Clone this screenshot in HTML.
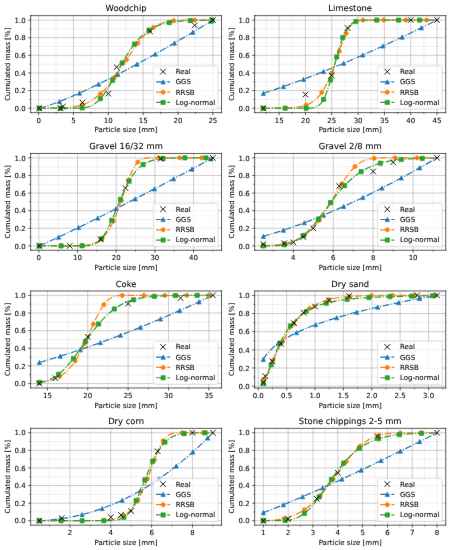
<!DOCTYPE html>
<html><head><meta charset="utf-8"><title>Particle size distributions</title>
<style>html,body{margin:0;padding:0;background:#fff;}body{width:453px;height:550px;overflow:hidden;}svg{display:block;text-rendering:geometricPrecision;}svg text{stroke:#000;stroke-width:0.1px;stroke-linejoin:round;}</style>
</head><body>
<svg width="453" height="550" viewBox="0 0 647.14 785.71">
<defs><filter id="soft" x="0" y="0" width="1" height="1" color-interpolation-filters="sRGB"><feConvolveMatrix order="3" kernelMatrix="0 0.04 0 0.04 0.84 0.04 0 0.04 0" edgeMode="duplicate" preserveAlpha="true"/></filter>
<style type="text/css">*{stroke-linejoin: round; stroke-linecap: butt}</style>
</defs>
<g filter="url(#soft)"><g id="figure_1" transform="translate(0.36 0.36)">
<g id="patch_1">
<path d="M 0 785.71 
L 647.14 785.71 
L 647.14 0 
L 0 0 
z
" style="fill: #ffffff"/>
</g>
<g id="axes_1">
<g id="patch_2">
<path d="M 43.43 160.57 
L 316.14 160.57 
L 316.14 22 
L 43.43 22 
z
" style="fill: #ffffff"/>
</g>
<g id="matplotlib.axis_1">
<g id="xtick_1">
<g id="line2d_1">
<path d="M 54.83 160.57 
L 54.83 22 
" clip-path="url(#pbe98b4c675)" style="fill: none; stroke: #b0b0b0; stroke-width: 0.92; stroke-linecap: square"/>
</g>
<g id="line2d_2">
<g>
<path d="M 0 0 
L 0 3.5 
" transform="translate(54.83 160.57)" style="stroke: #000000; stroke-width: 0.92"/>
</g>
</g>
<g id="text_1">
<text style="font-size: 10px; font-family: 'DejaVu Sans', 'Liberation Sans', sans-serif; text-anchor: middle" x="54.83" y="175.17">0</text>
</g>
</g>
<g id="xtick_2">
<g id="line2d_3">
<path d="M 104.61 160.57 
L 104.61 22 
" clip-path="url(#pbe98b4c675)" style="fill: none; stroke: #b0b0b0; stroke-width: 0.92; stroke-linecap: square"/>
</g>
<g id="line2d_4">
<g>
<path d="M 0 0 
L 0 3.5 
" transform="translate(104.61 160.57)" style="stroke: #000000; stroke-width: 0.92"/>
</g>
</g>
<g id="text_2">
<text style="font-size: 10px; font-family: 'DejaVu Sans', 'Liberation Sans', sans-serif; text-anchor: middle" x="104.61" y="175.17">5</text>
</g>
</g>
<g id="xtick_3">
<g id="line2d_5">
<path d="M 154.4 160.57 
L 154.4 22 
" clip-path="url(#pbe98b4c675)" style="fill: none; stroke: #b0b0b0; stroke-width: 0.92; stroke-linecap: square"/>
</g>
<g id="line2d_6">
<g>
<path d="M 0 0 
L 0 3.5 
" transform="translate(154.4 160.57)" style="stroke: #000000; stroke-width: 0.92"/>
</g>
</g>
<g id="text_3">
<text style="font-size: 10px; font-family: 'DejaVu Sans', 'Liberation Sans', sans-serif; text-anchor: middle" x="154.4" y="175.17">10</text>
</g>
</g>
<g id="xtick_4">
<g id="line2d_7">
<path d="M 204.18 160.57 
L 204.18 22 
" clip-path="url(#pbe98b4c675)" style="fill: none; stroke: #b0b0b0; stroke-width: 0.92; stroke-linecap: square"/>
</g>
<g id="line2d_8">
<g>
<path d="M 0 0 
L 0 3.5 
" transform="translate(204.18 160.57)" style="stroke: #000000; stroke-width: 0.92"/>
</g>
</g>
<g id="text_4">
<text style="font-size: 10px; font-family: 'DejaVu Sans', 'Liberation Sans', sans-serif; text-anchor: middle" x="204.18" y="175.17">15</text>
</g>
</g>
<g id="xtick_5">
<g id="line2d_9">
<path d="M 253.96 160.57 
L 253.96 22 
" clip-path="url(#pbe98b4c675)" style="fill: none; stroke: #b0b0b0; stroke-width: 0.92; stroke-linecap: square"/>
</g>
<g id="line2d_10">
<g>
<path d="M 0 0 
L 0 3.5 
" transform="translate(253.96 160.57)" style="stroke: #000000; stroke-width: 0.92"/>
</g>
</g>
<g id="text_5">
<text style="font-size: 10px; font-family: 'DejaVu Sans', 'Liberation Sans', sans-serif; text-anchor: middle" x="253.96" y="175.17">20</text>
</g>
</g>
<g id="xtick_6">
<g id="line2d_11">
<path d="M 303.75 160.57 
L 303.75 22 
" clip-path="url(#pbe98b4c675)" style="fill: none; stroke: #b0b0b0; stroke-width: 0.92; stroke-linecap: square"/>
</g>
<g id="line2d_12">
<g>
<path d="M 0 0 
L 0 3.5 
" transform="translate(303.75 160.57)" style="stroke: #000000; stroke-width: 0.92"/>
</g>
</g>
<g id="text_6">
<text style="font-size: 10px; font-family: 'DejaVu Sans', 'Liberation Sans', sans-serif; text-anchor: middle" x="303.75" y="175.17">25</text>
</g>
</g>
<g id="xtick_7">
<g id="line2d_13">
<path d="M 79.72 160.57 
L 79.72 22 
" clip-path="url(#pbe98b4c675)" style="fill: none; stroke: #b0b0b0; stroke-opacity: 0.3; stroke-width: 0.92; stroke-linecap: square"/>
</g>
<g id="line2d_14">
<g>
<path d="M 0 0 
L 0 2 
" transform="translate(79.72 160.57)" style="stroke: #000000; stroke-width: 0.69"/>
</g>
</g>
</g>
<g id="xtick_8">
<g id="line2d_15">
<path d="M 129.5 160.57 
L 129.5 22 
" clip-path="url(#pbe98b4c675)" style="fill: none; stroke: #b0b0b0; stroke-opacity: 0.3; stroke-width: 0.92; stroke-linecap: square"/>
</g>
<g id="line2d_16">
<g>
<path d="M 0 0 
L 0 2 
" transform="translate(129.5 160.57)" style="stroke: #000000; stroke-width: 0.69"/>
</g>
</g>
</g>
<g id="xtick_9">
<g id="line2d_17">
<path d="M 179.29 160.57 
L 179.29 22 
" clip-path="url(#pbe98b4c675)" style="fill: none; stroke: #b0b0b0; stroke-opacity: 0.3; stroke-width: 0.92; stroke-linecap: square"/>
</g>
<g id="line2d_18">
<g>
<path d="M 0 0 
L 0 2 
" transform="translate(179.29 160.57)" style="stroke: #000000; stroke-width: 0.69"/>
</g>
</g>
</g>
<g id="xtick_10">
<g id="line2d_19">
<path d="M 229.07 160.57 
L 229.07 22 
" clip-path="url(#pbe98b4c675)" style="fill: none; stroke: #b0b0b0; stroke-opacity: 0.3; stroke-width: 0.92; stroke-linecap: square"/>
</g>
<g id="line2d_20">
<g>
<path d="M 0 0 
L 0 2 
" transform="translate(229.07 160.57)" style="stroke: #000000; stroke-width: 0.69"/>
</g>
</g>
</g>
<g id="xtick_11">
<g id="line2d_21">
<path d="M 278.85 160.57 
L 278.85 22 
" clip-path="url(#pbe98b4c675)" style="fill: none; stroke: #b0b0b0; stroke-opacity: 0.3; stroke-width: 0.92; stroke-linecap: square"/>
</g>
<g id="line2d_22">
<g>
<path d="M 0 0 
L 0 2 
" transform="translate(278.85 160.57)" style="stroke: #000000; stroke-width: 0.69"/>
</g>
</g>
</g>
<g id="text_7">
<text style="font-size: 10px; font-family: 'DejaVu Sans', 'Liberation Sans', sans-serif; text-anchor: middle" x="179.79" y="188.85">Particle size [mm]</text>
</g>
</g>
<g id="matplotlib.axis_2">
<g id="ytick_1">
<g id="line2d_23">
<path d="M 43.43 154.27 
L 316.14 154.27 
" clip-path="url(#pbe98b4c675)" style="fill: none; stroke: #b0b0b0; stroke-width: 0.92; stroke-linecap: square"/>
</g>
<g id="line2d_24">
<g>
<path d="M 0 0 
L -3.5 0 
" transform="translate(43.43 154.27)" style="stroke: #000000; stroke-width: 0.92"/>
</g>
</g>
<g id="text_8">
<text style="font-size: 10px; font-family: 'DejaVu Sans', 'Liberation Sans', sans-serif; text-anchor: end" x="36.43" y="158.07">0.0</text>
</g>
</g>
<g id="ytick_2">
<g id="line2d_25">
<path d="M 43.43 129.08 
L 316.14 129.08 
" clip-path="url(#pbe98b4c675)" style="fill: none; stroke: #b0b0b0; stroke-width: 0.92; stroke-linecap: square"/>
</g>
<g id="line2d_26">
<g>
<path d="M 0 0 
L -3.5 0 
" transform="translate(43.43 129.08)" style="stroke: #000000; stroke-width: 0.92"/>
</g>
</g>
<g id="text_9">
<text style="font-size: 10px; font-family: 'DejaVu Sans', 'Liberation Sans', sans-serif; text-anchor: end" x="36.43" y="132.88">0.2</text>
</g>
</g>
<g id="ytick_3">
<g id="line2d_27">
<path d="M 43.43 103.88 
L 316.14 103.88 
" clip-path="url(#pbe98b4c675)" style="fill: none; stroke: #b0b0b0; stroke-width: 0.92; stroke-linecap: square"/>
</g>
<g id="line2d_28">
<g>
<path d="M 0 0 
L -3.5 0 
" transform="translate(43.43 103.88)" style="stroke: #000000; stroke-width: 0.92"/>
</g>
</g>
<g id="text_10">
<text style="font-size: 10px; font-family: 'DejaVu Sans', 'Liberation Sans', sans-serif; text-anchor: end" x="36.43" y="107.68">0.4</text>
</g>
</g>
<g id="ytick_4">
<g id="line2d_29">
<path d="M 43.43 78.69 
L 316.14 78.69 
" clip-path="url(#pbe98b4c675)" style="fill: none; stroke: #b0b0b0; stroke-width: 0.92; stroke-linecap: square"/>
</g>
<g id="line2d_30">
<g>
<path d="M 0 0 
L -3.5 0 
" transform="translate(43.43 78.69)" style="stroke: #000000; stroke-width: 0.92"/>
</g>
</g>
<g id="text_11">
<text style="font-size: 10px; font-family: 'DejaVu Sans', 'Liberation Sans', sans-serif; text-anchor: end" x="36.43" y="82.49">0.6</text>
</g>
</g>
<g id="ytick_5">
<g id="line2d_31">
<path d="M 43.43 53.49 
L 316.14 53.49 
" clip-path="url(#pbe98b4c675)" style="fill: none; stroke: #b0b0b0; stroke-width: 0.92; stroke-linecap: square"/>
</g>
<g id="line2d_32">
<g>
<path d="M 0 0 
L -3.5 0 
" transform="translate(43.43 53.49)" style="stroke: #000000; stroke-width: 0.92"/>
</g>
</g>
<g id="text_12">
<text style="font-size: 10px; font-family: 'DejaVu Sans', 'Liberation Sans', sans-serif; text-anchor: end" x="36.43" y="57.29">0.8</text>
</g>
</g>
<g id="ytick_6">
<g id="line2d_33">
<path d="M 43.43 28.3 
L 316.14 28.3 
" clip-path="url(#pbe98b4c675)" style="fill: none; stroke: #b0b0b0; stroke-width: 0.92; stroke-linecap: square"/>
</g>
<g id="line2d_34">
<g>
<path d="M 0 0 
L -3.5 0 
" transform="translate(43.43 28.3)" style="stroke: #000000; stroke-width: 0.92"/>
</g>
</g>
<g id="text_13">
<text style="font-size: 10px; font-family: 'DejaVu Sans', 'Liberation Sans', sans-serif; text-anchor: end" x="36.43" y="32.1">1.0</text>
</g>
</g>
<g id="ytick_7">
<g id="line2d_35">
<path d="M 43.43 141.68 
L 316.14 141.68 
" clip-path="url(#pbe98b4c675)" style="fill: none; stroke: #b0b0b0; stroke-opacity: 0.3; stroke-width: 0.92; stroke-linecap: square"/>
</g>
<g id="line2d_36">
<g>
<path d="M 0 0 
L -2 0 
" transform="translate(43.43 141.68)" style="stroke: #000000; stroke-width: 0.69"/>
</g>
</g>
</g>
<g id="ytick_8">
<g id="line2d_37">
<path d="M 43.43 116.48 
L 316.14 116.48 
" clip-path="url(#pbe98b4c675)" style="fill: none; stroke: #b0b0b0; stroke-opacity: 0.3; stroke-width: 0.92; stroke-linecap: square"/>
</g>
<g id="line2d_38">
<g>
<path d="M 0 0 
L -2 0 
" transform="translate(43.43 116.48)" style="stroke: #000000; stroke-width: 0.69"/>
</g>
</g>
</g>
<g id="ytick_9">
<g id="line2d_39">
<path d="M 43.43 91.29 
L 316.14 91.29 
" clip-path="url(#pbe98b4c675)" style="fill: none; stroke: #b0b0b0; stroke-opacity: 0.3; stroke-width: 0.92; stroke-linecap: square"/>
</g>
<g id="line2d_40">
<g>
<path d="M 0 0 
L -2 0 
" transform="translate(43.43 91.29)" style="stroke: #000000; stroke-width: 0.69"/>
</g>
</g>
</g>
<g id="ytick_10">
<g id="line2d_41">
<path d="M 43.43 66.09 
L 316.14 66.09 
" clip-path="url(#pbe98b4c675)" style="fill: none; stroke: #b0b0b0; stroke-opacity: 0.3; stroke-width: 0.92; stroke-linecap: square"/>
</g>
<g id="line2d_42">
<g>
<path d="M 0 0 
L -2 0 
" transform="translate(43.43 66.09)" style="stroke: #000000; stroke-width: 0.69"/>
</g>
</g>
</g>
<g id="ytick_11">
<g id="line2d_43">
<path d="M 43.43 40.9 
L 316.14 40.9 
" clip-path="url(#pbe98b4c675)" style="fill: none; stroke: #b0b0b0; stroke-opacity: 0.3; stroke-width: 0.92; stroke-linecap: square"/>
</g>
<g id="line2d_44">
<g>
<path d="M 0 0 
L -2 0 
" transform="translate(43.43 40.9)" style="stroke: #000000; stroke-width: 0.69"/>
</g>
</g>
</g>
<g id="text_14">
<text style="font-size: 10px; font-family: 'DejaVu Sans', 'Liberation Sans', sans-serif; text-anchor: middle" x="14.45" y="91.29" transform="rotate(-90 14.45 91.29)">Cumulated mass [%]</text>
</g>
</g>
<g id="line2d_45">
<path d="M 55.82 154.12 
L 59.56 153.24 
L 64.55 151.81 
L 70.77 149.78 
L 78.25 147.11 
L 86.97 143.76 
L 96.94 139.68 
L 108.15 134.84 
L 120.61 129.21 
L 134.31 122.74 
L 148.02 116.02 
L 162.97 108.46 
L 179.16 100 
L 196.6 90.64 
L 214.05 81.02 
L 232.73 70.46 
L 252.67 58.93 
L 272.6 47.16 
L 293.78 34.39 
L 303.75 28.3 
L 303.75 28.3 
" clip-path="url(#pbe98b4c675)" style="fill: none; stroke-dasharray: 9.6,2.4,1.5,2.4; stroke-dashoffset: 0; stroke: #1f77b4; stroke-width: 1.73"/>
<g clip-path="url(#pbe98b4c675)">
<path d="M 0 -3 
L -3 3 
L 3 3 
z
" transform="translate(55.82 154.12)" style="fill: #1f77b4; stroke: #1f77b4; stroke-linejoin: miter"/>
<path d="M 0 -3 
L -3 3 
L 3 3 
z
" transform="translate(84.48 144.74)" style="fill: #1f77b4; stroke: #1f77b4; stroke-linejoin: miter"/>
<path d="M 0 -3 
L -3 3 
L 3 3 
z
" transform="translate(113.13 132.62)" style="fill: #1f77b4; stroke: #1f77b4; stroke-linejoin: miter"/>
<path d="M 0 -3 
L -3 3 
L 3 3 
z
" transform="translate(140.54 119.71)" style="fill: #1f77b4; stroke: #1f77b4; stroke-linejoin: miter"/>
<path d="M 0 -3 
L -3 3 
L 3 3 
z
" transform="translate(167.95 105.88)" style="fill: #1f77b4; stroke: #1f77b4; stroke-linejoin: miter"/>
<path d="M 0 -3 
L -3 3 
L 3 3 
z
" transform="translate(195.36 91.31)" style="fill: #1f77b4; stroke: #1f77b4; stroke-linejoin: miter"/>
<path d="M 0 -3 
L -3 3 
L 3 3 
z
" transform="translate(221.52 76.82)" style="fill: #1f77b4; stroke: #1f77b4; stroke-linejoin: miter"/>
<path d="M 0 -3 
L -3 3 
L 3 3 
z
" transform="translate(248.93 61.11)" style="fill: #1f77b4; stroke: #1f77b4; stroke-linejoin: miter"/>
<path d="M 0 -3 
L -3 3 
L 3 3 
z
" transform="translate(275.09 45.67)" style="fill: #1f77b4; stroke: #1f77b4; stroke-linejoin: miter"/>
<path d="M 0 -3 
L -3 3 
L 3 3 
z
" transform="translate(301.26 29.83)" style="fill: #1f77b4; stroke: #1f77b4; stroke-linejoin: miter"/>
</g>
</g>
<g id="line2d_46">
<path d="M 55.82 154.27 
L 79.5 154.17 
L 88.22 153.91 
L 94.45 153.52 
L 99.43 153.03 
L 104.41 152.33 
L 109.4 151.37 
L 113.13 150.45 
L 116.87 149.31 
L 120.61 147.95 
L 124.35 146.33 
L 128.08 144.43 
L 131.82 142.23 
L 135.56 139.71 
L 139.3 136.84 
L 143.03 133.63 
L 146.77 130.06 
L 150.51 126.13 
L 154.25 121.85 
L 157.98 117.25 
L 161.72 112.33 
L 166.7 105.38 
L 172.93 96.17 
L 191.62 68.03 
L 196.6 61.17 
L 200.34 56.4 
L 204.08 51.99 
L 207.82 47.99 
L 211.55 44.41 
L 215.29 41.27 
L 217.78 39.43 
L 220.28 37.77 
L 222.77 36.29 
L 226.5 34.4 
L 230.24 32.86 
L 233.98 31.64 
L 237.72 30.7 
L 241.45 29.98 
L 246.44 29.31 
L 251.42 28.88 
L 257.65 28.57 
L 266.37 28.38 
L 282.57 28.3 
L 303.75 28.3 
L 303.75 28.3 
" clip-path="url(#pbe98b4c675)" style="fill: none; stroke-dasharray: 9.6,2.4,1.5,2.4; stroke-dashoffset: 0; stroke: #ff7f0e; stroke-width: 1.73"/>
<g clip-path="url(#pbe98b4c675)">
<path d="M 0 3 
C 0.8 3 1.56 2.68 2.12 2.12 
C 2.68 1.56 3 0.8 3 0 
C 3 -0.8 2.68 -1.56 2.12 -2.12 
C 1.56 -2.68 0.8 -3 0 -3 
C -0.8 -3 -1.56 -2.68 -2.12 -2.12 
C -2.68 -1.56 -3 -0.8 -3 0 
C -3 0.8 -2.68 1.56 -2.12 2.12 
C -1.56 2.68 -0.8 3 0 3 
z
" transform="translate(55.82 154.27)" style="fill: #ff7f0e; stroke: #ff7f0e"/>
<path d="M 0 3 
C 0.8 3 1.56 2.68 2.12 2.12 
C 2.68 1.56 3 0.8 3 0 
C 3 -0.8 2.68 -1.56 2.12 -2.12 
C 1.56 -2.68 0.8 -3 0 -3 
C -0.8 -3 -1.56 -2.68 -2.12 -2.12 
C -2.68 -1.56 -3 -0.8 -3 0 
C -3 0.8 -2.68 1.56 -2.12 2.12 
C -1.56 2.68 -0.8 3 0 3 
z
" transform="translate(86.97 153.96)" style="fill: #ff7f0e; stroke: #ff7f0e"/>
<path d="M 0 3 
C 0.8 3 1.56 2.68 2.12 2.12 
C 2.68 1.56 3 0.8 3 0 
C 3 -0.8 2.68 -1.56 2.12 -2.12 
C 1.56 -2.68 0.8 -3 0 -3 
C -0.8 -3 -1.56 -2.68 -2.12 -2.12 
C -2.68 -1.56 -3 -0.8 -3 0 
C -3 0.8 -2.68 1.56 -2.12 2.12 
C -1.56 2.68 -0.8 3 0 3 
z
" transform="translate(116.87 149.31)" style="fill: #ff7f0e; stroke: #ff7f0e"/>
<path d="M 0 3 
C 0.8 3 1.56 2.68 2.12 2.12 
C 2.68 1.56 3 0.8 3 0 
C 3 -0.8 2.68 -1.56 2.12 -2.12 
C 1.56 -2.68 0.8 -3 0 -3 
C -0.8 -3 -1.56 -2.68 -2.12 -2.12 
C -2.68 -1.56 -3 -0.8 -3 0 
C -3 0.8 -2.68 1.56 -2.12 2.12 
C -1.56 2.68 -0.8 3 0 3 
z
" transform="translate(143.03 133.63)" style="fill: #ff7f0e; stroke: #ff7f0e"/>
<path d="M 0 3 
C 0.8 3 1.56 2.68 2.12 2.12 
C 2.68 1.56 3 0.8 3 0 
C 3 -0.8 2.68 -1.56 2.12 -2.12 
C 1.56 -2.68 0.8 -3 0 -3 
C -0.8 -3 -1.56 -2.68 -2.12 -2.12 
C -2.68 -1.56 -3 -0.8 -3 0 
C -3 0.8 -2.68 1.56 -2.12 2.12 
C -1.56 2.68 -0.8 3 0 3 
z
" transform="translate(162.97 110.64)" style="fill: #ff7f0e; stroke: #ff7f0e"/>
<path d="M 0 3 
C 0.8 3 1.56 2.68 2.12 2.12 
C 2.68 1.56 3 0.8 3 0 
C 3 -0.8 2.68 -1.56 2.12 -2.12 
C 1.56 -2.68 0.8 -3 0 -3 
C -0.8 -3 -1.56 -2.68 -2.12 -2.12 
C -2.68 -1.56 -3 -0.8 -3 0 
C -3 0.8 -2.68 1.56 -2.12 2.12 
C -1.56 2.68 -0.8 3 0 3 
z
" transform="translate(180.41 84.76)" style="fill: #ff7f0e; stroke: #ff7f0e"/>
<path d="M 0 3 
C 0.8 3 1.56 2.68 2.12 2.12 
C 2.68 1.56 3 0.8 3 0 
C 3 -0.8 2.68 -1.56 2.12 -2.12 
C 1.56 -2.68 0.8 -3 0 -3 
C -0.8 -3 -1.56 -2.68 -2.12 -2.12 
C -2.68 -1.56 -3 -0.8 -3 0 
C -3 0.8 -2.68 1.56 -2.12 2.12 
C -1.56 2.68 -0.8 3 0 3 
z
" transform="translate(196.6 61.17)" style="fill: #ff7f0e; stroke: #ff7f0e"/>
<path d="M 0 3 
C 0.8 3 1.56 2.68 2.12 2.12 
C 2.68 1.56 3 0.8 3 0 
C 3 -0.8 2.68 -1.56 2.12 -2.12 
C 1.56 -2.68 0.8 -3 0 -3 
C -0.8 -3 -1.56 -2.68 -2.12 -2.12 
C -2.68 -1.56 -3 -0.8 -3 0 
C -3 0.8 -2.68 1.56 -2.12 2.12 
C -1.56 2.68 -0.8 3 0 3 
z
" transform="translate(219.03 38.57)" style="fill: #ff7f0e; stroke: #ff7f0e"/>
<path d="M 0 3 
C 0.8 3 1.56 2.68 2.12 2.12 
C 2.68 1.56 3 0.8 3 0 
C 3 -0.8 2.68 -1.56 2.12 -2.12 
C 1.56 -2.68 0.8 -3 0 -3 
C -0.8 -3 -1.56 -2.68 -2.12 -2.12 
C -2.68 -1.56 -3 -0.8 -3 0 
C -3 0.8 -2.68 1.56 -2.12 2.12 
C -1.56 2.68 -0.8 3 0 3 
z
" transform="translate(247.68 29.18)" style="fill: #ff7f0e; stroke: #ff7f0e"/>
<path d="M 0 3 
C 0.8 3 1.56 2.68 2.12 2.12 
C 2.68 1.56 3 0.8 3 0 
C 3 -0.8 2.68 -1.56 2.12 -2.12 
C 1.56 -2.68 0.8 -3 0 -3 
C -0.8 -3 -1.56 -2.68 -2.12 -2.12 
C -2.68 -1.56 -3 -0.8 -3 0 
C -3 0.8 -2.68 1.56 -2.12 2.12 
C -1.56 2.68 -0.8 3 0 3 
z
" transform="translate(277.58 28.31)" style="fill: #ff7f0e; stroke: #ff7f0e"/>
</g>
</g>
<g id="line2d_47">
<path d="M 55.82 154.27 
L 110.64 154.17 
L 115.62 153.94 
L 119.36 153.58 
L 123.1 152.94 
L 125.59 152.31 
L 128.08 151.47 
L 130.58 150.4 
L 133.07 149.05 
L 135.56 147.41 
L 138.05 145.45 
L 140.54 143.17 
L 143.03 140.55 
L 145.53 137.61 
L 148.02 134.36 
L 150.51 130.81 
L 154.25 125.01 
L 157.98 118.75 
L 162.97 109.91 
L 175.43 87.42 
L 180.41 79.02 
L 184.15 73.14 
L 187.88 67.67 
L 191.62 62.66 
L 195.36 58.1 
L 199.1 54 
L 202.83 50.35 
L 206.57 47.13 
L 210.31 44.3 
L 214.05 41.84 
L 217.78 39.71 
L 221.52 37.88 
L 225.26 36.32 
L 229 34.98 
L 232.73 33.86 
L 237.72 32.63 
L 242.7 31.65 
L 247.68 30.89 
L 253.91 30.16 
L 261.39 29.55 
L 270.11 29.07 
L 281.32 28.72 
L 296.27 28.48 
L 303.75 28.42 
L 303.75 28.42 
" clip-path="url(#pbe98b4c675)" style="fill: none; stroke-dasharray: 9.6,2.4,1.5,2.4; stroke-dashoffset: 0; stroke: #2ca02c; stroke-width: 1.73"/>
<g clip-path="url(#pbe98b4c675)">
<path d="M -3 3 
L 3 3 
L 3 -3 
L -3 -3 
z
" transform="translate(55.82 154.27)" style="fill: #2ca02c; stroke: #2ca02c; stroke-linejoin: miter"/>
<path d="M -3 3 
L 3 3 
L 3 -3 
L -3 -3 
z
" transform="translate(85.72 154.27)" style="fill: #2ca02c; stroke: #2ca02c; stroke-linejoin: miter"/>
<path d="M -3 3 
L 3 3 
L 3 -3 
L -3 -3 
z
" transform="translate(116.87 153.84)" style="fill: #2ca02c; stroke: #2ca02c; stroke-linejoin: miter"/>
<path d="M -3 3 
L 3 3 
L 3 -3 
L -3 -3 
z
" transform="translate(143.03 140.55)" style="fill: #2ca02c; stroke: #2ca02c; stroke-linejoin: miter"/>
<path d="M -3 3 
L 3 3 
L 3 -3 
L -3 -3 
z
" transform="translate(160.48 114.38)" style="fill: #2ca02c; stroke: #2ca02c; stroke-linejoin: miter"/>
<path d="M -3 3 
L 3 3 
L 3 -3 
L -3 -3 
z
" transform="translate(174.18 89.6)" style="fill: #2ca02c; stroke: #2ca02c; stroke-linejoin: miter"/>
<path d="M -3 3 
L 3 3 
L 3 -3 
L -3 -3 
z
" transform="translate(191.62 62.66)" style="fill: #2ca02c; stroke: #2ca02c; stroke-linejoin: miter"/>
<path d="M -3 3 
L 3 3 
L 3 -3 
L -3 -3 
z
" transform="translate(212.8 42.62)" style="fill: #2ca02c; stroke: #2ca02c; stroke-linejoin: miter"/>
<path d="M -3 3 
L 3 3 
L 3 -3 
L -3 -3 
z
" transform="translate(241.45 31.88)" style="fill: #2ca02c; stroke: #2ca02c; stroke-linejoin: miter"/>
<path d="M -3 3 
L 3 3 
L 3 -3 
L -3 -3 
z
" transform="translate(271.35 29.02)" style="fill: #2ca02c; stroke: #2ca02c; stroke-linejoin: miter"/>
<path d="M -3 3 
L 3 3 
L 3 -3 
L -3 -3 
z
" transform="translate(302.5 28.42)" style="fill: #2ca02c; stroke: #2ca02c; stroke-linejoin: miter"/>
</g>
</g>
<g id="patch_3">
<path d="M 43.43 160.57 
L 43.43 22 
" style="fill: none; stroke: #000000; stroke-width: 0.92; stroke-linejoin: miter; stroke-linecap: square"/>
</g>
<g id="patch_4">
<path d="M 316.14 160.57 
L 316.14 22 
" style="fill: none; stroke: #000000; stroke-width: 0.92; stroke-linejoin: miter; stroke-linecap: square"/>
</g>
<g id="patch_5">
<path d="M 43.43 160.57 
L 316.14 160.57 
" style="fill: none; stroke: #000000; stroke-width: 0.92; stroke-linejoin: miter; stroke-linecap: square"/>
</g>
<g id="patch_6">
<path d="M 43.43 22 
L 316.14 22 
" style="fill: none; stroke: #000000; stroke-width: 0.92; stroke-linejoin: miter; stroke-linecap: square"/>
</g>
<g id="line2d_48">
<g clip-path="url(#pbe98b4c675)">
<path d="M -4 4 
L 4 -4 
M -4 -4 
L 4 4 
" transform="translate(55.82 154.27)" style="stroke: #000000; stroke-width: 1.26"/>
<path d="M -4 4 
L 4 -4 
M -4 -4 
L 4 4 
" transform="translate(86.19 154.27)" style="stroke: #000000; stroke-width: 1.26"/>
<path d="M -4 4 
L 4 -4 
M -4 -4 
L 4 4 
" transform="translate(89.68 151.75)" style="stroke: #000000; stroke-width: 1.26"/>
<path d="M -4 4 
L 4 -4 
M -4 -4 
L 4 4 
" transform="translate(117.56 146.21)" style="stroke: #000000; stroke-width: 1.26"/>
<path d="M -4 4 
L 4 -4 
M -4 -4 
L 4 4 
" transform="translate(154.4 133.36)" style="stroke: #000000; stroke-width: 1.26"/>
<path d="M -4 4 
L 4 -4 
M -4 -4 
L 4 4 
" transform="translate(166.34 95.57)" style="stroke: #000000; stroke-width: 1.26"/>
<path d="M -4 4 
L 4 -4 
M -4 -4 
L 4 4 
" transform="translate(214.14 44.68)" style="stroke: #000000; stroke-width: 1.26"/>
<path d="M -4 4 
L 4 -4 
M -4 -4 
L 4 4 
" transform="translate(277.86 35.86)" style="stroke: #000000; stroke-width: 1.26"/>
<path d="M -4 4 
L 4 -4 
M -4 -4 
L 4 4 
" transform="translate(303.75 28.3)" style="stroke: #000000; stroke-width: 1.26"/>
</g>
</g>
<g id="text_15">
<text style="font-size: 12px; font-family: 'DejaVu Sans', 'Liberation Sans', sans-serif; text-anchor: middle" x="179.79" y="16">Woodchip</text>
</g>
<g id="legend_1">
<g id="patch_7">
<path d="M 220.63 155.57 
L 309.14 155.57 
Q 311.14 155.57 311.14 153.57 
L 311.14 95.86 
Q 311.14 93.86 309.14 93.86 
L 220.63 93.86 
Q 218.63 93.86 218.63 95.86 
L 218.63 153.57 
Q 218.63 155.57 220.63 155.57 
z
" style="fill: #ffffff; opacity: 0.8; stroke: #cccccc; stroke-linejoin: miter"/>
</g>
<g id="line2d_49">
<g>
<path d="M -4 4 
L 4 -4 
M -4 -4 
L 4 4 
" transform="translate(232.63 101.96)" style="stroke: #000000; stroke-width: 1.26"/>
</g>
</g>
<g id="text_16">
<text style="font-size: 10px; font-family: 'DejaVu Sans', 'Liberation Sans', sans-serif; text-anchor: start" x="250.63" y="105.46">Real</text>
</g>
<g id="line2d_50">
<path d="M 222.63 116.64 
L 232.63 116.64 
L 242.63 116.64 
" style="fill: none; stroke-dasharray: 9.6,2.4,1.5,2.4; stroke-dashoffset: 0; stroke: #1f77b4; stroke-width: 1.73"/>
<g>
<path d="M 0 -3 
L -3 3 
L 3 3 
z
" transform="translate(232.63 116.64)" style="fill: #1f77b4; stroke: #1f77b4; stroke-linejoin: miter"/>
</g>
</g>
<g id="text_17">
<text style="font-size: 10px; font-family: 'DejaVu Sans', 'Liberation Sans', sans-serif; text-anchor: start" x="250.63" y="120.14">GGS</text>
</g>
<g id="line2d_51">
<path d="M 222.63 131.31 
L 232.63 131.31 
L 242.63 131.31 
" style="fill: none; stroke-dasharray: 9.6,2.4,1.5,2.4; stroke-dashoffset: 0; stroke: #ff7f0e; stroke-width: 1.73"/>
<g>
<path d="M 0 3 
C 0.8 3 1.56 2.68 2.12 2.12 
C 2.68 1.56 3 0.8 3 0 
C 3 -0.8 2.68 -1.56 2.12 -2.12 
C 1.56 -2.68 0.8 -3 0 -3 
C -0.8 -3 -1.56 -2.68 -2.12 -2.12 
C -2.68 -1.56 -3 -0.8 -3 0 
C -3 0.8 -2.68 1.56 -2.12 2.12 
C -1.56 2.68 -0.8 3 0 3 
z
" transform="translate(232.63 131.31)" style="fill: #ff7f0e; stroke: #ff7f0e"/>
</g>
</g>
<g id="text_18">
<text style="font-size: 10px; font-family: 'DejaVu Sans', 'Liberation Sans', sans-serif; text-anchor: start" x="250.63" y="134.81">RRSB</text>
</g>
<g id="line2d_52">
<path d="M 222.63 145.99 
L 232.63 145.99 
L 242.63 145.99 
" style="fill: none; stroke-dasharray: 9.6,2.4,1.5,2.4; stroke-dashoffset: 0; stroke: #2ca02c; stroke-width: 1.73"/>
<g>
<path d="M -3 3 
L 3 3 
L 3 -3 
L -3 -3 
z
" transform="translate(232.63 145.99)" style="fill: #2ca02c; stroke: #2ca02c; stroke-linejoin: miter"/>
</g>
</g>
<g id="text_19">
<text style="font-size: 10px; font-family: 'DejaVu Sans', 'Liberation Sans', sans-serif; text-anchor: start" x="250.63" y="149.49">Log-normal</text>
</g>
</g>
</g>
<g id="axes_2">
<g id="patch_8">
<path d="M 363.43 160.57 
L 636.43 160.57 
L 636.43 22 
L 363.43 22 
z
" style="fill: #ffffff"/>
</g>
<g id="matplotlib.axis_3">
<g id="xtick_12">
<g id="line2d_53">
<path d="M 398.4 160.57 
L 398.4 22 
" clip-path="url(#pab5b54e677)" style="fill: none; stroke: #b0b0b0; stroke-width: 0.92; stroke-linecap: square"/>
</g>
<g id="line2d_54">
<g>
<path d="M 0 0 
L 0 3.5 
" transform="translate(398.4 160.57)" style="stroke: #000000; stroke-width: 0.92"/>
</g>
</g>
<g id="text_20">
<text style="font-size: 10px; font-family: 'DejaVu Sans', 'Liberation Sans', sans-serif; text-anchor: middle" x="398.4" y="175.17">15</text>
</g>
</g>
<g id="xtick_13">
<g id="line2d_55">
<path d="M 436 160.57 
L 436 22 
" clip-path="url(#pab5b54e677)" style="fill: none; stroke: #b0b0b0; stroke-width: 0.92; stroke-linecap: square"/>
</g>
<g id="line2d_56">
<g>
<path d="M 0 0 
L 0 3.5 
" transform="translate(436 160.57)" style="stroke: #000000; stroke-width: 0.92"/>
</g>
</g>
<g id="text_21">
<text style="font-size: 10px; font-family: 'DejaVu Sans', 'Liberation Sans', sans-serif; text-anchor: middle" x="436" y="175.17">20</text>
</g>
</g>
<g id="xtick_14">
<g id="line2d_57">
<path d="M 473.61 160.57 
L 473.61 22 
" clip-path="url(#pab5b54e677)" style="fill: none; stroke: #b0b0b0; stroke-width: 0.92; stroke-linecap: square"/>
</g>
<g id="line2d_58">
<g>
<path d="M 0 0 
L 0 3.5 
" transform="translate(473.61 160.57)" style="stroke: #000000; stroke-width: 0.92"/>
</g>
</g>
<g id="text_22">
<text style="font-size: 10px; font-family: 'DejaVu Sans', 'Liberation Sans', sans-serif; text-anchor: middle" x="473.61" y="175.17">25</text>
</g>
</g>
<g id="xtick_15">
<g id="line2d_59">
<path d="M 511.21 160.57 
L 511.21 22 
" clip-path="url(#pab5b54e677)" style="fill: none; stroke: #b0b0b0; stroke-width: 0.92; stroke-linecap: square"/>
</g>
<g id="line2d_60">
<g>
<path d="M 0 0 
L 0 3.5 
" transform="translate(511.21 160.57)" style="stroke: #000000; stroke-width: 0.92"/>
</g>
</g>
<g id="text_23">
<text style="font-size: 10px; font-family: 'DejaVu Sans', 'Liberation Sans', sans-serif; text-anchor: middle" x="511.21" y="175.17">30</text>
</g>
</g>
<g id="xtick_16">
<g id="line2d_61">
<path d="M 548.81 160.57 
L 548.81 22 
" clip-path="url(#pab5b54e677)" style="fill: none; stroke: #b0b0b0; stroke-width: 0.92; stroke-linecap: square"/>
</g>
<g id="line2d_62">
<g>
<path d="M 0 0 
L 0 3.5 
" transform="translate(548.81 160.57)" style="stroke: #000000; stroke-width: 0.92"/>
</g>
</g>
<g id="text_24">
<text style="font-size: 10px; font-family: 'DejaVu Sans', 'Liberation Sans', sans-serif; text-anchor: middle" x="548.81" y="175.17">35</text>
</g>
</g>
<g id="xtick_17">
<g id="line2d_63">
<path d="M 586.42 160.57 
L 586.42 22 
" clip-path="url(#pab5b54e677)" style="fill: none; stroke: #b0b0b0; stroke-width: 0.92; stroke-linecap: square"/>
</g>
<g id="line2d_64">
<g>
<path d="M 0 0 
L 0 3.5 
" transform="translate(586.42 160.57)" style="stroke: #000000; stroke-width: 0.92"/>
</g>
</g>
<g id="text_25">
<text style="font-size: 10px; font-family: 'DejaVu Sans', 'Liberation Sans', sans-serif; text-anchor: middle" x="586.42" y="175.17">40</text>
</g>
</g>
<g id="xtick_18">
<g id="line2d_65">
<path d="M 624.02 160.57 
L 624.02 22 
" clip-path="url(#pab5b54e677)" style="fill: none; stroke: #b0b0b0; stroke-width: 0.92; stroke-linecap: square"/>
</g>
<g id="line2d_66">
<g>
<path d="M 0 0 
L 0 3.5 
" transform="translate(624.02 160.57)" style="stroke: #000000; stroke-width: 0.92"/>
</g>
</g>
<g id="text_26">
<text style="font-size: 10px; font-family: 'DejaVu Sans', 'Liberation Sans', sans-serif; text-anchor: middle" x="624.02" y="175.17">45</text>
</g>
</g>
<g id="xtick_19">
<g id="line2d_67">
<path d="M 379.6 160.57 
L 379.6 22 
" clip-path="url(#pab5b54e677)" style="fill: none; stroke: #b0b0b0; stroke-opacity: 0.3; stroke-width: 0.92; stroke-linecap: square"/>
</g>
<g id="line2d_68">
<g>
<path d="M 0 0 
L 0 2 
" transform="translate(379.6 160.57)" style="stroke: #000000; stroke-width: 0.69"/>
</g>
</g>
</g>
<g id="xtick_20">
<g id="line2d_69">
<path d="M 417.2 160.57 
L 417.2 22 
" clip-path="url(#pab5b54e677)" style="fill: none; stroke: #b0b0b0; stroke-opacity: 0.3; stroke-width: 0.92; stroke-linecap: square"/>
</g>
<g id="line2d_70">
<g>
<path d="M 0 0 
L 0 2 
" transform="translate(417.2 160.57)" style="stroke: #000000; stroke-width: 0.69"/>
</g>
</g>
</g>
<g id="xtick_21">
<g id="line2d_71">
<path d="M 454.8 160.57 
L 454.8 22 
" clip-path="url(#pab5b54e677)" style="fill: none; stroke: #b0b0b0; stroke-opacity: 0.3; stroke-width: 0.92; stroke-linecap: square"/>
</g>
<g id="line2d_72">
<g>
<path d="M 0 0 
L 0 2 
" transform="translate(454.8 160.57)" style="stroke: #000000; stroke-width: 0.69"/>
</g>
</g>
</g>
<g id="xtick_22">
<g id="line2d_73">
<path d="M 492.41 160.57 
L 492.41 22 
" clip-path="url(#pab5b54e677)" style="fill: none; stroke: #b0b0b0; stroke-opacity: 0.3; stroke-width: 0.92; stroke-linecap: square"/>
</g>
<g id="line2d_74">
<g>
<path d="M 0 0 
L 0 2 
" transform="translate(492.41 160.57)" style="stroke: #000000; stroke-width: 0.69"/>
</g>
</g>
</g>
<g id="xtick_23">
<g id="line2d_75">
<path d="M 530.01 160.57 
L 530.01 22 
" clip-path="url(#pab5b54e677)" style="fill: none; stroke: #b0b0b0; stroke-opacity: 0.3; stroke-width: 0.92; stroke-linecap: square"/>
</g>
<g id="line2d_76">
<g>
<path d="M 0 0 
L 0 2 
" transform="translate(530.01 160.57)" style="stroke: #000000; stroke-width: 0.69"/>
</g>
</g>
</g>
<g id="xtick_24">
<g id="line2d_77">
<path d="M 567.61 160.57 
L 567.61 22 
" clip-path="url(#pab5b54e677)" style="fill: none; stroke: #b0b0b0; stroke-opacity: 0.3; stroke-width: 0.92; stroke-linecap: square"/>
</g>
<g id="line2d_78">
<g>
<path d="M 0 0 
L 0 2 
" transform="translate(567.61 160.57)" style="stroke: #000000; stroke-width: 0.69"/>
</g>
</g>
</g>
<g id="xtick_25">
<g id="line2d_79">
<path d="M 605.22 160.57 
L 605.22 22 
" clip-path="url(#pab5b54e677)" style="fill: none; stroke: #b0b0b0; stroke-opacity: 0.3; stroke-width: 0.92; stroke-linecap: square"/>
</g>
<g id="line2d_80">
<g>
<path d="M 0 0 
L 0 2 
" transform="translate(605.22 160.57)" style="stroke: #000000; stroke-width: 0.69"/>
</g>
</g>
</g>
<g id="text_27">
<text style="font-size: 10px; font-family: 'DejaVu Sans', 'Liberation Sans', sans-serif; text-anchor: middle" x="499.93" y="188.85">Particle size [mm]</text>
</g>
</g>
<g id="matplotlib.axis_4">
<g id="ytick_12">
<g id="line2d_81">
<path d="M 363.43 154.27 
L 636.43 154.27 
" clip-path="url(#pab5b54e677)" style="fill: none; stroke: #b0b0b0; stroke-width: 0.92; stroke-linecap: square"/>
</g>
<g id="line2d_82">
<g>
<path d="M 0 0 
L -3.5 0 
" transform="translate(363.43 154.27)" style="stroke: #000000; stroke-width: 0.92"/>
</g>
</g>
<g id="text_28">
<text style="font-size: 10px; font-family: 'DejaVu Sans', 'Liberation Sans', sans-serif; text-anchor: end" x="356.43" y="158.07">0.0</text>
</g>
</g>
<g id="ytick_13">
<g id="line2d_83">
<path d="M 363.43 129.08 
L 636.43 129.08 
" clip-path="url(#pab5b54e677)" style="fill: none; stroke: #b0b0b0; stroke-width: 0.92; stroke-linecap: square"/>
</g>
<g id="line2d_84">
<g>
<path d="M 0 0 
L -3.5 0 
" transform="translate(363.43 129.08)" style="stroke: #000000; stroke-width: 0.92"/>
</g>
</g>
<g id="text_29">
<text style="font-size: 10px; font-family: 'DejaVu Sans', 'Liberation Sans', sans-serif; text-anchor: end" x="356.43" y="132.88">0.2</text>
</g>
</g>
<g id="ytick_14">
<g id="line2d_85">
<path d="M 363.43 103.88 
L 636.43 103.88 
" clip-path="url(#pab5b54e677)" style="fill: none; stroke: #b0b0b0; stroke-width: 0.92; stroke-linecap: square"/>
</g>
<g id="line2d_86">
<g>
<path d="M 0 0 
L -3.5 0 
" transform="translate(363.43 103.88)" style="stroke: #000000; stroke-width: 0.92"/>
</g>
</g>
<g id="text_30">
<text style="font-size: 10px; font-family: 'DejaVu Sans', 'Liberation Sans', sans-serif; text-anchor: end" x="356.43" y="107.68">0.4</text>
</g>
</g>
<g id="ytick_15">
<g id="line2d_87">
<path d="M 363.43 78.69 
L 636.43 78.69 
" clip-path="url(#pab5b54e677)" style="fill: none; stroke: #b0b0b0; stroke-width: 0.92; stroke-linecap: square"/>
</g>
<g id="line2d_88">
<g>
<path d="M 0 0 
L -3.5 0 
" transform="translate(363.43 78.69)" style="stroke: #000000; stroke-width: 0.92"/>
</g>
</g>
<g id="text_31">
<text style="font-size: 10px; font-family: 'DejaVu Sans', 'Liberation Sans', sans-serif; text-anchor: end" x="356.43" y="82.49">0.6</text>
</g>
</g>
<g id="ytick_16">
<g id="line2d_89">
<path d="M 363.43 53.49 
L 636.43 53.49 
" clip-path="url(#pab5b54e677)" style="fill: none; stroke: #b0b0b0; stroke-width: 0.92; stroke-linecap: square"/>
</g>
<g id="line2d_90">
<g>
<path d="M 0 0 
L -3.5 0 
" transform="translate(363.43 53.49)" style="stroke: #000000; stroke-width: 0.92"/>
</g>
</g>
<g id="text_32">
<text style="font-size: 10px; font-family: 'DejaVu Sans', 'Liberation Sans', sans-serif; text-anchor: end" x="356.43" y="57.29">0.8</text>
</g>
</g>
<g id="ytick_17">
<g id="line2d_91">
<path d="M 363.43 28.3 
L 636.43 28.3 
" clip-path="url(#pab5b54e677)" style="fill: none; stroke: #b0b0b0; stroke-width: 0.92; stroke-linecap: square"/>
</g>
<g id="line2d_92">
<g>
<path d="M 0 0 
L -3.5 0 
" transform="translate(363.43 28.3)" style="stroke: #000000; stroke-width: 0.92"/>
</g>
</g>
<g id="text_33">
<text style="font-size: 10px; font-family: 'DejaVu Sans', 'Liberation Sans', sans-serif; text-anchor: end" x="356.43" y="32.1">1.0</text>
</g>
</g>
<g id="ytick_18">
<g id="line2d_93">
<path d="M 363.43 141.68 
L 636.43 141.68 
" clip-path="url(#pab5b54e677)" style="fill: none; stroke: #b0b0b0; stroke-opacity: 0.3; stroke-width: 0.92; stroke-linecap: square"/>
</g>
<g id="line2d_94">
<g>
<path d="M 0 0 
L -2 0 
" transform="translate(363.43 141.68)" style="stroke: #000000; stroke-width: 0.69"/>
</g>
</g>
</g>
<g id="ytick_19">
<g id="line2d_95">
<path d="M 363.43 116.48 
L 636.43 116.48 
" clip-path="url(#pab5b54e677)" style="fill: none; stroke: #b0b0b0; stroke-opacity: 0.3; stroke-width: 0.92; stroke-linecap: square"/>
</g>
<g id="line2d_96">
<g>
<path d="M 0 0 
L -2 0 
" transform="translate(363.43 116.48)" style="stroke: #000000; stroke-width: 0.69"/>
</g>
</g>
</g>
<g id="ytick_20">
<g id="line2d_97">
<path d="M 363.43 91.29 
L 636.43 91.29 
" clip-path="url(#pab5b54e677)" style="fill: none; stroke: #b0b0b0; stroke-opacity: 0.3; stroke-width: 0.92; stroke-linecap: square"/>
</g>
<g id="line2d_98">
<g>
<path d="M 0 0 
L -2 0 
" transform="translate(363.43 91.29)" style="stroke: #000000; stroke-width: 0.69"/>
</g>
</g>
</g>
<g id="ytick_21">
<g id="line2d_99">
<path d="M 363.43 66.09 
L 636.43 66.09 
" clip-path="url(#pab5b54e677)" style="fill: none; stroke: #b0b0b0; stroke-opacity: 0.3; stroke-width: 0.92; stroke-linecap: square"/>
</g>
<g id="line2d_100">
<g>
<path d="M 0 0 
L -2 0 
" transform="translate(363.43 66.09)" style="stroke: #000000; stroke-width: 0.69"/>
</g>
</g>
</g>
<g id="ytick_22">
<g id="line2d_101">
<path d="M 363.43 40.9 
L 636.43 40.9 
" clip-path="url(#pab5b54e677)" style="fill: none; stroke: #b0b0b0; stroke-opacity: 0.3; stroke-width: 0.92; stroke-linecap: square"/>
</g>
<g id="line2d_102">
<g>
<path d="M 0 0 
L -2 0 
" transform="translate(363.43 40.9)" style="stroke: #000000; stroke-width: 0.69"/>
</g>
</g>
</g>
<g id="text_34">
<text style="font-size: 10px; font-family: 'DejaVu Sans', 'Liberation Sans', sans-serif; text-anchor: middle" x="334.45" y="91.29" transform="rotate(-90 334.45 91.29)">Cumulated mass [%]</text>
</g>
</g>
<g id="line2d_103">
<path d="M 375.84 132.89 
L 389.56 128.42 
L 404.52 123.31 
L 419.49 117.97 
L 435.7 111.95 
L 453.16 105.22 
L 470.62 98.24 
L 489.33 90.51 
L 508.04 82.53 
L 526.74 74.33 
L 546.7 65.33 
L 566.65 56.09 
L 587.85 46.02 
L 609.05 35.72 
L 624.02 28.3 
L 624.02 28.3 
" clip-path="url(#pab5b54e677)" style="fill: none; stroke-dasharray: 9.6,2.4,1.5,2.4; stroke-dashoffset: 0; stroke: #1f77b4; stroke-width: 1.73"/>
<g clip-path="url(#pab5b54e677)">
<path d="M 0 -3 
L -3 3 
L 3 3 
z
" transform="translate(375.84 132.89)" style="fill: #1f77b4; stroke: #1f77b4; stroke-linejoin: miter"/>
<path d="M 0 -3 
L -3 3 
L 3 3 
z
" transform="translate(404.52 123.31)" style="fill: #1f77b4; stroke: #1f77b4; stroke-linejoin: miter"/>
<path d="M 0 -3 
L -3 3 
L 3 3 
z
" transform="translate(433.21 112.89)" style="fill: #1f77b4; stroke: #1f77b4; stroke-linejoin: miter"/>
<path d="M 0 -3 
L -3 3 
L 3 3 
z
" transform="translate(461.89 101.76)" style="fill: #1f77b4; stroke: #1f77b4; stroke-linejoin: miter"/>
<path d="M 0 -3 
L -3 3 
L 3 3 
z
" transform="translate(490.57 89.99)" style="fill: #1f77b4; stroke: #1f77b4; stroke-linejoin: miter"/>
<path d="M 0 -3 
L -3 3 
L 3 3 
z
" transform="translate(518.01 78.18)" style="fill: #1f77b4; stroke: #1f77b4; stroke-linejoin: miter"/>
<path d="M 0 -3 
L -3 3 
L 3 3 
z
" transform="translate(546.7 65.33)" style="fill: #1f77b4; stroke: #1f77b4; stroke-linejoin: miter"/>
<path d="M 0 -3 
L -3 3 
L 3 3 
z
" transform="translate(574.13 52.56)" style="fill: #1f77b4; stroke: #1f77b4; stroke-linejoin: miter"/>
<path d="M 0 -3 
L -3 3 
L 3 3 
z
" transform="translate(601.57 39.38)" style="fill: #1f77b4; stroke: #1f77b4; stroke-linejoin: miter"/>
</g>
</g>
<g id="line2d_104">
<path d="M 375.84 154.26 
L 399.53 154.13 
L 409.51 153.88 
L 416.99 153.47 
L 421.98 153.01 
L 426.97 152.31 
L 430.71 151.58 
L 434.45 150.6 
L 438.19 149.32 
L 440.69 148.25 
L 443.18 146.98 
L 445.68 145.48 
L 448.17 143.71 
L 450.67 141.65 
L 453.16 139.25 
L 455.65 136.47 
L 458.15 133.28 
L 460.64 129.65 
L 463.14 125.54 
L 465.63 120.94 
L 468.13 115.83 
L 470.62 110.22 
L 473.11 104.14 
L 476.86 94.25 
L 481.84 80.1 
L 488.08 62.42 
L 490.57 55.89 
L 493.07 49.92 
L 495.56 44.65 
L 498.06 40.18 
L 499.3 38.26 
L 500.55 36.55 
L 501.8 35.04 
L 503.05 33.74 
L 504.29 32.62 
L 505.54 31.69 
L 506.79 30.91 
L 508.04 30.28 
L 510.53 29.37 
L 513.02 28.83 
L 515.52 28.54 
L 519.26 28.36 
L 526.74 28.3 
L 624.02 28.3 
L 624.02 28.3 
" clip-path="url(#pab5b54e677)" style="fill: none; stroke-dasharray: 9.6,2.4,1.5,2.4; stroke-dashoffset: 0; stroke: #ff7f0e; stroke-width: 1.73"/>
<g clip-path="url(#pab5b54e677)">
<path d="M 0 3 
C 0.8 3 1.56 2.68 2.12 2.12 
C 2.68 1.56 3 0.8 3 0 
C 3 -0.8 2.68 -1.56 2.12 -2.12 
C 1.56 -2.68 0.8 -3 0 -3 
C -0.8 -3 -1.56 -2.68 -2.12 -2.12 
C -2.68 -1.56 -3 -0.8 -3 0 
C -3 0.8 -2.68 1.56 -2.12 2.12 
C -1.56 2.68 -0.8 3 0 3 
z
" transform="translate(375.84 154.26)" style="fill: #ff7f0e; stroke: #ff7f0e"/>
<path d="M 0 3 
C 0.8 3 1.56 2.68 2.12 2.12 
C 2.68 1.56 3 0.8 3 0 
C 3 -0.8 2.68 -1.56 2.12 -2.12 
C 1.56 -2.68 0.8 -3 0 -3 
C -0.8 -3 -1.56 -2.68 -2.12 -2.12 
C -2.68 -1.56 -3 -0.8 -3 0 
C -3 0.8 -2.68 1.56 -2.12 2.12 
C -1.56 2.68 -0.8 3 0 3 
z
" transform="translate(407.02 153.97)" style="fill: #ff7f0e; stroke: #ff7f0e"/>
<path d="M 0 3 
C 0.8 3 1.56 2.68 2.12 2.12 
C 2.68 1.56 3 0.8 3 0 
C 3 -0.8 2.68 -1.56 2.12 -2.12 
C 1.56 -2.68 0.8 -3 0 -3 
C -0.8 -3 -1.56 -2.68 -2.12 -2.12 
C -2.68 -1.56 -3 -0.8 -3 0 
C -3 0.8 -2.68 1.56 -2.12 2.12 
C -1.56 2.68 -0.8 3 0 3 
z
" transform="translate(436.95 149.78)" style="fill: #ff7f0e; stroke: #ff7f0e"/>
<path d="M 0 3 
C 0.8 3 1.56 2.68 2.12 2.12 
C 2.68 1.56 3 0.8 3 0 
C 3 -0.8 2.68 -1.56 2.12 -2.12 
C 1.56 -2.68 0.8 -3 0 -3 
C -0.8 -3 -1.56 -2.68 -2.12 -2.12 
C -2.68 -1.56 -3 -0.8 -3 0 
C -3 0.8 -2.68 1.56 -2.12 2.12 
C -1.56 2.68 -0.8 3 0 3 
z
" transform="translate(459.4 131.52)" style="fill: #ff7f0e; stroke: #ff7f0e"/>
<path d="M 0 3 
C 0.8 3 1.56 2.68 2.12 2.12 
C 2.68 1.56 3 0.8 3 0 
C 3 -0.8 2.68 -1.56 2.12 -2.12 
C 1.56 -2.68 0.8 -3 0 -3 
C -0.8 -3 -1.56 -2.68 -2.12 -2.12 
C -2.68 -1.56 -3 -0.8 -3 0 
C -3 0.8 -2.68 1.56 -2.12 2.12 
C -1.56 2.68 -0.8 3 0 3 
z
" transform="translate(473.11 104.14)" style="fill: #ff7f0e; stroke: #ff7f0e"/>
<path d="M 0 3 
C 0.8 3 1.56 2.68 2.12 2.12 
C 2.68 1.56 3 0.8 3 0 
C 3 -0.8 2.68 -1.56 2.12 -2.12 
C 1.56 -2.68 0.8 -3 0 -3 
C -0.8 -3 -1.56 -2.68 -2.12 -2.12 
C -2.68 -1.56 -3 -0.8 -3 0 
C -3 0.8 -2.68 1.56 -2.12 2.12 
C -1.56 2.68 -0.8 3 0 3 
z
" transform="translate(484.34 72.91)" style="fill: #ff7f0e; stroke: #ff7f0e"/>
<path d="M 0 3 
C 0.8 3 1.56 2.68 2.12 2.12 
C 2.68 1.56 3 0.8 3 0 
C 3 -0.8 2.68 -1.56 2.12 -2.12 
C 1.56 -2.68 0.8 -3 0 -3 
C -0.8 -3 -1.56 -2.68 -2.12 -2.12 
C -2.68 -1.56 -3 -0.8 -3 0 
C -3 0.8 -2.68 1.56 -2.12 2.12 
C -1.56 2.68 -0.8 3 0 3 
z
" transform="translate(494.32 47.19)" style="fill: #ff7f0e; stroke: #ff7f0e"/>
<path d="M 0 3 
C 0.8 3 1.56 2.68 2.12 2.12 
C 2.68 1.56 3 0.8 3 0 
C 3 -0.8 2.68 -1.56 2.12 -2.12 
C 1.56 -2.68 0.8 -3 0 -3 
C -0.8 -3 -1.56 -2.68 -2.12 -2.12 
C -2.68 -1.56 -3 -0.8 -3 0 
C -3 0.8 -2.68 1.56 -2.12 2.12 
C -1.56 2.68 -0.8 3 0 3 
z
" transform="translate(518.01 28.4)" style="fill: #ff7f0e; stroke: #ff7f0e"/>
<path d="M 0 3 
C 0.8 3 1.56 2.68 2.12 2.12 
C 2.68 1.56 3 0.8 3 0 
C 3 -0.8 2.68 -1.56 2.12 -2.12 
C 1.56 -2.68 0.8 -3 0 -3 
C -0.8 -3 -1.56 -2.68 -2.12 -2.12 
C -2.68 -1.56 -3 -0.8 -3 0 
C -3 0.8 -2.68 1.56 -2.12 2.12 
C -1.56 2.68 -0.8 3 0 3 
z
" transform="translate(547.94 28.3)" style="fill: #ff7f0e; stroke: #ff7f0e"/>
<path d="M 0 3 
C 0.8 3 1.56 2.68 2.12 2.12 
C 2.68 1.56 3 0.8 3 0 
C 3 -0.8 2.68 -1.56 2.12 -2.12 
C 1.56 -2.68 0.8 -3 0 -3 
C -0.8 -3 -1.56 -2.68 -2.12 -2.12 
C -2.68 -1.56 -3 -0.8 -3 0 
C -3 0.8 -2.68 1.56 -2.12 2.12 
C -1.56 2.68 -0.8 3 0 3 
z
" transform="translate(579.12 28.3)" style="fill: #ff7f0e; stroke: #ff7f0e"/>
<path d="M 0 3 
C 0.8 3 1.56 2.68 2.12 2.12 
C 2.68 1.56 3 0.8 3 0 
C 3 -0.8 2.68 -1.56 2.12 -2.12 
C 1.56 -2.68 0.8 -3 0 -3 
C -0.8 -3 -1.56 -2.68 -2.12 -2.12 
C -2.68 -1.56 -3 -0.8 -3 0 
C -3 0.8 -2.68 1.56 -2.12 2.12 
C -1.56 2.68 -0.8 3 0 3 
z
" transform="translate(609.05 28.3)" style="fill: #ff7f0e; stroke: #ff7f0e"/>
</g>
</g>
<g id="line2d_105">
<path d="M 375.84 154.27 
L 440.69 154.17 
L 444.43 153.96 
L 446.92 153.64 
L 449.42 153.1 
L 451.91 152.18 
L 453.16 151.54 
L 454.41 150.75 
L 455.65 149.78 
L 456.9 148.61 
L 458.15 147.22 
L 459.4 145.59 
L 460.64 143.69 
L 461.89 141.52 
L 463.14 139.06 
L 464.38 136.3 
L 466.88 129.89 
L 469.37 122.37 
L 471.87 113.9 
L 475.61 100 
L 481.84 76.45 
L 484.34 67.83 
L 486.83 60.04 
L 489.33 53.23 
L 491.82 47.45 
L 494.32 42.69 
L 495.56 40.67 
L 496.81 38.88 
L 498.06 37.3 
L 499.3 35.91 
L 500.55 34.71 
L 501.8 33.66 
L 504.29 32 
L 506.79 30.8 
L 509.28 29.96 
L 511.78 29.38 
L 515.52 28.85 
L 519.26 28.56 
L 525.5 28.37 
L 537.97 28.3 
L 624.02 28.3 
L 624.02 28.3 
" clip-path="url(#pab5b54e677)" style="fill: none; stroke-dasharray: 9.6,2.4,1.5,2.4; stroke-dashoffset: 0; stroke: #2ca02c; stroke-width: 1.73"/>
<g clip-path="url(#pab5b54e677)">
<path d="M -3 3 
L 3 3 
L 3 -3 
L -3 -3 
z
" transform="translate(375.84 154.27)" style="fill: #2ca02c; stroke: #2ca02c; stroke-linejoin: miter"/>
<path d="M -3 3 
L 3 3 
L 3 -3 
L -3 -3 
z
" transform="translate(407.02 154.27)" style="fill: #2ca02c; stroke: #2ca02c; stroke-linejoin: miter"/>
<path d="M -3 3 
L 3 3 
L 3 -3 
L -3 -3 
z
" transform="translate(436.95 154.24)" style="fill: #2ca02c; stroke: #2ca02c; stroke-linejoin: miter"/>
<path d="M -3 3 
L 3 3 
L 3 -3 
L -3 -3 
z
" transform="translate(461.89 141.52)" style="fill: #2ca02c; stroke: #2ca02c; stroke-linejoin: miter"/>
<path d="M -3 3 
L 3 3 
L 3 -3 
L -3 -3 
z
" transform="translate(471.87 113.9)" style="fill: #2ca02c; stroke: #2ca02c; stroke-linejoin: miter"/>
<path d="M -3 3 
L 3 3 
L 3 -3 
L -3 -3 
z
" transform="translate(480.6 81)" style="fill: #2ca02c; stroke: #2ca02c; stroke-linejoin: miter"/>
<path d="M -3 3 
L 3 3 
L 3 -3 
L -3 -3 
z
" transform="translate(489.33 53.23)" style="fill: #2ca02c; stroke: #2ca02c; stroke-linejoin: miter"/>
<path d="M -3 3 
L 3 3 
L 3 -3 
L -3 -3 
z
" transform="translate(508.04 30.34)" style="fill: #2ca02c; stroke: #2ca02c; stroke-linejoin: miter"/>
<path d="M -3 3 
L 3 3 
L 3 -3 
L -3 -3 
z
" transform="translate(537.97 28.3)" style="fill: #2ca02c; stroke: #2ca02c; stroke-linejoin: miter"/>
<path d="M -3 3 
L 3 3 
L 3 -3 
L -3 -3 
z
" transform="translate(569.15 28.3)" style="fill: #2ca02c; stroke: #2ca02c; stroke-linejoin: miter"/>
<path d="M -3 3 
L 3 3 
L 3 -3 
L -3 -3 
z
" transform="translate(599.08 28.3)" style="fill: #2ca02c; stroke: #2ca02c; stroke-linejoin: miter"/>
</g>
</g>
<g id="patch_9">
<path d="M 363.43 160.57 
L 363.43 22 
" style="fill: none; stroke: #000000; stroke-width: 0.92; stroke-linejoin: miter; stroke-linecap: square"/>
</g>
<g id="patch_10">
<path d="M 636.43 160.57 
L 636.43 22 
" style="fill: none; stroke: #000000; stroke-width: 0.92; stroke-linejoin: miter; stroke-linecap: square"/>
</g>
<g id="patch_11">
<path d="M 363.43 160.57 
L 636.43 160.57 
" style="fill: none; stroke: #000000; stroke-width: 0.92; stroke-linejoin: miter; stroke-linecap: square"/>
</g>
<g id="patch_12">
<path d="M 363.43 22 
L 636.43 22 
" style="fill: none; stroke: #000000; stroke-width: 0.92; stroke-linejoin: miter; stroke-linecap: square"/>
</g>
<g id="line2d_106">
<g clip-path="url(#pab5b54e677)">
<path d="M -4 4 
L 4 -4 
M -4 -4 
L 4 4 
" transform="translate(375.84 154.27)" style="stroke: #000000; stroke-width: 1.26"/>
<path d="M -4 4 
L 4 -4 
M -4 -4 
L 4 4 
" transform="translate(436 134.75)" style="stroke: #000000; stroke-width: 1.26"/>
<path d="M -4 4 
L 4 -4 
M -4 -4 
L 4 4 
" transform="translate(473.61 107.66)" style="stroke: #000000; stroke-width: 1.26"/>
<path d="M -4 4 
L 4 -4 
M -4 -4 
L 4 4 
" transform="translate(496.17 39.64)" style="stroke: #000000; stroke-width: 1.26"/>
<path d="M -4 4 
L 4 -4 
M -4 -4 
L 4 4 
" transform="translate(586.42 28.3)" style="stroke: #000000; stroke-width: 1.26"/>
<path d="M -4 4 
L 4 -4 
M -4 -4 
L 4 4 
" transform="translate(624.02 28.3)" style="stroke: #000000; stroke-width: 1.26"/>
</g>
</g>
<g id="text_35">
<text style="font-size: 12px; font-family: 'DejaVu Sans', 'Liberation Sans', sans-serif; text-anchor: middle" x="499.93" y="16">Limestone</text>
</g>
<g id="legend_2">
<g id="patch_13">
<path d="M 540.92 155.57 
L 629.43 155.57 
Q 631.43 155.57 631.43 153.57 
L 631.43 95.86 
Q 631.43 93.86 629.43 93.86 
L 540.92 93.86 
Q 538.92 93.86 538.92 95.86 
L 538.92 153.57 
Q 538.92 155.57 540.92 155.57 
z
" style="fill: #ffffff; opacity: 0.8; stroke: #cccccc; stroke-linejoin: miter"/>
</g>
<g id="line2d_107">
<g>
<path d="M -4 4 
L 4 -4 
M -4 -4 
L 4 4 
" transform="translate(552.92 101.96)" style="stroke: #000000; stroke-width: 1.26"/>
</g>
</g>
<g id="text_36">
<text style="font-size: 10px; font-family: 'DejaVu Sans', 'Liberation Sans', sans-serif; text-anchor: start" x="570.92" y="105.46">Real</text>
</g>
<g id="line2d_108">
<path d="M 542.92 116.64 
L 552.92 116.64 
L 562.92 116.64 
" style="fill: none; stroke-dasharray: 9.6,2.4,1.5,2.4; stroke-dashoffset: 0; stroke: #1f77b4; stroke-width: 1.73"/>
<g>
<path d="M 0 -3 
L -3 3 
L 3 3 
z
" transform="translate(552.92 116.64)" style="fill: #1f77b4; stroke: #1f77b4; stroke-linejoin: miter"/>
</g>
</g>
<g id="text_37">
<text style="font-size: 10px; font-family: 'DejaVu Sans', 'Liberation Sans', sans-serif; text-anchor: start" x="570.92" y="120.14">GGS</text>
</g>
<g id="line2d_109">
<path d="M 542.92 131.31 
L 552.92 131.31 
L 562.92 131.31 
" style="fill: none; stroke-dasharray: 9.6,2.4,1.5,2.4; stroke-dashoffset: 0; stroke: #ff7f0e; stroke-width: 1.73"/>
<g>
<path d="M 0 3 
C 0.8 3 1.56 2.68 2.12 2.12 
C 2.68 1.56 3 0.8 3 0 
C 3 -0.8 2.68 -1.56 2.12 -2.12 
C 1.56 -2.68 0.8 -3 0 -3 
C -0.8 -3 -1.56 -2.68 -2.12 -2.12 
C -2.68 -1.56 -3 -0.8 -3 0 
C -3 0.8 -2.68 1.56 -2.12 2.12 
C -1.56 2.68 -0.8 3 0 3 
z
" transform="translate(552.92 131.31)" style="fill: #ff7f0e; stroke: #ff7f0e"/>
</g>
</g>
<g id="text_38">
<text style="font-size: 10px; font-family: 'DejaVu Sans', 'Liberation Sans', sans-serif; text-anchor: start" x="570.92" y="134.81">RRSB</text>
</g>
<g id="line2d_110">
<path d="M 542.92 145.99 
L 552.92 145.99 
L 562.92 145.99 
" style="fill: none; stroke-dasharray: 9.6,2.4,1.5,2.4; stroke-dashoffset: 0; stroke: #2ca02c; stroke-width: 1.73"/>
<g>
<path d="M -3 3 
L 3 3 
L 3 -3 
L -3 -3 
z
" transform="translate(552.92 145.99)" style="fill: #2ca02c; stroke: #2ca02c; stroke-linejoin: miter"/>
</g>
</g>
<g id="text_39">
<text style="font-size: 10px; font-family: 'DejaVu Sans', 'Liberation Sans', sans-serif; text-anchor: start" x="570.92" y="149.49">Log-normal</text>
</g>
</g>
</g>
<g id="axes_3">
<g id="patch_14">
<path d="M 43.43 357.14 
L 316.14 357.14 
L 316.14 218.86 
L 43.43 218.86 
z
" style="fill: #ffffff"/>
</g>
<g id="matplotlib.axis_5">
<g id="xtick_26">
<g id="line2d_111">
<path d="M 55.13 357.14 
L 55.13 218.86 
" clip-path="url(#pd8965951e7)" style="fill: none; stroke: #b0b0b0; stroke-width: 0.92; stroke-linecap: square"/>
</g>
<g id="line2d_112">
<g>
<path d="M 0 0 
L 0 3.5 
" transform="translate(55.13 357.14)" style="stroke: #000000; stroke-width: 0.92"/>
</g>
</g>
<g id="text_40">
<text style="font-size: 10px; font-family: 'DejaVu Sans', 'Liberation Sans', sans-serif; text-anchor: middle" x="55.13" y="371.74">0</text>
</g>
</g>
<g id="xtick_27">
<g id="line2d_113">
<path d="M 110.38 357.14 
L 110.38 218.86 
" clip-path="url(#pd8965951e7)" style="fill: none; stroke: #b0b0b0; stroke-width: 0.92; stroke-linecap: square"/>
</g>
<g id="line2d_114">
<g>
<path d="M 0 0 
L 0 3.5 
" transform="translate(110.38 357.14)" style="stroke: #000000; stroke-width: 0.92"/>
</g>
</g>
<g id="text_41">
<text style="font-size: 10px; font-family: 'DejaVu Sans', 'Liberation Sans', sans-serif; text-anchor: middle" x="110.38" y="371.74">10</text>
</g>
</g>
<g id="xtick_28">
<g id="line2d_115">
<path d="M 165.63 357.14 
L 165.63 218.86 
" clip-path="url(#pd8965951e7)" style="fill: none; stroke: #b0b0b0; stroke-width: 0.92; stroke-linecap: square"/>
</g>
<g id="line2d_116">
<g>
<path d="M 0 0 
L 0 3.5 
" transform="translate(165.63 357.14)" style="stroke: #000000; stroke-width: 0.92"/>
</g>
</g>
<g id="text_42">
<text style="font-size: 10px; font-family: 'DejaVu Sans', 'Liberation Sans', sans-serif; text-anchor: middle" x="165.63" y="371.74">20</text>
</g>
</g>
<g id="xtick_29">
<g id="line2d_117">
<path d="M 220.88 357.14 
L 220.88 218.86 
" clip-path="url(#pd8965951e7)" style="fill: none; stroke: #b0b0b0; stroke-width: 0.92; stroke-linecap: square"/>
</g>
<g id="line2d_118">
<g>
<path d="M 0 0 
L 0 3.5 
" transform="translate(220.88 357.14)" style="stroke: #000000; stroke-width: 0.92"/>
</g>
</g>
<g id="text_43">
<text style="font-size: 10px; font-family: 'DejaVu Sans', 'Liberation Sans', sans-serif; text-anchor: middle" x="220.88" y="371.74">30</text>
</g>
</g>
<g id="xtick_30">
<g id="line2d_119">
<path d="M 276.12 357.14 
L 276.12 218.86 
" clip-path="url(#pd8965951e7)" style="fill: none; stroke: #b0b0b0; stroke-width: 0.92; stroke-linecap: square"/>
</g>
<g id="line2d_120">
<g>
<path d="M 0 0 
L 0 3.5 
" transform="translate(276.12 357.14)" style="stroke: #000000; stroke-width: 0.92"/>
</g>
</g>
<g id="text_44">
<text style="font-size: 10px; font-family: 'DejaVu Sans', 'Liberation Sans', sans-serif; text-anchor: middle" x="276.12" y="371.74">40</text>
</g>
</g>
<g id="xtick_31">
<g id="line2d_121">
<path d="M 82.76 357.14 
L 82.76 218.86 
" clip-path="url(#pd8965951e7)" style="fill: none; stroke: #b0b0b0; stroke-opacity: 0.3; stroke-width: 0.92; stroke-linecap: square"/>
</g>
<g id="line2d_122">
<g>
<path d="M 0 0 
L 0 2 
" transform="translate(82.76 357.14)" style="stroke: #000000; stroke-width: 0.69"/>
</g>
</g>
</g>
<g id="xtick_32">
<g id="line2d_123">
<path d="M 138 357.14 
L 138 218.86 
" clip-path="url(#pd8965951e7)" style="fill: none; stroke: #b0b0b0; stroke-opacity: 0.3; stroke-width: 0.92; stroke-linecap: square"/>
</g>
<g id="line2d_124">
<g>
<path d="M 0 0 
L 0 2 
" transform="translate(138 357.14)" style="stroke: #000000; stroke-width: 0.69"/>
</g>
</g>
</g>
<g id="xtick_33">
<g id="line2d_125">
<path d="M 193.25 357.14 
L 193.25 218.86 
" clip-path="url(#pd8965951e7)" style="fill: none; stroke: #b0b0b0; stroke-opacity: 0.3; stroke-width: 0.92; stroke-linecap: square"/>
</g>
<g id="line2d_126">
<g>
<path d="M 0 0 
L 0 2 
" transform="translate(193.25 357.14)" style="stroke: #000000; stroke-width: 0.69"/>
</g>
</g>
</g>
<g id="xtick_34">
<g id="line2d_127">
<path d="M 248.5 357.14 
L 248.5 218.86 
" clip-path="url(#pd8965951e7)" style="fill: none; stroke: #b0b0b0; stroke-opacity: 0.3; stroke-width: 0.92; stroke-linecap: square"/>
</g>
<g id="line2d_128">
<g>
<path d="M 0 0 
L 0 2 
" transform="translate(248.5 357.14)" style="stroke: #000000; stroke-width: 0.69"/>
</g>
</g>
</g>
<g id="xtick_35">
<g id="line2d_129">
<path d="M 303.75 357.14 
L 303.75 218.86 
" clip-path="url(#pd8965951e7)" style="fill: none; stroke: #b0b0b0; stroke-opacity: 0.3; stroke-width: 0.92; stroke-linecap: square"/>
</g>
<g id="line2d_130">
<g>
<path d="M 0 0 
L 0 2 
" transform="translate(303.75 357.14)" style="stroke: #000000; stroke-width: 0.69"/>
</g>
</g>
</g>
<g id="text_45">
<text style="font-size: 10px; font-family: 'DejaVu Sans', 'Liberation Sans', sans-serif; text-anchor: middle" x="179.79" y="385.42">Particle size [mm]</text>
</g>
</g>
<g id="matplotlib.axis_6">
<g id="ytick_23">
<g id="line2d_131">
<path d="M 43.43 350.86 
L 316.14 350.86 
" clip-path="url(#pd8965951e7)" style="fill: none; stroke: #b0b0b0; stroke-width: 0.92; stroke-linecap: square"/>
</g>
<g id="line2d_132">
<g>
<path d="M 0 0 
L -3.5 0 
" transform="translate(43.43 350.86)" style="stroke: #000000; stroke-width: 0.92"/>
</g>
</g>
<g id="text_46">
<text style="font-size: 10px; font-family: 'DejaVu Sans', 'Liberation Sans', sans-serif; text-anchor: end" x="36.43" y="354.66">0.0</text>
</g>
</g>
<g id="ytick_24">
<g id="line2d_133">
<path d="M 43.43 325.71 
L 316.14 325.71 
" clip-path="url(#pd8965951e7)" style="fill: none; stroke: #b0b0b0; stroke-width: 0.92; stroke-linecap: square"/>
</g>
<g id="line2d_134">
<g>
<path d="M 0 0 
L -3.5 0 
" transform="translate(43.43 325.71)" style="stroke: #000000; stroke-width: 0.92"/>
</g>
</g>
<g id="text_47">
<text style="font-size: 10px; font-family: 'DejaVu Sans', 'Liberation Sans', sans-serif; text-anchor: end" x="36.43" y="329.51">0.2</text>
</g>
</g>
<g id="ytick_25">
<g id="line2d_135">
<path d="M 43.43 300.57 
L 316.14 300.57 
" clip-path="url(#pd8965951e7)" style="fill: none; stroke: #b0b0b0; stroke-width: 0.92; stroke-linecap: square"/>
</g>
<g id="line2d_136">
<g>
<path d="M 0 0 
L -3.5 0 
" transform="translate(43.43 300.57)" style="stroke: #000000; stroke-width: 0.92"/>
</g>
</g>
<g id="text_48">
<text style="font-size: 10px; font-family: 'DejaVu Sans', 'Liberation Sans', sans-serif; text-anchor: end" x="36.43" y="304.37">0.4</text>
</g>
</g>
<g id="ytick_26">
<g id="line2d_137">
<path d="M 43.43 275.43 
L 316.14 275.43 
" clip-path="url(#pd8965951e7)" style="fill: none; stroke: #b0b0b0; stroke-width: 0.92; stroke-linecap: square"/>
</g>
<g id="line2d_138">
<g>
<path d="M 0 0 
L -3.5 0 
" transform="translate(43.43 275.43)" style="stroke: #000000; stroke-width: 0.92"/>
</g>
</g>
<g id="text_49">
<text style="font-size: 10px; font-family: 'DejaVu Sans', 'Liberation Sans', sans-serif; text-anchor: end" x="36.43" y="279.23">0.6</text>
</g>
</g>
<g id="ytick_27">
<g id="line2d_139">
<path d="M 43.43 250.29 
L 316.14 250.29 
" clip-path="url(#pd8965951e7)" style="fill: none; stroke: #b0b0b0; stroke-width: 0.92; stroke-linecap: square"/>
</g>
<g id="line2d_140">
<g>
<path d="M 0 0 
L -3.5 0 
" transform="translate(43.43 250.29)" style="stroke: #000000; stroke-width: 0.92"/>
</g>
</g>
<g id="text_50">
<text style="font-size: 10px; font-family: 'DejaVu Sans', 'Liberation Sans', sans-serif; text-anchor: end" x="36.43" y="254.08">0.8</text>
</g>
</g>
<g id="ytick_28">
<g id="line2d_141">
<path d="M 43.43 225.14 
L 316.14 225.14 
" clip-path="url(#pd8965951e7)" style="fill: none; stroke: #b0b0b0; stroke-width: 0.92; stroke-linecap: square"/>
</g>
<g id="line2d_142">
<g>
<path d="M 0 0 
L -3.5 0 
" transform="translate(43.43 225.14)" style="stroke: #000000; stroke-width: 0.92"/>
</g>
</g>
<g id="text_51">
<text style="font-size: 10px; font-family: 'DejaVu Sans', 'Liberation Sans', sans-serif; text-anchor: end" x="36.43" y="228.94">1.0</text>
</g>
</g>
<g id="ytick_29">
<g id="line2d_143">
<path d="M 43.43 338.29 
L 316.14 338.29 
" clip-path="url(#pd8965951e7)" style="fill: none; stroke: #b0b0b0; stroke-opacity: 0.3; stroke-width: 0.92; stroke-linecap: square"/>
</g>
<g id="line2d_144">
<g>
<path d="M 0 0 
L -2 0 
" transform="translate(43.43 338.29)" style="stroke: #000000; stroke-width: 0.69"/>
</g>
</g>
</g>
<g id="ytick_30">
<g id="line2d_145">
<path d="M 43.43 313.14 
L 316.14 313.14 
" clip-path="url(#pd8965951e7)" style="fill: none; stroke: #b0b0b0; stroke-opacity: 0.3; stroke-width: 0.92; stroke-linecap: square"/>
</g>
<g id="line2d_146">
<g>
<path d="M 0 0 
L -2 0 
" transform="translate(43.43 313.14)" style="stroke: #000000; stroke-width: 0.69"/>
</g>
</g>
</g>
<g id="ytick_31">
<g id="line2d_147">
<path d="M 43.43 288 
L 316.14 288 
" clip-path="url(#pd8965951e7)" style="fill: none; stroke: #b0b0b0; stroke-opacity: 0.3; stroke-width: 0.92; stroke-linecap: square"/>
</g>
<g id="line2d_148">
<g>
<path d="M 0 0 
L -2 0 
" transform="translate(43.43 288)" style="stroke: #000000; stroke-width: 0.69"/>
</g>
</g>
</g>
<g id="ytick_32">
<g id="line2d_149">
<path d="M 43.43 262.86 
L 316.14 262.86 
" clip-path="url(#pd8965951e7)" style="fill: none; stroke: #b0b0b0; stroke-opacity: 0.3; stroke-width: 0.92; stroke-linecap: square"/>
</g>
<g id="line2d_150">
<g>
<path d="M 0 0 
L -2 0 
" transform="translate(43.43 262.86)" style="stroke: #000000; stroke-width: 0.69"/>
</g>
</g>
</g>
<g id="ytick_33">
<g id="line2d_151">
<path d="M 43.43 237.71 
L 316.14 237.71 
" clip-path="url(#pd8965951e7)" style="fill: none; stroke: #b0b0b0; stroke-opacity: 0.3; stroke-width: 0.92; stroke-linecap: square"/>
</g>
<g id="line2d_152">
<g>
<path d="M 0 0 
L -2 0 
" transform="translate(43.43 237.71)" style="stroke: #000000; stroke-width: 0.69"/>
</g>
</g>
</g>
<g id="text_52">
<text style="font-size: 10px; font-family: 'DejaVu Sans', 'Liberation Sans', sans-serif; text-anchor: middle" x="14.45" y="288" transform="rotate(-90 14.45 288)">Cumulated mass [%]</text>
</g>
</g>
<g id="line2d_153">
<path d="M 55.82 350.61 
L 60.81 348.58 
L 69.53 344.75 
L 81.99 339.01 
L 98.18 331.31 
L 118.12 321.58 
L 141.79 309.79 
L 169.2 295.88 
L 200.34 279.82 
L 235.23 261.58 
L 273.85 241.13 
L 303.75 225.14 
L 303.75 225.14 
" clip-path="url(#pd8965951e7)" style="fill: none; stroke-dasharray: 9.6,2.4,1.5,2.4; stroke-dashoffset: 0; stroke: #1f77b4; stroke-width: 1.73"/>
<g clip-path="url(#pd8965951e7)">
<path d="M 0 -3 
L -3 3 
L 3 3 
z
" transform="translate(55.82 350.61)" style="fill: #1f77b4; stroke: #1f77b4; stroke-linejoin: miter"/>
<path d="M 0 -3 
L -3 3 
L 3 3 
z
" transform="translate(83.23 338.43)" style="fill: #1f77b4; stroke: #1f77b4; stroke-linejoin: miter"/>
<path d="M 0 -3 
L -3 3 
L 3 3 
z
" transform="translate(111.89 324.65)" style="fill: #1f77b4; stroke: #1f77b4; stroke-linejoin: miter"/>
<path d="M 0 -3 
L -3 3 
L 3 3 
z
" transform="translate(139.3 311.04)" style="fill: #1f77b4; stroke: #1f77b4; stroke-linejoin: miter"/>
<path d="M 0 -3 
L -3 3 
L 3 3 
z
" transform="translate(165.46 297.79)" style="fill: #1f77b4; stroke: #1f77b4; stroke-linejoin: miter"/>
<path d="M 0 -3 
L -3 3 
L 3 3 
z
" transform="translate(192.87 283.69)" style="fill: #1f77b4; stroke: #1f77b4; stroke-linejoin: miter"/>
<path d="M 0 -3 
L -3 3 
L 3 3 
z
" transform="translate(220.28 269.42)" style="fill: #1f77b4; stroke: #1f77b4; stroke-linejoin: miter"/>
<path d="M 0 -3 
L -3 3 
L 3 3 
z
" transform="translate(247.68 255.01)" style="fill: #1f77b4; stroke: #1f77b4; stroke-linejoin: miter"/>
<path d="M 0 -3 
L -3 3 
L 3 3 
z
" transform="translate(273.85 241.13)" style="fill: #1f77b4; stroke: #1f77b4; stroke-linejoin: miter"/>
<path d="M 0 -3 
L -3 3 
L 3 3 
z
" transform="translate(301.26 226.48)" style="fill: #1f77b4; stroke: #1f77b4; stroke-linejoin: miter"/>
</g>
</g>
<g id="line2d_154">
<path d="M 55.82 350.86 
L 104.41 350.76 
L 113.13 350.51 
L 119.36 350.09 
L 123.1 349.66 
L 126.84 349.03 
L 130.58 348.14 
L 133.07 347.37 
L 135.56 346.4 
L 138.05 345.22 
L 140.54 343.79 
L 143.03 342.06 
L 145.53 340 
L 148.02 337.55 
L 150.51 334.68 
L 153 331.34 
L 155.49 327.5 
L 157.98 323.12 
L 160.48 318.2 
L 162.97 312.72 
L 165.46 306.71 
L 167.95 300.21 
L 171.69 289.72 
L 182.9 257.05 
L 185.39 250.62 
L 187.88 244.86 
L 190.38 239.88 
L 192.87 235.73 
L 194.11 233.97 
L 195.36 232.42 
L 196.6 231.07 
L 197.85 229.91 
L 199.1 228.93 
L 200.34 228.1 
L 201.59 227.42 
L 204.08 226.43 
L 206.57 225.83 
L 209.06 225.48 
L 212.8 225.24 
L 219.03 225.15 
L 261.39 225.14 
L 303.75 225.14 
L 303.75 225.14 
" clip-path="url(#pd8965951e7)" style="fill: none; stroke-dasharray: 9.6,2.4,1.5,2.4; stroke-dashoffset: 0; stroke: #ff7f0e; stroke-width: 1.73"/>
<g clip-path="url(#pd8965951e7)">
<path d="M 0 3 
C 0.8 3 1.56 2.68 2.12 2.12 
C 2.68 1.56 3 0.8 3 0 
C 3 -0.8 2.68 -1.56 2.12 -2.12 
C 1.56 -2.68 0.8 -3 0 -3 
C -0.8 -3 -1.56 -2.68 -2.12 -2.12 
C -2.68 -1.56 -3 -0.8 -3 0 
C -3 0.8 -2.68 1.56 -2.12 2.12 
C -1.56 2.68 -0.8 3 0 3 
z
" transform="translate(55.82 350.86)" style="fill: #ff7f0e; stroke: #ff7f0e"/>
<path d="M 0 3 
C 0.8 3 1.56 2.68 2.12 2.12 
C 2.68 1.56 3 0.8 3 0 
C 3 -0.8 2.68 -1.56 2.12 -2.12 
C 1.56 -2.68 0.8 -3 0 -3 
C -0.8 -3 -1.56 -2.68 -2.12 -2.12 
C -2.68 -1.56 -3 -0.8 -3 0 
C -3 0.8 -2.68 1.56 -2.12 2.12 
C -1.56 2.68 -0.8 3 0 3 
z
" transform="translate(86.97 350.85)" style="fill: #ff7f0e; stroke: #ff7f0e"/>
<path d="M 0 3 
C 0.8 3 1.56 2.68 2.12 2.12 
C 2.68 1.56 3 0.8 3 0 
C 3 -0.8 2.68 -1.56 2.12 -2.12 
C 1.56 -2.68 0.8 -3 0 -3 
C -0.8 -3 -1.56 -2.68 -2.12 -2.12 
C -2.68 -1.56 -3 -0.8 -3 0 
C -3 0.8 -2.68 1.56 -2.12 2.12 
C -1.56 2.68 -0.8 3 0 3 
z
" transform="translate(116.87 350.29)" style="fill: #ff7f0e; stroke: #ff7f0e"/>
<path d="M 0 3 
C 0.8 3 1.56 2.68 2.12 2.12 
C 2.68 1.56 3 0.8 3 0 
C 3 -0.8 2.68 -1.56 2.12 -2.12 
C 1.56 -2.68 0.8 -3 0 -3 
C -0.8 -3 -1.56 -2.68 -2.12 -2.12 
C -2.68 -1.56 -3 -0.8 -3 0 
C -3 0.8 -2.68 1.56 -2.12 2.12 
C -1.56 2.68 -0.8 3 0 3 
z
" transform="translate(145.53 340)" style="fill: #ff7f0e; stroke: #ff7f0e"/>
<path d="M 0 3 
C 0.8 3 1.56 2.68 2.12 2.12 
C 2.68 1.56 3 0.8 3 0 
C 3 -0.8 2.68 -1.56 2.12 -2.12 
C 1.56 -2.68 0.8 -3 0 -3 
C -0.8 -3 -1.56 -2.68 -2.12 -2.12 
C -2.68 -1.56 -3 -0.8 -3 0 
C -3 0.8 -2.68 1.56 -2.12 2.12 
C -1.56 2.68 -0.8 3 0 3 
z
" transform="translate(161.72 315.53)" style="fill: #ff7f0e; stroke: #ff7f0e"/>
<path d="M 0 3 
C 0.8 3 1.56 2.68 2.12 2.12 
C 2.68 1.56 3 0.8 3 0 
C 3 -0.8 2.68 -1.56 2.12 -2.12 
C 1.56 -2.68 0.8 -3 0 -3 
C -0.8 -3 -1.56 -2.68 -2.12 -2.12 
C -2.68 -1.56 -3 -0.8 -3 0 
C -3 0.8 -2.68 1.56 -2.12 2.12 
C -1.56 2.68 -0.8 3 0 3 
z
" transform="translate(172.93 286.08)" style="fill: #ff7f0e; stroke: #ff7f0e"/>
<path d="M 0 3 
C 0.8 3 1.56 2.68 2.12 2.12 
C 2.68 1.56 3 0.8 3 0 
C 3 -0.8 2.68 -1.56 2.12 -2.12 
C 1.56 -2.68 0.8 -3 0 -3 
C -0.8 -3 -1.56 -2.68 -2.12 -2.12 
C -2.68 -1.56 -3 -0.8 -3 0 
C -3 0.8 -2.68 1.56 -2.12 2.12 
C -1.56 2.68 -0.8 3 0 3 
z
" transform="translate(182.9 257.05)" style="fill: #ff7f0e; stroke: #ff7f0e"/>
<path d="M 0 3 
C 0.8 3 1.56 2.68 2.12 2.12 
C 2.68 1.56 3 0.8 3 0 
C 3 -0.8 2.68 -1.56 2.12 -2.12 
C 1.56 -2.68 0.8 -3 0 -3 
C -0.8 -3 -1.56 -2.68 -2.12 -2.12 
C -2.68 -1.56 -3 -0.8 -3 0 
C -3 0.8 -2.68 1.56 -2.12 2.12 
C -1.56 2.68 -0.8 3 0 3 
z
" transform="translate(196.6 231.07)" style="fill: #ff7f0e; stroke: #ff7f0e"/>
<path d="M 0 3 
C 0.8 3 1.56 2.68 2.12 2.12 
C 2.68 1.56 3 0.8 3 0 
C 3 -0.8 2.68 -1.56 2.12 -2.12 
C 1.56 -2.68 0.8 -3 0 -3 
C -0.8 -3 -1.56 -2.68 -2.12 -2.12 
C -2.68 -1.56 -3 -0.8 -3 0 
C -3 0.8 -2.68 1.56 -2.12 2.12 
C -1.56 2.68 -0.8 3 0 3 
z
" transform="translate(226.5 225.14)" style="fill: #ff7f0e; stroke: #ff7f0e"/>
<path d="M 0 3 
C 0.8 3 1.56 2.68 2.12 2.12 
C 2.68 1.56 3 0.8 3 0 
C 3 -0.8 2.68 -1.56 2.12 -2.12 
C 1.56 -2.68 0.8 -3 0 -3 
C -0.8 -3 -1.56 -2.68 -2.12 -2.12 
C -2.68 -1.56 -3 -0.8 -3 0 
C -3 0.8 -2.68 1.56 -2.12 2.12 
C -1.56 2.68 -0.8 3 0 3 
z
" transform="translate(256.4 225.14)" style="fill: #ff7f0e; stroke: #ff7f0e"/>
<path d="M 0 3 
C 0.8 3 1.56 2.68 2.12 2.12 
C 2.68 1.56 3 0.8 3 0 
C 3 -0.8 2.68 -1.56 2.12 -2.12 
C 1.56 -2.68 0.8 -3 0 -3 
C -0.8 -3 -1.56 -2.68 -2.12 -2.12 
C -2.68 -1.56 -3 -0.8 -3 0 
C -3 0.8 -2.68 1.56 -2.12 2.12 
C -1.56 2.68 -0.8 3 0 3 
z
" transform="translate(287.55 225.14)" style="fill: #ff7f0e; stroke: #ff7f0e"/>
</g>
</g>
<g id="line2d_155">
<path d="M 55.82 350.86 
L 119.36 350.78 
L 124.35 350.54 
L 128.08 350.11 
L 130.58 349.61 
L 133.07 348.88 
L 135.56 347.84 
L 138.05 346.43 
L 140.54 344.58 
L 143.03 342.24 
L 145.53 339.37 
L 148.02 335.95 
L 150.51 331.99 
L 153 327.51 
L 155.49 322.55 
L 157.98 317.19 
L 161.72 308.57 
L 169.2 290.42 
L 174.18 278.63 
L 177.92 270.39 
L 181.65 262.87 
L 184.15 258.3 
L 186.64 254.11 
L 189.13 250.3 
L 191.62 246.88 
L 194.11 243.82 
L 196.6 241.11 
L 199.1 238.72 
L 201.59 236.64 
L 204.08 234.83 
L 206.57 233.27 
L 209.06 231.94 
L 211.55 230.8 
L 215.29 229.41 
L 219.03 228.34 
L 222.77 227.52 
L 226.5 226.89 
L 231.49 226.3 
L 237.72 225.82 
L 245.19 225.49 
L 256.4 225.27 
L 275.09 225.16 
L 303.75 225.14 
L 303.75 225.14 
" clip-path="url(#pd8965951e7)" style="fill: none; stroke-dasharray: 9.6,2.4,1.5,2.4; stroke-dashoffset: 0; stroke: #2ca02c; stroke-width: 1.73"/>
<g clip-path="url(#pd8965951e7)">
<path d="M -3 3 
L 3 3 
L 3 -3 
L -3 -3 
z
" transform="translate(55.82 350.86)" style="fill: #2ca02c; stroke: #2ca02c; stroke-linejoin: miter"/>
<path d="M -3 3 
L 3 3 
L 3 -3 
L -3 -3 
z
" transform="translate(86.97 350.86)" style="fill: #2ca02c; stroke: #2ca02c; stroke-linejoin: miter"/>
<path d="M -3 3 
L 3 3 
L 3 -3 
L -3 -3 
z
" transform="translate(116.87 350.82)" style="fill: #2ca02c; stroke: #2ca02c; stroke-linejoin: miter"/>
<path d="M -3 3 
L 3 3 
L 3 -3 
L -3 -3 
z
" transform="translate(144.28 340.87)" style="fill: #2ca02c; stroke: #2ca02c; stroke-linejoin: miter"/>
<path d="M -3 3 
L 3 3 
L 3 -3 
L -3 -3 
z
" transform="translate(159.23 314.38)" style="fill: #2ca02c; stroke: #2ca02c; stroke-linejoin: miter"/>
<path d="M -3 3 
L 3 3 
L 3 -3 
L -3 -3 
z
" transform="translate(171.69 284.44)" style="fill: #2ca02c; stroke: #2ca02c; stroke-linejoin: miter"/>
<path d="M -3 3 
L 3 3 
L 3 -3 
L -3 -3 
z
" transform="translate(184.15 258.3)" style="fill: #2ca02c; stroke: #2ca02c; stroke-linejoin: miter"/>
<path d="M -3 3 
L 3 3 
L 3 -3 
L -3 -3 
z
" transform="translate(204.08 234.83)" style="fill: #2ca02c; stroke: #2ca02c; stroke-linejoin: miter"/>
<path d="M -3 3 
L 3 3 
L 3 -3 
L -3 -3 
z
" transform="translate(232.73 226.18)" style="fill: #2ca02c; stroke: #2ca02c; stroke-linejoin: miter"/>
<path d="M -3 3 
L 3 3 
L 3 -3 
L -3 -3 
z
" transform="translate(263.88 225.21)" style="fill: #2ca02c; stroke: #2ca02c; stroke-linejoin: miter"/>
<path d="M -3 3 
L 3 3 
L 3 -3 
L -3 -3 
z
" transform="translate(293.78 225.15)" style="fill: #2ca02c; stroke: #2ca02c; stroke-linejoin: miter"/>
</g>
</g>
<g id="patch_15">
<path d="M 43.43 357.14 
L 43.43 218.86 
" style="fill: none; stroke: #000000; stroke-width: 0.92; stroke-linejoin: miter; stroke-linecap: square"/>
</g>
<g id="patch_16">
<path d="M 316.14 357.14 
L 316.14 218.86 
" style="fill: none; stroke: #000000; stroke-width: 0.92; stroke-linejoin: miter; stroke-linecap: square"/>
</g>
<g id="patch_17">
<path d="M 43.43 357.14 
L 316.14 357.14 
" style="fill: none; stroke: #000000; stroke-width: 0.92; stroke-linejoin: miter; stroke-linecap: square"/>
</g>
<g id="patch_18">
<path d="M 43.43 218.86 
L 316.14 218.86 
" style="fill: none; stroke: #000000; stroke-width: 0.92; stroke-linejoin: miter; stroke-linecap: square"/>
</g>
<g id="line2d_156">
<g clip-path="url(#pd8965951e7)">
<path d="M -4 4 
L 4 -4 
M -4 -4 
L 4 4 
" transform="translate(55.82 350.86)" style="stroke: #000000; stroke-width: 1.26"/>
<path d="M -4 4 
L 4 -4 
M -4 -4 
L 4 4 
" transform="translate(99.33 350.86)" style="stroke: #000000; stroke-width: 1.26"/>
<path d="M -4 4 
L 4 -4 
M -4 -4 
L 4 4 
" transform="translate(143.53 341.68)" style="stroke: #000000; stroke-width: 1.26"/>
<path d="M -4 4 
L 4 -4 
M -4 -4 
L 4 4 
" transform="translate(178.89 268.39)" style="stroke: #000000; stroke-width: 1.26"/>
<path d="M -4 4 
L 4 -4 
M -4 -4 
L 4 4 
" transform="translate(229.16 226.4)" style="stroke: #000000; stroke-width: 1.26"/>
<path d="M -4 4 
L 4 -4 
M -4 -4 
L 4 4 
" transform="translate(303.75 225.14)" style="stroke: #000000; stroke-width: 1.26"/>
</g>
</g>
<g id="text_53">
<text style="font-size: 12px; font-family: 'DejaVu Sans', 'Liberation Sans', sans-serif; text-anchor: middle" x="179.79" y="212.86">Gravel 16/32 mm</text>
</g>
<g id="legend_3">
<g id="patch_19">
<path d="M 220.63 352.14 
L 309.14 352.14 
Q 311.14 352.14 311.14 350.14 
L 311.14 292.43 
Q 311.14 290.43 309.14 290.43 
L 220.63 290.43 
Q 218.63 290.43 218.63 292.43 
L 218.63 350.14 
Q 218.63 352.14 220.63 352.14 
z
" style="fill: #ffffff; opacity: 0.8; stroke: #cccccc; stroke-linejoin: miter"/>
</g>
<g id="line2d_157">
<g>
<path d="M -4 4 
L 4 -4 
M -4 -4 
L 4 4 
" transform="translate(232.63 298.53)" style="stroke: #000000; stroke-width: 1.26"/>
</g>
</g>
<g id="text_54">
<text style="font-size: 10px; font-family: 'DejaVu Sans', 'Liberation Sans', sans-serif; text-anchor: start" x="250.63" y="302.03">Real</text>
</g>
<g id="line2d_158">
<path d="M 222.63 313.21 
L 232.63 313.21 
L 242.63 313.21 
" style="fill: none; stroke-dasharray: 9.6,2.4,1.5,2.4; stroke-dashoffset: 0; stroke: #1f77b4; stroke-width: 1.73"/>
<g>
<path d="M 0 -3 
L -3 3 
L 3 3 
z
" transform="translate(232.63 313.21)" style="fill: #1f77b4; stroke: #1f77b4; stroke-linejoin: miter"/>
</g>
</g>
<g id="text_55">
<text style="font-size: 10px; font-family: 'DejaVu Sans', 'Liberation Sans', sans-serif; text-anchor: start" x="250.63" y="316.71">GGS</text>
</g>
<g id="line2d_159">
<path d="M 222.63 327.89 
L 232.63 327.89 
L 242.63 327.89 
" style="fill: none; stroke-dasharray: 9.6,2.4,1.5,2.4; stroke-dashoffset: 0; stroke: #ff7f0e; stroke-width: 1.73"/>
<g>
<path d="M 0 3 
C 0.8 3 1.56 2.68 2.12 2.12 
C 2.68 1.56 3 0.8 3 0 
C 3 -0.8 2.68 -1.56 2.12 -2.12 
C 1.56 -2.68 0.8 -3 0 -3 
C -0.8 -3 -1.56 -2.68 -2.12 -2.12 
C -2.68 -1.56 -3 -0.8 -3 0 
C -3 0.8 -2.68 1.56 -2.12 2.12 
C -1.56 2.68 -0.8 3 0 3 
z
" transform="translate(232.63 327.89)" style="fill: #ff7f0e; stroke: #ff7f0e"/>
</g>
</g>
<g id="text_56">
<text style="font-size: 10px; font-family: 'DejaVu Sans', 'Liberation Sans', sans-serif; text-anchor: start" x="250.63" y="331.39">RRSB</text>
</g>
<g id="line2d_160">
<path d="M 222.63 342.56 
L 232.63 342.56 
L 242.63 342.56 
" style="fill: none; stroke-dasharray: 9.6,2.4,1.5,2.4; stroke-dashoffset: 0; stroke: #2ca02c; stroke-width: 1.73"/>
<g>
<path d="M -3 3 
L 3 3 
L 3 -3 
L -3 -3 
z
" transform="translate(232.63 342.56)" style="fill: #2ca02c; stroke: #2ca02c; stroke-linejoin: miter"/>
</g>
</g>
<g id="text_57">
<text style="font-size: 10px; font-family: 'DejaVu Sans', 'Liberation Sans', sans-serif; text-anchor: start" x="250.63" y="346.06">Log-normal</text>
</g>
</g>
</g>
<g id="axes_4">
<g id="patch_20">
<path d="M 363.43 357.14 
L 636.43 357.14 
L 636.43 218.86 
L 363.43 218.86 
z
" style="fill: #ffffff"/>
</g>
<g id="matplotlib.axis_7">
<g id="xtick_36">
<g id="line2d_161">
<path d="M 418.63 357.14 
L 418.63 218.86 
" clip-path="url(#p1db4be6642)" style="fill: none; stroke: #b0b0b0; stroke-width: 0.92; stroke-linecap: square"/>
</g>
<g id="line2d_162">
<g>
<path d="M 0 0 
L 0 3.5 
" transform="translate(418.63 357.14)" style="stroke: #000000; stroke-width: 0.92"/>
</g>
</g>
<g id="text_58">
<text style="font-size: 10px; font-family: 'DejaVu Sans', 'Liberation Sans', sans-serif; text-anchor: middle" x="418.63" y="371.74">4</text>
</g>
</g>
<g id="xtick_37">
<g id="line2d_163">
<path d="M 475.68 357.14 
L 475.68 218.86 
" clip-path="url(#p1db4be6642)" style="fill: none; stroke: #b0b0b0; stroke-width: 0.92; stroke-linecap: square"/>
</g>
<g id="line2d_164">
<g>
<path d="M 0 0 
L 0 3.5 
" transform="translate(475.68 357.14)" style="stroke: #000000; stroke-width: 0.92"/>
</g>
</g>
<g id="text_59">
<text style="font-size: 10px; font-family: 'DejaVu Sans', 'Liberation Sans', sans-serif; text-anchor: middle" x="475.68" y="371.74">6</text>
</g>
</g>
<g id="xtick_38">
<g id="line2d_165">
<path d="M 532.73 357.14 
L 532.73 218.86 
" clip-path="url(#p1db4be6642)" style="fill: none; stroke: #b0b0b0; stroke-width: 0.92; stroke-linecap: square"/>
</g>
<g id="line2d_166">
<g>
<path d="M 0 0 
L 0 3.5 
" transform="translate(532.73 357.14)" style="stroke: #000000; stroke-width: 0.92"/>
</g>
</g>
<g id="text_60">
<text style="font-size: 10px; font-family: 'DejaVu Sans', 'Liberation Sans', sans-serif; text-anchor: middle" x="532.73" y="371.74">8</text>
</g>
</g>
<g id="xtick_39">
<g id="line2d_167">
<path d="M 589.79 357.14 
L 589.79 218.86 
" clip-path="url(#p1db4be6642)" style="fill: none; stroke: #b0b0b0; stroke-width: 0.92; stroke-linecap: square"/>
</g>
<g id="line2d_168">
<g>
<path d="M 0 0 
L 0 3.5 
" transform="translate(589.79 357.14)" style="stroke: #000000; stroke-width: 0.92"/>
</g>
</g>
<g id="text_61">
<text style="font-size: 10px; font-family: 'DejaVu Sans', 'Liberation Sans', sans-serif; text-anchor: middle" x="589.79" y="371.74">10</text>
</g>
</g>
<g id="xtick_40">
<g id="line2d_169">
<path d="M 390.1 357.14 
L 390.1 218.86 
" clip-path="url(#p1db4be6642)" style="fill: none; stroke: #b0b0b0; stroke-opacity: 0.3; stroke-width: 0.92; stroke-linecap: square"/>
</g>
<g id="line2d_170">
<g>
<path d="M 0 0 
L 0 2 
" transform="translate(390.1 357.14)" style="stroke: #000000; stroke-width: 0.69"/>
</g>
</g>
</g>
<g id="xtick_41">
<g id="line2d_171">
<path d="M 447.15 357.14 
L 447.15 218.86 
" clip-path="url(#p1db4be6642)" style="fill: none; stroke: #b0b0b0; stroke-opacity: 0.3; stroke-width: 0.92; stroke-linecap: square"/>
</g>
<g id="line2d_172">
<g>
<path d="M 0 0 
L 0 2 
" transform="translate(447.15 357.14)" style="stroke: #000000; stroke-width: 0.69"/>
</g>
</g>
</g>
<g id="xtick_42">
<g id="line2d_173">
<path d="M 504.21 357.14 
L 504.21 218.86 
" clip-path="url(#p1db4be6642)" style="fill: none; stroke: #b0b0b0; stroke-opacity: 0.3; stroke-width: 0.92; stroke-linecap: square"/>
</g>
<g id="line2d_174">
<g>
<path d="M 0 0 
L 0 2 
" transform="translate(504.21 357.14)" style="stroke: #000000; stroke-width: 0.69"/>
</g>
</g>
</g>
<g id="xtick_43">
<g id="line2d_175">
<path d="M 561.26 357.14 
L 561.26 218.86 
" clip-path="url(#p1db4be6642)" style="fill: none; stroke: #b0b0b0; stroke-opacity: 0.3; stroke-width: 0.92; stroke-linecap: square"/>
</g>
<g id="line2d_176">
<g>
<path d="M 0 0 
L 0 2 
" transform="translate(561.26 357.14)" style="stroke: #000000; stroke-width: 0.69"/>
</g>
</g>
</g>
<g id="xtick_44">
<g id="line2d_177">
<path d="M 618.31 357.14 
L 618.31 218.86 
" clip-path="url(#p1db4be6642)" style="fill: none; stroke: #b0b0b0; stroke-opacity: 0.3; stroke-width: 0.92; stroke-linecap: square"/>
</g>
<g id="line2d_178">
<g>
<path d="M 0 0 
L 0 2 
" transform="translate(618.31 357.14)" style="stroke: #000000; stroke-width: 0.69"/>
</g>
</g>
</g>
<g id="text_62">
<text style="font-size: 10px; font-family: 'DejaVu Sans', 'Liberation Sans', sans-serif; text-anchor: middle" x="499.93" y="385.42">Particle size [mm]</text>
</g>
</g>
<g id="matplotlib.axis_8">
<g id="ytick_34">
<g id="line2d_179">
<path d="M 363.43 350.87 
L 636.43 350.87 
" clip-path="url(#p1db4be6642)" style="fill: none; stroke: #b0b0b0; stroke-width: 0.92; stroke-linecap: square"/>
</g>
<g id="line2d_180">
<g>
<path d="M 0 0 
L -3.5 0 
" transform="translate(363.43 350.87)" style="stroke: #000000; stroke-width: 0.92"/>
</g>
</g>
<g id="text_63">
<text style="font-size: 10px; font-family: 'DejaVu Sans', 'Liberation Sans', sans-serif; text-anchor: end" x="356.43" y="354.67">0.0</text>
</g>
</g>
<g id="ytick_35">
<g id="line2d_181">
<path d="M 363.43 325.72 
L 636.43 325.72 
" clip-path="url(#p1db4be6642)" style="fill: none; stroke: #b0b0b0; stroke-width: 0.92; stroke-linecap: square"/>
</g>
<g id="line2d_182">
<g>
<path d="M 0 0 
L -3.5 0 
" transform="translate(363.43 325.72)" style="stroke: #000000; stroke-width: 0.92"/>
</g>
</g>
<g id="text_64">
<text style="font-size: 10px; font-family: 'DejaVu Sans', 'Liberation Sans', sans-serif; text-anchor: end" x="356.43" y="329.52">0.2</text>
</g>
</g>
<g id="ytick_36">
<g id="line2d_183">
<path d="M 363.43 300.58 
L 636.43 300.58 
" clip-path="url(#p1db4be6642)" style="fill: none; stroke: #b0b0b0; stroke-width: 0.92; stroke-linecap: square"/>
</g>
<g id="line2d_184">
<g>
<path d="M 0 0 
L -3.5 0 
" transform="translate(363.43 300.58)" style="stroke: #000000; stroke-width: 0.92"/>
</g>
</g>
<g id="text_65">
<text style="font-size: 10px; font-family: 'DejaVu Sans', 'Liberation Sans', sans-serif; text-anchor: end" x="356.43" y="304.38">0.4</text>
</g>
</g>
<g id="ytick_37">
<g id="line2d_185">
<path d="M 363.43 275.43 
L 636.43 275.43 
" clip-path="url(#p1db4be6642)" style="fill: none; stroke: #b0b0b0; stroke-width: 0.92; stroke-linecap: square"/>
</g>
<g id="line2d_186">
<g>
<path d="M 0 0 
L -3.5 0 
" transform="translate(363.43 275.43)" style="stroke: #000000; stroke-width: 0.92"/>
</g>
</g>
<g id="text_66">
<text style="font-size: 10px; font-family: 'DejaVu Sans', 'Liberation Sans', sans-serif; text-anchor: end" x="356.43" y="279.23">0.6</text>
</g>
</g>
<g id="ytick_38">
<g id="line2d_187">
<path d="M 363.43 250.29 
L 636.43 250.29 
" clip-path="url(#p1db4be6642)" style="fill: none; stroke: #b0b0b0; stroke-width: 0.92; stroke-linecap: square"/>
</g>
<g id="line2d_188">
<g>
<path d="M 0 0 
L -3.5 0 
" transform="translate(363.43 250.29)" style="stroke: #000000; stroke-width: 0.92"/>
</g>
</g>
<g id="text_67">
<text style="font-size: 10px; font-family: 'DejaVu Sans', 'Liberation Sans', sans-serif; text-anchor: end" x="356.43" y="254.09">0.8</text>
</g>
</g>
<g id="ytick_39">
<g id="line2d_189">
<path d="M 363.43 225.14 
L 636.43 225.14 
" clip-path="url(#p1db4be6642)" style="fill: none; stroke: #b0b0b0; stroke-width: 0.92; stroke-linecap: square"/>
</g>
<g id="line2d_190">
<g>
<path d="M 0 0 
L -3.5 0 
" transform="translate(363.43 225.14)" style="stroke: #000000; stroke-width: 0.92"/>
</g>
</g>
<g id="text_68">
<text style="font-size: 10px; font-family: 'DejaVu Sans', 'Liberation Sans', sans-serif; text-anchor: end" x="356.43" y="228.94">1.0</text>
</g>
</g>
<g id="ytick_40">
<g id="line2d_191">
<path d="M 363.43 338.29 
L 636.43 338.29 
" clip-path="url(#p1db4be6642)" style="fill: none; stroke: #b0b0b0; stroke-opacity: 0.3; stroke-width: 0.92; stroke-linecap: square"/>
</g>
<g id="line2d_192">
<g>
<path d="M 0 0 
L -2 0 
" transform="translate(363.43 338.29)" style="stroke: #000000; stroke-width: 0.69"/>
</g>
</g>
</g>
<g id="ytick_41">
<g id="line2d_193">
<path d="M 363.43 313.15 
L 636.43 313.15 
" clip-path="url(#p1db4be6642)" style="fill: none; stroke: #b0b0b0; stroke-opacity: 0.3; stroke-width: 0.92; stroke-linecap: square"/>
</g>
<g id="line2d_194">
<g>
<path d="M 0 0 
L -2 0 
" transform="translate(363.43 313.15)" style="stroke: #000000; stroke-width: 0.69"/>
</g>
</g>
</g>
<g id="ytick_42">
<g id="line2d_195">
<path d="M 363.43 288 
L 636.43 288 
" clip-path="url(#p1db4be6642)" style="fill: none; stroke: #b0b0b0; stroke-opacity: 0.3; stroke-width: 0.92; stroke-linecap: square"/>
</g>
<g id="line2d_196">
<g>
<path d="M 0 0 
L -2 0 
" transform="translate(363.43 288)" style="stroke: #000000; stroke-width: 0.69"/>
</g>
</g>
</g>
<g id="ytick_43">
<g id="line2d_197">
<path d="M 363.43 262.86 
L 636.43 262.86 
" clip-path="url(#p1db4be6642)" style="fill: none; stroke: #b0b0b0; stroke-opacity: 0.3; stroke-width: 0.92; stroke-linecap: square"/>
</g>
<g id="line2d_198">
<g>
<path d="M 0 0 
L -2 0 
" transform="translate(363.43 262.86)" style="stroke: #000000; stroke-width: 0.69"/>
</g>
</g>
</g>
<g id="ytick_44">
<g id="line2d_199">
<path d="M 363.43 237.72 
L 636.43 237.72 
" clip-path="url(#p1db4be6642)" style="fill: none; stroke: #b0b0b0; stroke-opacity: 0.3; stroke-width: 0.92; stroke-linecap: square"/>
</g>
<g id="line2d_200">
<g>
<path d="M 0 0 
L -2 0 
" transform="translate(363.43 237.72)" style="stroke: #000000; stroke-width: 0.69"/>
</g>
</g>
</g>
<g id="text_69">
<text style="font-size: 10px; font-family: 'DejaVu Sans', 'Liberation Sans', sans-serif; text-anchor: middle" x="334.45" y="288" transform="rotate(-90 334.45 288)">Cumulated mass [%]</text>
</g>
</g>
<g id="line2d_201">
<path d="M 375.84 337.33 
L 387.06 334.04 
L 398.29 330.53 
L 410.76 326.39 
L 423.23 322 
L 435.7 317.38 
L 449.42 312.04 
L 463.14 306.46 
L 476.86 300.63 
L 490.57 294.57 
L 505.54 287.71 
L 520.51 280.6 
L 535.47 273.25 
L 550.44 265.66 
L 566.65 257.18 
L 582.86 248.44 
L 599.08 239.45 
L 615.29 230.21 
L 624.02 225.14 
L 624.02 225.14 
" clip-path="url(#p1db4be6642)" style="fill: none; stroke-dasharray: 9.6,2.4,1.5,2.4; stroke-dashoffset: 0; stroke: #1f77b4; stroke-width: 1.73"/>
<g clip-path="url(#p1db4be6642)">
<path d="M 0 -3 
L -3 3 
L 3 3 
z
" transform="translate(375.84 337.33)" style="fill: #1f77b4; stroke: #1f77b4; stroke-linejoin: miter"/>
<path d="M 0 -3 
L -3 3 
L 3 3 
z
" transform="translate(404.52 328.49)" style="fill: #1f77b4; stroke: #1f77b4; stroke-linejoin: miter"/>
<path d="M 0 -3 
L -3 3 
L 3 3 
z
" transform="translate(434.45 317.85)" style="fill: #1f77b4; stroke: #1f77b4; stroke-linejoin: miter"/>
<path d="M 0 -3 
L -3 3 
L 3 3 
z
" transform="translate(461.89 306.97)" style="fill: #1f77b4; stroke: #1f77b4; stroke-linejoin: miter"/>
<path d="M 0 -3 
L -3 3 
L 3 3 
z
" transform="translate(490.57 294.57)" style="fill: #1f77b4; stroke: #1f77b4; stroke-linejoin: miter"/>
<path d="M 0 -3 
L -3 3 
L 3 3 
z
" transform="translate(518.01 281.81)" style="fill: #1f77b4; stroke: #1f77b4; stroke-linejoin: miter"/>
<path d="M 0 -3 
L -3 3 
L 3 3 
z
" transform="translate(545.45 268.21)" style="fill: #1f77b4; stroke: #1f77b4; stroke-linejoin: miter"/>
<path d="M 0 -3 
L -3 3 
L 3 3 
z
" transform="translate(572.89 253.85)" style="fill: #1f77b4; stroke: #1f77b4; stroke-linejoin: miter"/>
<path d="M 0 -3 
L -3 3 
L 3 3 
z
" transform="translate(599.08 239.45)" style="fill: #1f77b4; stroke: #1f77b4; stroke-linejoin: miter"/>
</g>
</g>
<g id="line2d_202">
<path d="M 375.84 350.54 
L 384.57 350.17 
L 392.05 349.63 
L 398.29 348.94 
L 403.27 348.17 
L 408.26 347.17 
L 412 346.23 
L 415.75 345.1 
L 419.49 343.75 
L 423.23 342.16 
L 426.97 340.3 
L 430.71 338.13 
L 434.45 335.63 
L 438.19 332.77 
L 441.94 329.53 
L 445.68 325.88 
L 449.42 321.82 
L 453.16 317.34 
L 456.9 312.45 
L 460.64 307.18 
L 464.38 301.54 
L 469.37 293.56 
L 475.61 283.07 
L 486.83 264.09 
L 490.57 258.14 
L 494.32 252.57 
L 498.06 247.45 
L 500.55 244.34 
L 503.05 241.48 
L 505.54 238.89 
L 508.04 236.57 
L 510.53 234.51 
L 513.02 232.73 
L 515.52 231.19 
L 518.01 229.9 
L 520.51 228.82 
L 523 227.94 
L 525.5 227.23 
L 529.24 226.44 
L 532.98 225.92 
L 537.97 225.5 
L 544.2 225.26 
L 554.18 225.16 
L 595.34 225.14 
L 624.02 225.14 
L 624.02 225.14 
" clip-path="url(#p1db4be6642)" style="fill: none; stroke-dasharray: 9.6,2.4,1.5,2.4; stroke-dashoffset: 0; stroke: #ff7f0e; stroke-width: 1.73"/>
<g clip-path="url(#p1db4be6642)">
<path d="M 0 3 
C 0.8 3 1.56 2.68 2.12 2.12 
C 2.68 1.56 3 0.8 3 0 
C 3 -0.8 2.68 -1.56 2.12 -2.12 
C 1.56 -2.68 0.8 -3 0 -3 
C -0.8 -3 -1.56 -2.68 -2.12 -2.12 
C -2.68 -1.56 -3 -0.8 -3 0 
C -3 0.8 -2.68 1.56 -2.12 2.12 
C -1.56 2.68 -0.8 3 0 3 
z
" transform="translate(375.84 350.54)" style="fill: #ff7f0e; stroke: #ff7f0e"/>
<path d="M 0 3 
C 0.8 3 1.56 2.68 2.12 2.12 
C 2.68 1.56 3 0.8 3 0 
C 3 -0.8 2.68 -1.56 2.12 -2.12 
C 1.56 -2.68 0.8 -3 0 -3 
C -0.8 -3 -1.56 -2.68 -2.12 -2.12 
C -2.68 -1.56 -3 -0.8 -3 0 
C -3 0.8 -2.68 1.56 -2.12 2.12 
C -1.56 2.68 -0.8 3 0 3 
z
" transform="translate(405.77 347.71)" style="fill: #ff7f0e; stroke: #ff7f0e"/>
<path d="M 0 3 
C 0.8 3 1.56 2.68 2.12 2.12 
C 2.68 1.56 3 0.8 3 0 
C 3 -0.8 2.68 -1.56 2.12 -2.12 
C 1.56 -2.68 0.8 -3 0 -3 
C -0.8 -3 -1.56 -2.68 -2.12 -2.12 
C -2.68 -1.56 -3 -0.8 -3 0 
C -3 0.8 -2.68 1.56 -2.12 2.12 
C -1.56 2.68 -0.8 3 0 3 
z
" transform="translate(434.45 335.63)" style="fill: #ff7f0e; stroke: #ff7f0e"/>
<path d="M 0 3 
C 0.8 3 1.56 2.68 2.12 2.12 
C 2.68 1.56 3 0.8 3 0 
C 3 -0.8 2.68 -1.56 2.12 -2.12 
C 1.56 -2.68 0.8 -3 0 -3 
C -0.8 -3 -1.56 -2.68 -2.12 -2.12 
C -2.68 -1.56 -3 -0.8 -3 0 
C -3 0.8 -2.68 1.56 -2.12 2.12 
C -1.56 2.68 -0.8 3 0 3 
z
" transform="translate(455.65 314.13)" style="fill: #ff7f0e; stroke: #ff7f0e"/>
<path d="M 0 3 
C 0.8 3 1.56 2.68 2.12 2.12 
C 2.68 1.56 3 0.8 3 0 
C 3 -0.8 2.68 -1.56 2.12 -2.12 
C 1.56 -2.68 0.8 -3 0 -3 
C -0.8 -3 -1.56 -2.68 -2.12 -2.12 
C -2.68 -1.56 -3 -0.8 -3 0 
C -3 0.8 -2.68 1.56 -2.12 2.12 
C -1.56 2.68 -0.8 3 0 3 
z
" transform="translate(471.87 289.41)" style="fill: #ff7f0e; stroke: #ff7f0e"/>
<path d="M 0 3 
C 0.8 3 1.56 2.68 2.12 2.12 
C 2.68 1.56 3 0.8 3 0 
C 3 -0.8 2.68 -1.56 2.12 -2.12 
C 1.56 -2.68 0.8 -3 0 -3 
C -0.8 -3 -1.56 -2.68 -2.12 -2.12 
C -2.68 -1.56 -3 -0.8 -3 0 
C -3 0.8 -2.68 1.56 -2.12 2.12 
C -1.56 2.68 -0.8 3 0 3 
z
" transform="translate(488.08 262.07)" style="fill: #ff7f0e; stroke: #ff7f0e"/>
<path d="M 0 3 
C 0.8 3 1.56 2.68 2.12 2.12 
C 2.68 1.56 3 0.8 3 0 
C 3 -0.8 2.68 -1.56 2.12 -2.12 
C 1.56 -2.68 0.8 -3 0 -3 
C -0.8 -3 -1.56 -2.68 -2.12 -2.12 
C -2.68 -1.56 -3 -0.8 -3 0 
C -3 0.8 -2.68 1.56 -2.12 2.12 
C -1.56 2.68 -0.8 3 0 3 
z
" transform="translate(506.79 237.69)" style="fill: #ff7f0e; stroke: #ff7f0e"/>
<path d="M 0 3 
C 0.8 3 1.56 2.68 2.12 2.12 
C 2.68 1.56 3 0.8 3 0 
C 3 -0.8 2.68 -1.56 2.12 -2.12 
C 1.56 -2.68 0.8 -3 0 -3 
C -0.8 -3 -1.56 -2.68 -2.12 -2.12 
C -2.68 -1.56 -3 -0.8 -3 0 
C -3 0.8 -2.68 1.56 -2.12 2.12 
C -1.56 2.68 -0.8 3 0 3 
z
" transform="translate(534.23 225.79)" style="fill: #ff7f0e; stroke: #ff7f0e"/>
<path d="M 0 3 
C 0.8 3 1.56 2.68 2.12 2.12 
C 2.68 1.56 3 0.8 3 0 
C 3 -0.8 2.68 -1.56 2.12 -2.12 
C 1.56 -2.68 0.8 -3 0 -3 
C -0.8 -3 -1.56 -2.68 -2.12 -2.12 
C -2.68 -1.56 -3 -0.8 -3 0 
C -3 0.8 -2.68 1.56 -2.12 2.12 
C -1.56 2.68 -0.8 3 0 3 
z
" transform="translate(564.16 225.14)" style="fill: #ff7f0e; stroke: #ff7f0e"/>
<path d="M 0 3 
C 0.8 3 1.56 2.68 2.12 2.12 
C 2.68 1.56 3 0.8 3 0 
C 3 -0.8 2.68 -1.56 2.12 -2.12 
C 1.56 -2.68 0.8 -3 0 -3 
C -0.8 -3 -1.56 -2.68 -2.12 -2.12 
C -2.68 -1.56 -3 -0.8 -3 0 
C -3 0.8 -2.68 1.56 -2.12 2.12 
C -1.56 2.68 -0.8 3 0 3 
z
" transform="translate(595.34 225.14)" style="fill: #ff7f0e; stroke: #ff7f0e"/>
</g>
</g>
<g id="line2d_203">
<path d="M 375.84 350.86 
L 389.56 350.71 
L 395.79 350.45 
L 400.78 350.03 
L 404.52 349.55 
L 408.26 348.86 
L 412 347.92 
L 415.75 346.7 
L 419.49 345.13 
L 421.98 343.89 
L 424.48 342.48 
L 426.97 340.88 
L 429.46 339.11 
L 433.21 336.12 
L 436.95 332.73 
L 440.69 328.96 
L 444.43 324.85 
L 448.17 320.45 
L 453.16 314.19 
L 459.4 305.96 
L 476.86 282.58 
L 481.84 276.32 
L 486.83 270.41 
L 491.82 264.9 
L 495.56 261.06 
L 499.3 257.47 
L 503.05 254.14 
L 506.79 251.07 
L 510.53 248.25 
L 514.27 245.68 
L 518.01 243.34 
L 521.75 241.22 
L 525.5 239.31 
L 529.24 237.6 
L 534.23 235.59 
L 539.21 233.88 
L 544.2 232.41 
L 549.19 231.18 
L 555.43 229.9 
L 561.66 228.88 
L 567.9 228.06 
L 575.38 227.3 
L 584.11 226.65 
L 594.09 226.14 
L 606.56 225.73 
L 622.77 225.43 
L 624.02 225.42 
L 624.02 225.42 
" clip-path="url(#p1db4be6642)" style="fill: none; stroke-dasharray: 9.6,2.4,1.5,2.4; stroke-dashoffset: 0; stroke: #2ca02c; stroke-width: 1.73"/>
<g clip-path="url(#p1db4be6642)">
<path d="M -3 3 
L 3 3 
L 3 -3 
L -3 -3 
z
" transform="translate(375.84 350.86)" style="fill: #2ca02c; stroke: #2ca02c; stroke-linejoin: miter"/>
<path d="M -3 3 
L 3 3 
L 3 -3 
L -3 -3 
z
" transform="translate(405.77 349.34)" style="fill: #2ca02c; stroke: #2ca02c; stroke-linejoin: miter"/>
<path d="M -3 3 
L 3 3 
L 3 -3 
L -3 -3 
z
" transform="translate(433.21 336.12)" style="fill: #2ca02c; stroke: #2ca02c; stroke-linejoin: miter"/>
<path d="M -3 3 
L 3 3 
L 3 -3 
L -3 -3 
z
" transform="translate(454.41 312.58)" style="fill: #2ca02c; stroke: #2ca02c; stroke-linejoin: miter"/>
<path d="M -3 3 
L 3 3 
L 3 -3 
L -3 -3 
z
" transform="translate(471.87 289.11)" style="fill: #2ca02c; stroke: #2ca02c; stroke-linejoin: miter"/>
<path d="M -3 3 
L 3 3 
L 3 -3 
L -3 -3 
z
" transform="translate(491.82 264.9)" style="fill: #2ca02c; stroke: #2ca02c; stroke-linejoin: miter"/>
<path d="M -3 3 
L 3 3 
L 3 -3 
L -3 -3 
z
" transform="translate(515.52 244.87)" style="fill: #2ca02c; stroke: #2ca02c; stroke-linejoin: miter"/>
<path d="M -3 3 
L 3 3 
L 3 -3 
L -3 -3 
z
" transform="translate(542.96 232.76)" style="fill: #2ca02c; stroke: #2ca02c; stroke-linejoin: miter"/>
<path d="M -3 3 
L 3 3 
L 3 -3 
L -3 -3 
z
" transform="translate(572.89 227.53)" style="fill: #2ca02c; stroke: #2ca02c; stroke-linejoin: miter"/>
<path d="M -3 3 
L 3 3 
L 3 -3 
L -3 -3 
z
" transform="translate(602.82 225.83)" style="fill: #2ca02c; stroke: #2ca02c; stroke-linejoin: miter"/>
</g>
</g>
<g id="patch_21">
<path d="M 363.43 357.14 
L 363.43 218.86 
" style="fill: none; stroke: #000000; stroke-width: 0.92; stroke-linejoin: miter; stroke-linecap: square"/>
</g>
<g id="patch_22">
<path d="M 636.43 357.14 
L 636.43 218.86 
" style="fill: none; stroke: #000000; stroke-width: 0.92; stroke-linejoin: miter; stroke-linecap: square"/>
</g>
<g id="patch_23">
<path d="M 363.43 357.14 
L 636.43 357.14 
" style="fill: none; stroke: #000000; stroke-width: 0.92; stroke-linejoin: miter; stroke-linecap: square"/>
</g>
<g id="patch_24">
<path d="M 363.43 218.86 
L 636.43 218.86 
" style="fill: none; stroke: #000000; stroke-width: 0.92; stroke-linejoin: miter; stroke-linecap: square"/>
</g>
<g id="line2d_204">
<g clip-path="url(#p1db4be6642)">
<path d="M -4 4 
L 4 -4 
M -4 -4 
L 4 4 
" transform="translate(375.84 348.35)" style="stroke: #000000; stroke-width: 1.26"/>
<path d="M -4 4 
L 4 -4 
M -4 -4 
L 4 4 
" transform="translate(405.79 347.09)" style="stroke: #000000; stroke-width: 1.26"/>
<path d="M -4 4 
L 4 -4 
M -4 -4 
L 4 4 
" transform="translate(418.63 345.84)" style="stroke: #000000; stroke-width: 1.26"/>
<path d="M -4 4 
L 4 -4 
M -4 -4 
L 4 4 
" transform="translate(432.89 338.29)" style="stroke: #000000; stroke-width: 1.26"/>
<path d="M -4 4 
L 4 -4 
M -4 -4 
L 4 4 
" transform="translate(447.15 325.72)" style="stroke: #000000; stroke-width: 1.26"/>
<path d="M -4 4 
L 4 -4 
M -4 -4 
L 4 4 
" transform="translate(484.24 265.37)" style="stroke: #000000; stroke-width: 1.26"/>
<path d="M -4 4 
L 4 -4 
M -4 -4 
L 4 4 
" transform="translate(532.73 244.63)" style="stroke: #000000; stroke-width: 1.26"/>
<path d="M -4 4 
L 4 -4 
M -4 -4 
L 4 4 
" transform="translate(561.26 231.43)" style="stroke: #000000; stroke-width: 1.26"/>
<path d="M -4 4 
L 4 -4 
M -4 -4 
L 4 4 
" transform="translate(624.02 225.14)" style="stroke: #000000; stroke-width: 1.26"/>
</g>
</g>
<g id="text_70">
<text style="font-size: 12px; font-family: 'DejaVu Sans', 'Liberation Sans', sans-serif; text-anchor: middle" x="499.93" y="212.86">Gravel 2/8 mm</text>
</g>
<g id="legend_4">
<g id="patch_25">
<path d="M 540.92 352.14 
L 629.43 352.14 
Q 631.43 352.14 631.43 350.14 
L 631.43 292.43 
Q 631.43 290.43 629.43 290.43 
L 540.92 290.43 
Q 538.92 290.43 538.92 292.43 
L 538.92 350.14 
Q 538.92 352.14 540.92 352.14 
z
" style="fill: #ffffff; opacity: 0.8; stroke: #cccccc; stroke-linejoin: miter"/>
</g>
<g id="line2d_205">
<g>
<path d="M -4 4 
L 4 -4 
M -4 -4 
L 4 4 
" transform="translate(552.92 298.53)" style="stroke: #000000; stroke-width: 1.26"/>
</g>
</g>
<g id="text_71">
<text style="font-size: 10px; font-family: 'DejaVu Sans', 'Liberation Sans', sans-serif; text-anchor: start" x="570.92" y="302.03">Real</text>
</g>
<g id="line2d_206">
<path d="M 542.92 313.21 
L 552.92 313.21 
L 562.92 313.21 
" style="fill: none; stroke-dasharray: 9.6,2.4,1.5,2.4; stroke-dashoffset: 0; stroke: #1f77b4; stroke-width: 1.73"/>
<g>
<path d="M 0 -3 
L -3 3 
L 3 3 
z
" transform="translate(552.92 313.21)" style="fill: #1f77b4; stroke: #1f77b4; stroke-linejoin: miter"/>
</g>
</g>
<g id="text_72">
<text style="font-size: 10px; font-family: 'DejaVu Sans', 'Liberation Sans', sans-serif; text-anchor: start" x="570.92" y="316.71">GGS</text>
</g>
<g id="line2d_207">
<path d="M 542.92 327.89 
L 552.92 327.89 
L 562.92 327.89 
" style="fill: none; stroke-dasharray: 9.6,2.4,1.5,2.4; stroke-dashoffset: 0; stroke: #ff7f0e; stroke-width: 1.73"/>
<g>
<path d="M 0 3 
C 0.8 3 1.56 2.68 2.12 2.12 
C 2.68 1.56 3 0.8 3 0 
C 3 -0.8 2.68 -1.56 2.12 -2.12 
C 1.56 -2.68 0.8 -3 0 -3 
C -0.8 -3 -1.56 -2.68 -2.12 -2.12 
C -2.68 -1.56 -3 -0.8 -3 0 
C -3 0.8 -2.68 1.56 -2.12 2.12 
C -1.56 2.68 -0.8 3 0 3 
z
" transform="translate(552.92 327.89)" style="fill: #ff7f0e; stroke: #ff7f0e"/>
</g>
</g>
<g id="text_73">
<text style="font-size: 10px; font-family: 'DejaVu Sans', 'Liberation Sans', sans-serif; text-anchor: start" x="570.92" y="331.39">RRSB</text>
</g>
<g id="line2d_208">
<path d="M 542.92 342.56 
L 552.92 342.56 
L 562.92 342.56 
" style="fill: none; stroke-dasharray: 9.6,2.4,1.5,2.4; stroke-dashoffset: 0; stroke: #2ca02c; stroke-width: 1.73"/>
<g>
<path d="M -3 3 
L 3 3 
L 3 -3 
L -3 -3 
z
" transform="translate(552.92 342.56)" style="fill: #2ca02c; stroke: #2ca02c; stroke-linejoin: miter"/>
</g>
</g>
<g id="text_74">
<text style="font-size: 10px; font-family: 'DejaVu Sans', 'Liberation Sans', sans-serif; text-anchor: start" x="570.92" y="346.06">Log-normal</text>
</g>
</g>
</g>
<g id="axes_5">
<g id="patch_26">
<path d="M 43.43 553.86 
L 316.14 553.86 
L 316.14 415.29 
L 43.43 415.29 
z
" style="fill: #ffffff"/>
</g>
<g id="matplotlib.axis_9">
<g id="xtick_45">
<g id="line2d_209">
<path d="M 67.36 553.86 
L 67.36 415.29 
" clip-path="url(#p84d23c96f6)" style="fill: none; stroke: #b0b0b0; stroke-width: 0.92; stroke-linecap: square"/>
</g>
<g id="line2d_210">
<g>
<path d="M 0 0 
L 0 3.5 
" transform="translate(67.36 553.86)" style="stroke: #000000; stroke-width: 0.92"/>
</g>
</g>
<g id="text_75">
<text style="font-size: 10px; font-family: 'DejaVu Sans', 'Liberation Sans', sans-serif; text-anchor: middle" x="67.36" y="568.46">15</text>
</g>
</g>
<g id="xtick_46">
<g id="line2d_211">
<path d="M 125.01 553.86 
L 125.01 415.29 
" clip-path="url(#p84d23c96f6)" style="fill: none; stroke: #b0b0b0; stroke-width: 0.92; stroke-linecap: square"/>
</g>
<g id="line2d_212">
<g>
<path d="M 0 0 
L 0 3.5 
" transform="translate(125.01 553.86)" style="stroke: #000000; stroke-width: 0.92"/>
</g>
</g>
<g id="text_76">
<text style="font-size: 10px; font-family: 'DejaVu Sans', 'Liberation Sans', sans-serif; text-anchor: middle" x="125.01" y="568.46">20</text>
</g>
</g>
<g id="xtick_47">
<g id="line2d_213">
<path d="M 182.67 553.86 
L 182.67 415.29 
" clip-path="url(#p84d23c96f6)" style="fill: none; stroke: #b0b0b0; stroke-width: 0.92; stroke-linecap: square"/>
</g>
<g id="line2d_214">
<g>
<path d="M 0 0 
L 0 3.5 
" transform="translate(182.67 553.86)" style="stroke: #000000; stroke-width: 0.92"/>
</g>
</g>
<g id="text_77">
<text style="font-size: 10px; font-family: 'DejaVu Sans', 'Liberation Sans', sans-serif; text-anchor: middle" x="182.67" y="568.46">25</text>
</g>
</g>
<g id="xtick_48">
<g id="line2d_215">
<path d="M 240.32 553.86 
L 240.32 415.29 
" clip-path="url(#p84d23c96f6)" style="fill: none; stroke: #b0b0b0; stroke-width: 0.92; stroke-linecap: square"/>
</g>
<g id="line2d_216">
<g>
<path d="M 0 0 
L 0 3.5 
" transform="translate(240.32 553.86)" style="stroke: #000000; stroke-width: 0.92"/>
</g>
</g>
<g id="text_78">
<text style="font-size: 10px; font-family: 'DejaVu Sans', 'Liberation Sans', sans-serif; text-anchor: middle" x="240.32" y="568.46">30</text>
</g>
</g>
<g id="xtick_49">
<g id="line2d_217">
<path d="M 297.98 553.86 
L 297.98 415.29 
" clip-path="url(#p84d23c96f6)" style="fill: none; stroke: #b0b0b0; stroke-width: 0.92; stroke-linecap: square"/>
</g>
<g id="line2d_218">
<g>
<path d="M 0 0 
L 0 3.5 
" transform="translate(297.98 553.86)" style="stroke: #000000; stroke-width: 0.92"/>
</g>
</g>
<g id="text_79">
<text style="font-size: 10px; font-family: 'DejaVu Sans', 'Liberation Sans', sans-serif; text-anchor: middle" x="297.98" y="568.46">35</text>
</g>
</g>
<g id="xtick_50">
<g id="line2d_219">
<path d="M 96.18 553.86 
L 96.18 415.29 
" clip-path="url(#p84d23c96f6)" style="fill: none; stroke: #b0b0b0; stroke-opacity: 0.3; stroke-width: 0.92; stroke-linecap: square"/>
</g>
<g id="line2d_220">
<g>
<path d="M 0 0 
L 0 2 
" transform="translate(96.18 553.86)" style="stroke: #000000; stroke-width: 0.69"/>
</g>
</g>
</g>
<g id="xtick_51">
<g id="line2d_221">
<path d="M 153.84 553.86 
L 153.84 415.29 
" clip-path="url(#p84d23c96f6)" style="fill: none; stroke: #b0b0b0; stroke-opacity: 0.3; stroke-width: 0.92; stroke-linecap: square"/>
</g>
<g id="line2d_222">
<g>
<path d="M 0 0 
L 0 2 
" transform="translate(153.84 553.86)" style="stroke: #000000; stroke-width: 0.69"/>
</g>
</g>
</g>
<g id="xtick_52">
<g id="line2d_223">
<path d="M 211.5 553.86 
L 211.5 415.29 
" clip-path="url(#p84d23c96f6)" style="fill: none; stroke: #b0b0b0; stroke-opacity: 0.3; stroke-width: 0.92; stroke-linecap: square"/>
</g>
<g id="line2d_224">
<g>
<path d="M 0 0 
L 0 2 
" transform="translate(211.5 553.86)" style="stroke: #000000; stroke-width: 0.69"/>
</g>
</g>
</g>
<g id="xtick_53">
<g id="line2d_225">
<path d="M 269.15 553.86 
L 269.15 415.29 
" clip-path="url(#p84d23c96f6)" style="fill: none; stroke: #b0b0b0; stroke-opacity: 0.3; stroke-width: 0.92; stroke-linecap: square"/>
</g>
<g id="line2d_226">
<g>
<path d="M 0 0 
L 0 2 
" transform="translate(269.15 553.86)" style="stroke: #000000; stroke-width: 0.69"/>
</g>
</g>
</g>
<g id="text_80">
<text style="font-size: 10px; font-family: 'DejaVu Sans', 'Liberation Sans', sans-serif; text-anchor: middle" x="179.79" y="582.13">Particle size [mm]</text>
</g>
</g>
<g id="matplotlib.axis_10">
<g id="ytick_45">
<g id="line2d_227">
<path d="M 43.43 547.56 
L 316.14 547.56 
" clip-path="url(#p84d23c96f6)" style="fill: none; stroke: #b0b0b0; stroke-width: 0.92; stroke-linecap: square"/>
</g>
<g id="line2d_228">
<g>
<path d="M 0 0 
L -3.5 0 
" transform="translate(43.43 547.56)" style="stroke: #000000; stroke-width: 0.92"/>
</g>
</g>
<g id="text_81">
<text style="font-size: 10px; font-family: 'DejaVu Sans', 'Liberation Sans', sans-serif; text-anchor: end" x="36.43" y="551.36">0.0</text>
</g>
</g>
<g id="ytick_46">
<g id="line2d_229">
<path d="M 43.43 522.36 
L 316.14 522.36 
" clip-path="url(#p84d23c96f6)" style="fill: none; stroke: #b0b0b0; stroke-width: 0.92; stroke-linecap: square"/>
</g>
<g id="line2d_230">
<g>
<path d="M 0 0 
L -3.5 0 
" transform="translate(43.43 522.36)" style="stroke: #000000; stroke-width: 0.92"/>
</g>
</g>
<g id="text_82">
<text style="font-size: 10px; font-family: 'DejaVu Sans', 'Liberation Sans', sans-serif; text-anchor: end" x="36.43" y="526.16">0.2</text>
</g>
</g>
<g id="ytick_47">
<g id="line2d_231">
<path d="M 43.43 497.17 
L 316.14 497.17 
" clip-path="url(#p84d23c96f6)" style="fill: none; stroke: #b0b0b0; stroke-width: 0.92; stroke-linecap: square"/>
</g>
<g id="line2d_232">
<g>
<path d="M 0 0 
L -3.5 0 
" transform="translate(43.43 497.17)" style="stroke: #000000; stroke-width: 0.92"/>
</g>
</g>
<g id="text_83">
<text style="font-size: 10px; font-family: 'DejaVu Sans', 'Liberation Sans', sans-serif; text-anchor: end" x="36.43" y="500.97">0.4</text>
</g>
</g>
<g id="ytick_48">
<g id="line2d_233">
<path d="M 43.43 471.97 
L 316.14 471.97 
" clip-path="url(#p84d23c96f6)" style="fill: none; stroke: #b0b0b0; stroke-width: 0.92; stroke-linecap: square"/>
</g>
<g id="line2d_234">
<g>
<path d="M 0 0 
L -3.5 0 
" transform="translate(43.43 471.97)" style="stroke: #000000; stroke-width: 0.92"/>
</g>
</g>
<g id="text_84">
<text style="font-size: 10px; font-family: 'DejaVu Sans', 'Liberation Sans', sans-serif; text-anchor: end" x="36.43" y="475.77">0.6</text>
</g>
</g>
<g id="ytick_49">
<g id="line2d_235">
<path d="M 43.43 446.78 
L 316.14 446.78 
" clip-path="url(#p84d23c96f6)" style="fill: none; stroke: #b0b0b0; stroke-width: 0.92; stroke-linecap: square"/>
</g>
<g id="line2d_236">
<g>
<path d="M 0 0 
L -3.5 0 
" transform="translate(43.43 446.78)" style="stroke: #000000; stroke-width: 0.92"/>
</g>
</g>
<g id="text_85">
<text style="font-size: 10px; font-family: 'DejaVu Sans', 'Liberation Sans', sans-serif; text-anchor: end" x="36.43" y="450.58">0.8</text>
</g>
</g>
<g id="ytick_50">
<g id="line2d_237">
<path d="M 43.43 421.58 
L 316.14 421.58 
" clip-path="url(#p84d23c96f6)" style="fill: none; stroke: #b0b0b0; stroke-width: 0.92; stroke-linecap: square"/>
</g>
<g id="line2d_238">
<g>
<path d="M 0 0 
L -3.5 0 
" transform="translate(43.43 421.58)" style="stroke: #000000; stroke-width: 0.92"/>
</g>
</g>
<g id="text_86">
<text style="font-size: 10px; font-family: 'DejaVu Sans', 'Liberation Sans', sans-serif; text-anchor: end" x="36.43" y="425.38">1.0</text>
</g>
</g>
<g id="ytick_51">
<g id="line2d_239">
<path d="M 43.43 534.96 
L 316.14 534.96 
" clip-path="url(#p84d23c96f6)" style="fill: none; stroke: #b0b0b0; stroke-opacity: 0.3; stroke-width: 0.92; stroke-linecap: square"/>
</g>
<g id="line2d_240">
<g>
<path d="M 0 0 
L -2 0 
" transform="translate(43.43 534.96)" style="stroke: #000000; stroke-width: 0.69"/>
</g>
</g>
</g>
<g id="ytick_52">
<g id="line2d_241">
<path d="M 43.43 509.77 
L 316.14 509.77 
" clip-path="url(#p84d23c96f6)" style="fill: none; stroke: #b0b0b0; stroke-opacity: 0.3; stroke-width: 0.92; stroke-linecap: square"/>
</g>
<g id="line2d_242">
<g>
<path d="M 0 0 
L -2 0 
" transform="translate(43.43 509.77)" style="stroke: #000000; stroke-width: 0.69"/>
</g>
</g>
</g>
<g id="ytick_53">
<g id="line2d_243">
<path d="M 43.43 484.57 
L 316.14 484.57 
" clip-path="url(#p84d23c96f6)" style="fill: none; stroke: #b0b0b0; stroke-opacity: 0.3; stroke-width: 0.92; stroke-linecap: square"/>
</g>
<g id="line2d_244">
<g>
<path d="M 0 0 
L -2 0 
" transform="translate(43.43 484.57)" style="stroke: #000000; stroke-width: 0.69"/>
</g>
</g>
</g>
<g id="ytick_54">
<g id="line2d_245">
<path d="M 43.43 459.38 
L 316.14 459.38 
" clip-path="url(#p84d23c96f6)" style="fill: none; stroke: #b0b0b0; stroke-opacity: 0.3; stroke-width: 0.92; stroke-linecap: square"/>
</g>
<g id="line2d_246">
<g>
<path d="M 0 0 
L -2 0 
" transform="translate(43.43 459.38)" style="stroke: #000000; stroke-width: 0.69"/>
</g>
</g>
</g>
<g id="ytick_55">
<g id="line2d_247">
<path d="M 43.43 434.18 
L 316.14 434.18 
" clip-path="url(#p84d23c96f6)" style="fill: none; stroke: #b0b0b0; stroke-opacity: 0.3; stroke-width: 0.92; stroke-linecap: square"/>
</g>
<g id="line2d_248">
<g>
<path d="M 0 0 
L -2 0 
" transform="translate(43.43 434.18)" style="stroke: #000000; stroke-width: 0.69"/>
</g>
</g>
</g>
<g id="text_87">
<text style="font-size: 10px; font-family: 'DejaVu Sans', 'Liberation Sans', sans-serif; text-anchor: middle" x="14.45" y="484.57" transform="rotate(-90 14.45 484.57)">Cumulated mass [%]</text>
</g>
</g>
<g id="line2d_249">
<path d="M 55.82 517.49 
L 72.02 512.73 
L 88.22 507.72 
L 104.41 502.48 
L 120.61 497.01 
L 138.05 490.89 
L 155.49 484.52 
L 172.93 477.93 
L 190.38 471.1 
L 209.06 463.54 
L 227.75 455.74 
L 246.44 447.69 
L 265.13 439.41 
L 285.06 430.33 
L 303.75 421.58 
L 303.75 421.58 
" clip-path="url(#p84d23c96f6)" style="fill: none; stroke-dasharray: 9.6,2.4,1.5,2.4; stroke-dashoffset: 0; stroke: #1f77b4; stroke-width: 1.73"/>
<g clip-path="url(#p84d23c96f6)">
<path d="M 0 -3 
L -3 3 
L 3 3 
z
" transform="translate(55.82 517.49)" style="fill: #1f77b4; stroke: #1f77b4; stroke-linejoin: miter"/>
<path d="M 0 -3 
L -3 3 
L 3 3 
z
" transform="translate(85.72 508.5)" style="fill: #1f77b4; stroke: #1f77b4; stroke-linejoin: miter"/>
<path d="M 0 -3 
L -3 3 
L 3 3 
z
" transform="translate(114.38 499.14)" style="fill: #1f77b4; stroke: #1f77b4; stroke-linejoin: miter"/>
<path d="M 0 -3 
L -3 3 
L 3 3 
z
" transform="translate(143.03 489.1)" style="fill: #1f77b4; stroke: #1f77b4; stroke-linejoin: miter"/>
<path d="M 0 -3 
L -3 3 
L 3 3 
z
" transform="translate(171.69 478.4)" style="fill: #1f77b4; stroke: #1f77b4; stroke-linejoin: miter"/>
<path d="M 0 -3 
L -3 3 
L 3 3 
z
" transform="translate(200.34 467.1)" style="fill: #1f77b4; stroke: #1f77b4; stroke-linejoin: miter"/>
<path d="M 0 -3 
L -3 3 
L 3 3 
z
" transform="translate(229 455.21)" style="fill: #1f77b4; stroke: #1f77b4; stroke-linejoin: miter"/>
<path d="M 0 -3 
L -3 3 
L 3 3 
z
" transform="translate(256.4 443.3)" style="fill: #1f77b4; stroke: #1f77b4; stroke-linejoin: miter"/>
<path d="M 0 -3 
L -3 3 
L 3 3 
z
" transform="translate(283.81 430.9)" style="fill: #1f77b4; stroke: #1f77b4; stroke-linejoin: miter"/>
</g>
</g>
<g id="line2d_250">
<path d="M 55.82 545.99 
L 60.81 545.34 
L 65.79 544.46 
L 69.53 543.6 
L 73.27 542.53 
L 77 541.22 
L 80.74 539.61 
L 83.23 538.35 
L 85.72 536.92 
L 88.22 535.3 
L 90.71 533.47 
L 93.2 531.42 
L 95.69 529.13 
L 98.18 526.57 
L 100.67 523.74 
L 103.17 520.62 
L 105.66 517.2 
L 108.15 513.48 
L 110.64 509.44 
L 113.13 505.09 
L 116.87 498.03 
L 120.61 490.38 
L 125.59 479.5 
L 135.56 457.24 
L 139.3 449.52 
L 141.79 444.78 
L 144.28 440.45 
L 146.77 436.59 
L 149.26 433.22 
L 151.75 430.36 
L 154.25 428.01 
L 156.74 426.13 
L 159.23 424.69 
L 161.72 423.63 
L 164.21 422.87 
L 166.7 422.35 
L 170.44 421.91 
L 175.43 421.67 
L 184.15 421.59 
L 275.09 421.58 
L 303.75 421.58 
L 303.75 421.58 
" clip-path="url(#p84d23c96f6)" style="fill: none; stroke-dasharray: 9.6,2.4,1.5,2.4; stroke-dashoffset: 0; stroke: #ff7f0e; stroke-width: 1.73"/>
<g clip-path="url(#p84d23c96f6)">
<path d="M 0 3 
C 0.8 3 1.56 2.68 2.12 2.12 
C 2.68 1.56 3 0.8 3 0 
C 3 -0.8 2.68 -1.56 2.12 -2.12 
C 1.56 -2.68 0.8 -3 0 -3 
C -0.8 -3 -1.56 -2.68 -2.12 -2.12 
C -2.68 -1.56 -3 -0.8 -3 0 
C -3 0.8 -2.68 1.56 -2.12 2.12 
C -1.56 2.68 -0.8 3 0 3 
z
" transform="translate(55.82 545.99)" style="fill: #ff7f0e; stroke: #ff7f0e"/>
<path d="M 0 3 
C 0.8 3 1.56 2.68 2.12 2.12 
C 2.68 1.56 3 0.8 3 0 
C 3 -0.8 2.68 -1.56 2.12 -2.12 
C 1.56 -2.68 0.8 -3 0 -3 
C -0.8 -3 -1.56 -2.68 -2.12 -2.12 
C -2.68 -1.56 -3 -0.8 -3 0 
C -3 0.8 -2.68 1.56 -2.12 2.12 
C -1.56 2.68 -0.8 3 0 3 
z
" transform="translate(84.48 537.66)" style="fill: #ff7f0e; stroke: #ff7f0e"/>
<path d="M 0 3 
C 0.8 3 1.56 2.68 2.12 2.12 
C 2.68 1.56 3 0.8 3 0 
C 3 -0.8 2.68 -1.56 2.12 -2.12 
C 1.56 -2.68 0.8 -3 0 -3 
C -0.8 -3 -1.56 -2.68 -2.12 -2.12 
C -2.68 -1.56 -3 -0.8 -3 0 
C -3 0.8 -2.68 1.56 -2.12 2.12 
C -1.56 2.68 -0.8 3 0 3 
z
" transform="translate(106.9 515.38)" style="fill: #ff7f0e; stroke: #ff7f0e"/>
<path d="M 0 3 
C 0.8 3 1.56 2.68 2.12 2.12 
C 2.68 1.56 3 0.8 3 0 
C 3 -0.8 2.68 -1.56 2.12 -2.12 
C 1.56 -2.68 0.8 -3 0 -3 
C -0.8 -3 -1.56 -2.68 -2.12 -2.12 
C -2.68 -1.56 -3 -0.8 -3 0 
C -3 0.8 -2.68 1.56 -2.12 2.12 
C -1.56 2.68 -0.8 3 0 3 
z
" transform="translate(120.61 490.38)" style="fill: #ff7f0e; stroke: #ff7f0e"/>
<path d="M 0 3 
C 0.8 3 1.56 2.68 2.12 2.12 
C 2.68 1.56 3 0.8 3 0 
C 3 -0.8 2.68 -1.56 2.12 -2.12 
C 1.56 -2.68 0.8 -3 0 -3 
C -0.8 -3 -1.56 -2.68 -2.12 -2.12 
C -2.68 -1.56 -3 -0.8 -3 0 
C -3 0.8 -2.68 1.56 -2.12 2.12 
C -1.56 2.68 -0.8 3 0 3 
z
" transform="translate(133.07 462.68)" style="fill: #ff7f0e; stroke: #ff7f0e"/>
<path d="M 0 3 
C 0.8 3 1.56 2.68 2.12 2.12 
C 2.68 1.56 3 0.8 3 0 
C 3 -0.8 2.68 -1.56 2.12 -2.12 
C 1.56 -2.68 0.8 -3 0 -3 
C -0.8 -3 -1.56 -2.68 -2.12 -2.12 
C -2.68 -1.56 -3 -0.8 -3 0 
C -3 0.8 -2.68 1.56 -2.12 2.12 
C -1.56 2.68 -0.8 3 0 3 
z
" transform="translate(148.02 434.84)" style="fill: #ff7f0e; stroke: #ff7f0e"/>
<path d="M 0 3 
C 0.8 3 1.56 2.68 2.12 2.12 
C 2.68 1.56 3 0.8 3 0 
C 3 -0.8 2.68 -1.56 2.12 -2.12 
C 1.56 -2.68 0.8 -3 0 -3 
C -0.8 -3 -1.56 -2.68 -2.12 -2.12 
C -2.68 -1.56 -3 -0.8 -3 0 
C -3 0.8 -2.68 1.56 -2.12 2.12 
C -1.56 2.68 -0.8 3 0 3 
z
" transform="translate(174.18 421.7)" style="fill: #ff7f0e; stroke: #ff7f0e"/>
<path d="M 0 3 
C 0.8 3 1.56 2.68 2.12 2.12 
C 2.68 1.56 3 0.8 3 0 
C 3 -0.8 2.68 -1.56 2.12 -2.12 
C 1.56 -2.68 0.8 -3 0 -3 
C -0.8 -3 -1.56 -2.68 -2.12 -2.12 
C -2.68 -1.56 -3 -0.8 -3 0 
C -3 0.8 -2.68 1.56 -2.12 2.12 
C -1.56 2.68 -0.8 3 0 3 
z
" transform="translate(205.33 421.58)" style="fill: #ff7f0e; stroke: #ff7f0e"/>
<path d="M 0 3 
C 0.8 3 1.56 2.68 2.12 2.12 
C 2.68 1.56 3 0.8 3 0 
C 3 -0.8 2.68 -1.56 2.12 -2.12 
C 1.56 -2.68 0.8 -3 0 -3 
C -0.8 -3 -1.56 -2.68 -2.12 -2.12 
C -2.68 -1.56 -3 -0.8 -3 0 
C -3 0.8 -2.68 1.56 -2.12 2.12 
C -1.56 2.68 -0.8 3 0 3 
z
" transform="translate(235.23 421.58)" style="fill: #ff7f0e; stroke: #ff7f0e"/>
<path d="M 0 3 
C 0.8 3 1.56 2.68 2.12 2.12 
C 2.68 1.56 3 0.8 3 0 
C 3 -0.8 2.68 -1.56 2.12 -2.12 
C 1.56 -2.68 0.8 -3 0 -3 
C -0.8 -3 -1.56 -2.68 -2.12 -2.12 
C -2.68 -1.56 -3 -0.8 -3 0 
C -3 0.8 -2.68 1.56 -2.12 2.12 
C -1.56 2.68 -0.8 3 0 3 
z
" transform="translate(266.37 421.58)" style="fill: #ff7f0e; stroke: #ff7f0e"/>
<path d="M 0 3 
C 0.8 3 1.56 2.68 2.12 2.12 
C 2.68 1.56 3 0.8 3 0 
C 3 -0.8 2.68 -1.56 2.12 -2.12 
C 1.56 -2.68 0.8 -3 0 -3 
C -0.8 -3 -1.56 -2.68 -2.12 -2.12 
C -2.68 -1.56 -3 -0.8 -3 0 
C -3 0.8 -2.68 1.56 -2.12 2.12 
C -1.56 2.68 -0.8 3 0 3 
z
" transform="translate(297.52 421.58)" style="fill: #ff7f0e; stroke: #ff7f0e"/>
</g>
</g>
<g id="line2d_251">
<path d="M 55.82 546.09 
L 59.56 545.42 
L 63.3 544.53 
L 67.04 543.38 
L 70.77 541.91 
L 74.51 540.11 
L 77 538.7 
L 79.5 537.11 
L 81.99 535.35 
L 85.72 532.37 
L 89.46 528.98 
L 93.2 525.19 
L 96.94 521.03 
L 100.67 516.54 
L 105.66 510.11 
L 110.64 503.3 
L 119.36 490.91 
L 128.08 478.6 
L 133.07 471.88 
L 138.05 465.52 
L 143.03 459.6 
L 146.77 455.48 
L 150.51 451.65 
L 154.25 448.12 
L 157.98 444.89 
L 161.72 441.96 
L 165.46 439.32 
L 169.2 436.95 
L 172.93 434.84 
L 176.67 432.97 
L 180.41 431.32 
L 184.15 429.88 
L 189.13 428.25 
L 194.11 426.9 
L 199.1 425.8 
L 204.08 424.91 
L 210.31 424.03 
L 216.54 423.37 
L 224.01 422.8 
L 232.73 422.35 
L 243.95 422 
L 258.9 421.76 
L 283.81 421.62 
L 303.75 421.6 
L 303.75 421.6 
" clip-path="url(#p84d23c96f6)" style="fill: none; stroke-dasharray: 9.6,2.4,1.5,2.4; stroke-dashoffset: 0; stroke: #2ca02c; stroke-width: 1.73"/>
<g clip-path="url(#p84d23c96f6)">
<path d="M -3 3 
L 3 3 
L 3 -3 
L -3 -3 
z
" transform="translate(55.82 546.09)" style="fill: #2ca02c; stroke: #2ca02c; stroke-linejoin: miter"/>
<path d="M -3 3 
L 3 3 
L 3 -3 
L -3 -3 
z
" transform="translate(83.23 534.4)" style="fill: #2ca02c; stroke: #2ca02c; stroke-linejoin: miter"/>
<path d="M -3 3 
L 3 3 
L 3 -3 
L -3 -3 
z
" transform="translate(104.41 511.76)" style="fill: #2ca02c; stroke: #2ca02c; stroke-linejoin: miter"/>
<path d="M -3 3 
L 3 3 
L 3 -3 
L -3 -3 
z
" transform="translate(121.85 487.35)" style="fill: #2ca02c; stroke: #2ca02c; stroke-linejoin: miter"/>
<path d="M -3 3 
L 3 3 
L 3 -3 
L -3 -3 
z
" transform="translate(140.54 462.5)" style="fill: #2ca02c; stroke: #2ca02c; stroke-linejoin: miter"/>
<path d="M -3 3 
L 3 3 
L 3 -3 
L -3 -3 
z
" transform="translate(162.97 441.05)" style="fill: #2ca02c; stroke: #2ca02c; stroke-linejoin: miter"/>
<path d="M -3 3 
L 3 3 
L 3 -3 
L -3 -3 
z
" transform="translate(190.38 427.89)" style="fill: #2ca02c; stroke: #2ca02c; stroke-linejoin: miter"/>
<path d="M -3 3 
L 3 3 
L 3 -3 
L -3 -3 
z
" transform="translate(220.28 423.06)" style="fill: #2ca02c; stroke: #2ca02c; stroke-linejoin: miter"/>
<path d="M -3 3 
L 3 3 
L 3 -3 
L -3 -3 
z
" transform="translate(250.18 421.88)" style="fill: #2ca02c; stroke: #2ca02c; stroke-linejoin: miter"/>
<path d="M -3 3 
L 3 3 
L 3 -3 
L -3 -3 
z
" transform="translate(281.32 421.63)" style="fill: #2ca02c; stroke: #2ca02c; stroke-linejoin: miter"/>
</g>
</g>
<g id="patch_27">
<path d="M 43.43 553.86 
L 43.43 415.29 
" style="fill: none; stroke: #000000; stroke-width: 0.92; stroke-linejoin: miter; stroke-linecap: square"/>
</g>
<g id="patch_28">
<path d="M 316.14 553.86 
L 316.14 415.29 
" style="fill: none; stroke: #000000; stroke-width: 0.92; stroke-linejoin: miter; stroke-linecap: square"/>
</g>
<g id="patch_29">
<path d="M 43.43 553.86 
L 316.14 553.86 
" style="fill: none; stroke: #000000; stroke-width: 0.92; stroke-linejoin: miter; stroke-linecap: square"/>
</g>
<g id="patch_30">
<path d="M 43.43 415.29 
L 316.14 415.29 
" style="fill: none; stroke: #000000; stroke-width: 0.92; stroke-linejoin: miter; stroke-linecap: square"/>
</g>
<g id="line2d_252">
<g clip-path="url(#p84d23c96f6)">
<path d="M -4 4 
L 4 -4 
M -4 -4 
L 4 4 
" transform="translate(55.82 547.56)" style="stroke: #000000; stroke-width: 1.26"/>
<path d="M -4 4 
L 4 -4 
M -4 -4 
L 4 4 
" transform="translate(78.89 540)" style="stroke: #000000; stroke-width: 1.26"/>
<path d="M -4 4 
L 4 -4 
M -4 -4 
L 4 4 
" transform="translate(125.01 480.79)" style="stroke: #000000; stroke-width: 1.26"/>
<path d="M -4 4 
L 4 -4 
M -4 -4 
L 4 4 
" transform="translate(182.67 433.43)" style="stroke: #000000; stroke-width: 1.26"/>
<path d="M -4 4 
L 4 -4 
M -4 -4 
L 4 4 
" transform="translate(257.62 425.36)" style="stroke: #000000; stroke-width: 1.26"/>
<path d="M -4 4 
L 4 -4 
M -4 -4 
L 4 4 
" transform="translate(303.75 421.58)" style="stroke: #000000; stroke-width: 1.26"/>
</g>
</g>
<g id="text_88">
<text style="font-size: 12px; font-family: 'DejaVu Sans', 'Liberation Sans', sans-serif; text-anchor: middle" x="179.79" y="409.29">Coke</text>
</g>
<g id="legend_5">
<g id="patch_31">
<path d="M 220.63 548.86 
L 309.14 548.86 
Q 311.14 548.86 311.14 546.86 
L 311.14 489.14 
Q 311.14 487.14 309.14 487.14 
L 220.63 487.14 
Q 218.63 487.14 218.63 489.14 
L 218.63 546.86 
Q 218.63 548.86 220.63 548.86 
z
" style="fill: #ffffff; opacity: 0.8; stroke: #cccccc; stroke-linejoin: miter"/>
</g>
<g id="line2d_253">
<g>
<path d="M -4 4 
L 4 -4 
M -4 -4 
L 4 4 
" transform="translate(232.63 495.24)" style="stroke: #000000; stroke-width: 1.26"/>
</g>
</g>
<g id="text_89">
<text style="font-size: 10px; font-family: 'DejaVu Sans', 'Liberation Sans', sans-serif; text-anchor: start" x="250.63" y="498.74">Real</text>
</g>
<g id="line2d_254">
<path d="M 222.63 509.92 
L 232.63 509.92 
L 242.63 509.92 
" style="fill: none; stroke-dasharray: 9.6,2.4,1.5,2.4; stroke-dashoffset: 0; stroke: #1f77b4; stroke-width: 1.73"/>
<g>
<path d="M 0 -3 
L -3 3 
L 3 3 
z
" transform="translate(232.63 509.92)" style="fill: #1f77b4; stroke: #1f77b4; stroke-linejoin: miter"/>
</g>
</g>
<g id="text_90">
<text style="font-size: 10px; font-family: 'DejaVu Sans', 'Liberation Sans', sans-serif; text-anchor: start" x="250.63" y="513.42">GGS</text>
</g>
<g id="line2d_255">
<path d="M 222.63 524.6 
L 232.63 524.6 
L 242.63 524.6 
" style="fill: none; stroke-dasharray: 9.6,2.4,1.5,2.4; stroke-dashoffset: 0; stroke: #ff7f0e; stroke-width: 1.73"/>
<g>
<path d="M 0 3 
C 0.8 3 1.56 2.68 2.12 2.12 
C 2.68 1.56 3 0.8 3 0 
C 3 -0.8 2.68 -1.56 2.12 -2.12 
C 1.56 -2.68 0.8 -3 0 -3 
C -0.8 -3 -1.56 -2.68 -2.12 -2.12 
C -2.68 -1.56 -3 -0.8 -3 0 
C -3 0.8 -2.68 1.56 -2.12 2.12 
C -1.56 2.68 -0.8 3 0 3 
z
" transform="translate(232.63 524.6)" style="fill: #ff7f0e; stroke: #ff7f0e"/>
</g>
</g>
<g id="text_91">
<text style="font-size: 10px; font-family: 'DejaVu Sans', 'Liberation Sans', sans-serif; text-anchor: start" x="250.63" y="528.1">RRSB</text>
</g>
<g id="line2d_256">
<path d="M 222.63 539.28 
L 232.63 539.28 
L 242.63 539.28 
" style="fill: none; stroke-dasharray: 9.6,2.4,1.5,2.4; stroke-dashoffset: 0; stroke: #2ca02c; stroke-width: 1.73"/>
<g>
<path d="M -3 3 
L 3 3 
L 3 -3 
L -3 -3 
z
" transform="translate(232.63 539.28)" style="fill: #2ca02c; stroke: #2ca02c; stroke-linejoin: miter"/>
</g>
</g>
<g id="text_92">
<text style="font-size: 10px; font-family: 'DejaVu Sans', 'Liberation Sans', sans-serif; text-anchor: start" x="250.63" y="542.78">Log-normal</text>
</g>
</g>
</g>
<g id="axes_6">
<g id="patch_32">
<path d="M 363.43 553.86 
L 636.43 553.86 
L 636.43 415.29 
L 363.43 415.29 
z
" style="fill: #ffffff"/>
</g>
<g id="matplotlib.axis_11">
<g id="xtick_54">
<g id="line2d_257">
<path d="M 368.54 553.86 
L 368.54 415.29 
" clip-path="url(#p877b58479d)" style="fill: none; stroke: #b0b0b0; stroke-width: 0.92; stroke-linecap: square"/>
</g>
<g id="line2d_258">
<g>
<path d="M 0 0 
L 0 3.5 
" transform="translate(368.54 553.86)" style="stroke: #000000; stroke-width: 0.92"/>
</g>
</g>
<g id="text_93">
<text style="font-size: 10px; font-family: 'DejaVu Sans', 'Liberation Sans', sans-serif; text-anchor: middle" x="368.54" y="568.46">0.0</text>
</g>
</g>
<g id="xtick_55">
<g id="line2d_259">
<path d="M 409.09 553.86 
L 409.09 415.29 
" clip-path="url(#p877b58479d)" style="fill: none; stroke: #b0b0b0; stroke-width: 0.92; stroke-linecap: square"/>
</g>
<g id="line2d_260">
<g>
<path d="M 0 0 
L 0 3.5 
" transform="translate(409.09 553.86)" style="stroke: #000000; stroke-width: 0.92"/>
</g>
</g>
<g id="text_94">
<text style="font-size: 10px; font-family: 'DejaVu Sans', 'Liberation Sans', sans-serif; text-anchor: middle" x="409.09" y="568.46">0.5</text>
</g>
</g>
<g id="xtick_56">
<g id="line2d_261">
<path d="M 449.64 553.86 
L 449.64 415.29 
" clip-path="url(#p877b58479d)" style="fill: none; stroke: #b0b0b0; stroke-width: 0.92; stroke-linecap: square"/>
</g>
<g id="line2d_262">
<g>
<path d="M 0 0 
L 0 3.5 
" transform="translate(449.64 553.86)" style="stroke: #000000; stroke-width: 0.92"/>
</g>
</g>
<g id="text_95">
<text style="font-size: 10px; font-family: 'DejaVu Sans', 'Liberation Sans', sans-serif; text-anchor: middle" x="449.64" y="568.46">1.0</text>
</g>
</g>
<g id="xtick_57">
<g id="line2d_263">
<path d="M 490.2 553.86 
L 490.2 415.29 
" clip-path="url(#p877b58479d)" style="fill: none; stroke: #b0b0b0; stroke-width: 0.92; stroke-linecap: square"/>
</g>
<g id="line2d_264">
<g>
<path d="M 0 0 
L 0 3.5 
" transform="translate(490.2 553.86)" style="stroke: #000000; stroke-width: 0.92"/>
</g>
</g>
<g id="text_96">
<text style="font-size: 10px; font-family: 'DejaVu Sans', 'Liberation Sans', sans-serif; text-anchor: middle" x="490.2" y="568.46">1.5</text>
</g>
</g>
<g id="xtick_58">
<g id="line2d_265">
<path d="M 530.75 553.86 
L 530.75 415.29 
" clip-path="url(#p877b58479d)" style="fill: none; stroke: #b0b0b0; stroke-width: 0.92; stroke-linecap: square"/>
</g>
<g id="line2d_266">
<g>
<path d="M 0 0 
L 0 3.5 
" transform="translate(530.75 553.86)" style="stroke: #000000; stroke-width: 0.92"/>
</g>
</g>
<g id="text_97">
<text style="font-size: 10px; font-family: 'DejaVu Sans', 'Liberation Sans', sans-serif; text-anchor: middle" x="530.75" y="568.46">2.0</text>
</g>
</g>
<g id="xtick_59">
<g id="line2d_267">
<path d="M 571.3 553.86 
L 571.3 415.29 
" clip-path="url(#p877b58479d)" style="fill: none; stroke: #b0b0b0; stroke-width: 0.92; stroke-linecap: square"/>
</g>
<g id="line2d_268">
<g>
<path d="M 0 0 
L 0 3.5 
" transform="translate(571.3 553.86)" style="stroke: #000000; stroke-width: 0.92"/>
</g>
</g>
<g id="text_98">
<text style="font-size: 10px; font-family: 'DejaVu Sans', 'Liberation Sans', sans-serif; text-anchor: middle" x="571.3" y="568.46">2.5</text>
</g>
</g>
<g id="xtick_60">
<g id="line2d_269">
<path d="M 611.85 553.86 
L 611.85 415.29 
" clip-path="url(#p877b58479d)" style="fill: none; stroke: #b0b0b0; stroke-width: 0.92; stroke-linecap: square"/>
</g>
<g id="line2d_270">
<g>
<path d="M 0 0 
L 0 3.5 
" transform="translate(611.85 553.86)" style="stroke: #000000; stroke-width: 0.92"/>
</g>
</g>
<g id="text_99">
<text style="font-size: 10px; font-family: 'DejaVu Sans', 'Liberation Sans', sans-serif; text-anchor: middle" x="611.85" y="568.46">3.0</text>
</g>
</g>
<g id="xtick_61">
<g id="line2d_271">
<path d="M 388.81 553.86 
L 388.81 415.29 
" clip-path="url(#p877b58479d)" style="fill: none; stroke: #b0b0b0; stroke-opacity: 0.3; stroke-width: 0.92; stroke-linecap: square"/>
</g>
<g id="line2d_272">
<g>
<path d="M 0 0 
L 0 2 
" transform="translate(388.81 553.86)" style="stroke: #000000; stroke-width: 0.69"/>
</g>
</g>
</g>
<g id="xtick_62">
<g id="line2d_273">
<path d="M 429.37 553.86 
L 429.37 415.29 
" clip-path="url(#p877b58479d)" style="fill: none; stroke: #b0b0b0; stroke-opacity: 0.3; stroke-width: 0.92; stroke-linecap: square"/>
</g>
<g id="line2d_274">
<g>
<path d="M 0 0 
L 0 2 
" transform="translate(429.37 553.86)" style="stroke: #000000; stroke-width: 0.69"/>
</g>
</g>
</g>
<g id="xtick_63">
<g id="line2d_275">
<path d="M 469.92 553.86 
L 469.92 415.29 
" clip-path="url(#p877b58479d)" style="fill: none; stroke: #b0b0b0; stroke-opacity: 0.3; stroke-width: 0.92; stroke-linecap: square"/>
</g>
<g id="line2d_276">
<g>
<path d="M 0 0 
L 0 2 
" transform="translate(469.92 553.86)" style="stroke: #000000; stroke-width: 0.69"/>
</g>
</g>
</g>
<g id="xtick_64">
<g id="line2d_277">
<path d="M 510.47 553.86 
L 510.47 415.29 
" clip-path="url(#p877b58479d)" style="fill: none; stroke: #b0b0b0; stroke-opacity: 0.3; stroke-width: 0.92; stroke-linecap: square"/>
</g>
<g id="line2d_278">
<g>
<path d="M 0 0 
L 0 2 
" transform="translate(510.47 553.86)" style="stroke: #000000; stroke-width: 0.69"/>
</g>
</g>
</g>
<g id="xtick_65">
<g id="line2d_279">
<path d="M 551.02 553.86 
L 551.02 415.29 
" clip-path="url(#p877b58479d)" style="fill: none; stroke: #b0b0b0; stroke-opacity: 0.3; stroke-width: 0.92; stroke-linecap: square"/>
</g>
<g id="line2d_280">
<g>
<path d="M 0 0 
L 0 2 
" transform="translate(551.02 553.86)" style="stroke: #000000; stroke-width: 0.69"/>
</g>
</g>
</g>
<g id="xtick_66">
<g id="line2d_281">
<path d="M 591.58 553.86 
L 591.58 415.29 
" clip-path="url(#p877b58479d)" style="fill: none; stroke: #b0b0b0; stroke-opacity: 0.3; stroke-width: 0.92; stroke-linecap: square"/>
</g>
<g id="line2d_282">
<g>
<path d="M 0 0 
L 0 2 
" transform="translate(591.58 553.86)" style="stroke: #000000; stroke-width: 0.69"/>
</g>
</g>
</g>
<g id="xtick_67">
<g id="line2d_283">
<path d="M 632.13 553.86 
L 632.13 415.29 
" clip-path="url(#p877b58479d)" style="fill: none; stroke: #b0b0b0; stroke-opacity: 0.3; stroke-width: 0.92; stroke-linecap: square"/>
</g>
<g id="line2d_284">
<g>
<path d="M 0 0 
L 0 2 
" transform="translate(632.13 553.86)" style="stroke: #000000; stroke-width: 0.69"/>
</g>
</g>
</g>
<g id="text_100">
<text style="font-size: 10px; font-family: 'DejaVu Sans', 'Liberation Sans', sans-serif; text-anchor: middle" x="499.93" y="582.13">Particle size [mm]</text>
</g>
</g>
<g id="matplotlib.axis_12">
<g id="ytick_56">
<g id="line2d_285">
<path d="M 363.43 551.32 
L 636.43 551.32 
" clip-path="url(#p877b58479d)" style="fill: none; stroke: #b0b0b0; stroke-width: 0.92; stroke-linecap: square"/>
</g>
<g id="line2d_286">
<g>
<path d="M 0 0 
L -3.5 0 
" transform="translate(363.43 551.32)" style="stroke: #000000; stroke-width: 0.92"/>
</g>
</g>
<g id="text_101">
<text style="font-size: 10px; font-family: 'DejaVu Sans', 'Liberation Sans', sans-serif; text-anchor: end" x="356.43" y="555.12">0.0</text>
</g>
</g>
<g id="ytick_57">
<g id="line2d_287">
<path d="M 363.43 525.38 
L 636.43 525.38 
" clip-path="url(#p877b58479d)" style="fill: none; stroke: #b0b0b0; stroke-width: 0.92; stroke-linecap: square"/>
</g>
<g id="line2d_288">
<g>
<path d="M 0 0 
L -3.5 0 
" transform="translate(363.43 525.38)" style="stroke: #000000; stroke-width: 0.92"/>
</g>
</g>
<g id="text_102">
<text style="font-size: 10px; font-family: 'DejaVu Sans', 'Liberation Sans', sans-serif; text-anchor: end" x="356.43" y="529.18">0.2</text>
</g>
</g>
<g id="ytick_58">
<g id="line2d_289">
<path d="M 363.43 499.43 
L 636.43 499.43 
" clip-path="url(#p877b58479d)" style="fill: none; stroke: #b0b0b0; stroke-width: 0.92; stroke-linecap: square"/>
</g>
<g id="line2d_290">
<g>
<path d="M 0 0 
L -3.5 0 
" transform="translate(363.43 499.43)" style="stroke: #000000; stroke-width: 0.92"/>
</g>
</g>
<g id="text_103">
<text style="font-size: 10px; font-family: 'DejaVu Sans', 'Liberation Sans', sans-serif; text-anchor: end" x="356.43" y="503.23">0.4</text>
</g>
</g>
<g id="ytick_59">
<g id="line2d_291">
<path d="M 363.43 473.48 
L 636.43 473.48 
" clip-path="url(#p877b58479d)" style="fill: none; stroke: #b0b0b0; stroke-width: 0.92; stroke-linecap: square"/>
</g>
<g id="line2d_292">
<g>
<path d="M 0 0 
L -3.5 0 
" transform="translate(363.43 473.48)" style="stroke: #000000; stroke-width: 0.92"/>
</g>
</g>
<g id="text_104">
<text style="font-size: 10px; font-family: 'DejaVu Sans', 'Liberation Sans', sans-serif; text-anchor: end" x="356.43" y="477.28">0.6</text>
</g>
</g>
<g id="ytick_60">
<g id="line2d_293">
<path d="M 363.43 447.53 
L 636.43 447.53 
" clip-path="url(#p877b58479d)" style="fill: none; stroke: #b0b0b0; stroke-width: 0.92; stroke-linecap: square"/>
</g>
<g id="line2d_294">
<g>
<path d="M 0 0 
L -3.5 0 
" transform="translate(363.43 447.53)" style="stroke: #000000; stroke-width: 0.92"/>
</g>
</g>
<g id="text_105">
<text style="font-size: 10px; font-family: 'DejaVu Sans', 'Liberation Sans', sans-serif; text-anchor: end" x="356.43" y="451.33">0.8</text>
</g>
</g>
<g id="ytick_61">
<g id="line2d_295">
<path d="M 363.43 421.58 
L 636.43 421.58 
" clip-path="url(#p877b58479d)" style="fill: none; stroke: #b0b0b0; stroke-width: 0.92; stroke-linecap: square"/>
</g>
<g id="line2d_296">
<g>
<path d="M 0 0 
L -3.5 0 
" transform="translate(363.43 421.58)" style="stroke: #000000; stroke-width: 0.92"/>
</g>
</g>
<g id="text_106">
<text style="font-size: 10px; font-family: 'DejaVu Sans', 'Liberation Sans', sans-serif; text-anchor: end" x="356.43" y="425.38">1.0</text>
</g>
</g>
<g id="ytick_62">
<g id="line2d_297">
<path d="M 363.43 538.35 
L 636.43 538.35 
" clip-path="url(#p877b58479d)" style="fill: none; stroke: #b0b0b0; stroke-opacity: 0.3; stroke-width: 0.92; stroke-linecap: square"/>
</g>
<g id="line2d_298">
<g>
<path d="M 0 0 
L -2 0 
" transform="translate(363.43 538.35)" style="stroke: #000000; stroke-width: 0.69"/>
</g>
</g>
</g>
<g id="ytick_63">
<g id="line2d_299">
<path d="M 363.43 512.4 
L 636.43 512.4 
" clip-path="url(#p877b58479d)" style="fill: none; stroke: #b0b0b0; stroke-opacity: 0.3; stroke-width: 0.92; stroke-linecap: square"/>
</g>
<g id="line2d_300">
<g>
<path d="M 0 0 
L -2 0 
" transform="translate(363.43 512.4)" style="stroke: #000000; stroke-width: 0.69"/>
</g>
</g>
</g>
<g id="ytick_64">
<g id="line2d_301">
<path d="M 363.43 486.45 
L 636.43 486.45 
" clip-path="url(#p877b58479d)" style="fill: none; stroke: #b0b0b0; stroke-opacity: 0.3; stroke-width: 0.92; stroke-linecap: square"/>
</g>
<g id="line2d_302">
<g>
<path d="M 0 0 
L -2 0 
" transform="translate(363.43 486.45)" style="stroke: #000000; stroke-width: 0.69"/>
</g>
</g>
</g>
<g id="ytick_65">
<g id="line2d_303">
<path d="M 363.43 460.51 
L 636.43 460.51 
" clip-path="url(#p877b58479d)" style="fill: none; stroke: #b0b0b0; stroke-opacity: 0.3; stroke-width: 0.92; stroke-linecap: square"/>
</g>
<g id="line2d_304">
<g>
<path d="M 0 0 
L -2 0 
" transform="translate(363.43 460.51)" style="stroke: #000000; stroke-width: 0.69"/>
</g>
</g>
</g>
<g id="ytick_66">
<g id="line2d_305">
<path d="M 363.43 434.56 
L 636.43 434.56 
" clip-path="url(#p877b58479d)" style="fill: none; stroke: #b0b0b0; stroke-opacity: 0.3; stroke-width: 0.92; stroke-linecap: square"/>
</g>
<g id="line2d_306">
<g>
<path d="M 0 0 
L -2 0 
" transform="translate(363.43 434.56)" style="stroke: #000000; stroke-width: 0.69"/>
</g>
</g>
</g>
<g id="text_107">
<text style="font-size: 10px; font-family: 'DejaVu Sans', 'Liberation Sans', sans-serif; text-anchor: middle" x="334.45" y="484.57" transform="rotate(-90 334.45 484.57)">Cumulated mass [%]</text>
</g>
</g>
<g id="line2d_307">
<path d="M 375.84 513.02 
L 378.33 508.96 
L 380.83 505.53 
L 383.32 502.53 
L 385.81 499.85 
L 389.56 496.26 
L 393.3 493.08 
L 397.04 490.2 
L 400.78 487.56 
L 405.77 484.33 
L 410.76 481.37 
L 416.99 477.99 
L 423.23 474.88 
L 429.46 471.99 
L 436.95 468.78 
L 444.43 465.78 
L 453.16 462.53 
L 463.14 459.06 
L 473.11 455.83 
L 484.34 452.43 
L 496.81 448.9 
L 510.53 445.27 
L 525.5 441.56 
L 540.46 438.07 
L 556.67 434.52 
L 574.13 430.9 
L 592.84 427.25 
L 614.04 423.35 
L 624.02 421.58 
L 624.02 421.58 
" clip-path="url(#p877b58479d)" style="fill: none; stroke-dasharray: 9.6,2.4,1.5,2.4; stroke-dashoffset: 0; stroke: #1f77b4; stroke-width: 1.73"/>
<g clip-path="url(#p877b58479d)">
<path d="M 0 -3 
L -3 3 
L 3 3 
z
" transform="translate(375.84 513.02)" style="fill: #1f77b4; stroke: #1f77b4; stroke-linejoin: miter"/>
<path d="M 0 -3 
L -3 3 
L 3 3 
z
" transform="translate(397.04 490.2)" style="fill: #1f77b4; stroke: #1f77b4; stroke-linejoin: miter"/>
<path d="M 0 -3 
L -3 3 
L 3 3 
z
" transform="translate(423.23 474.88)" style="fill: #1f77b4; stroke: #1f77b4; stroke-linejoin: miter"/>
<path d="M 0 -3 
L -3 3 
L 3 3 
z
" transform="translate(450.67 463.43)" style="fill: #1f77b4; stroke: #1f77b4; stroke-linejoin: miter"/>
<path d="M 0 -3 
L -3 3 
L 3 3 
z
" transform="translate(480.6 453.54)" style="fill: #1f77b4; stroke: #1f77b4; stroke-linejoin: miter"/>
<path d="M 0 -3 
L -3 3 
L 3 3 
z
" transform="translate(509.28 445.59)" style="fill: #1f77b4; stroke: #1f77b4; stroke-linejoin: miter"/>
<path d="M 0 -3 
L -3 3 
L 3 3 
z
" transform="translate(539.21 438.36)" style="fill: #1f77b4; stroke: #1f77b4; stroke-linejoin: miter"/>
<path d="M 0 -3 
L -3 3 
L 3 3 
z
" transform="translate(569.15 431.91)" style="fill: #1f77b4; stroke: #1f77b4; stroke-linejoin: miter"/>
<path d="M 0 -3 
L -3 3 
L 3 3 
z
" transform="translate(599.08 426.08)" style="fill: #1f77b4; stroke: #1f77b4; stroke-linejoin: miter"/>
</g>
</g>
<g id="line2d_308">
<path d="M 375.84 542.05 
L 378.33 537.53 
L 382.07 530.2 
L 388.31 517.31 
L 395.79 501.94 
L 400.78 492.23 
L 404.52 485.37 
L 408.26 478.91 
L 412 472.88 
L 415.75 467.3 
L 419.49 462.17 
L 423.23 457.49 
L 426.97 453.23 
L 430.71 449.38 
L 434.45 445.92 
L 438.19 442.82 
L 441.94 440.06 
L 445.68 437.62 
L 449.42 435.45 
L 453.16 433.54 
L 456.9 431.87 
L 460.64 430.41 
L 465.63 428.75 
L 470.62 427.37 
L 475.61 426.24 
L 480.6 425.32 
L 486.83 424.4 
L 493.07 423.69 
L 500.55 423.06 
L 509.28 422.55 
L 520.51 422.13 
L 535.47 421.84 
L 556.67 421.66 
L 599.08 421.59 
L 624.02 421.59 
L 624.02 421.59 
" clip-path="url(#p877b58479d)" style="fill: none; stroke-dasharray: 9.6,2.4,1.5,2.4; stroke-dashoffset: 0; stroke: #ff7f0e; stroke-width: 1.73"/>
<g clip-path="url(#p877b58479d)">
<path d="M 0 3 
C 0.8 3 1.56 2.68 2.12 2.12 
C 2.68 1.56 3 0.8 3 0 
C 3 -0.8 2.68 -1.56 2.12 -2.12 
C 1.56 -2.68 0.8 -3 0 -3 
C -0.8 -3 -1.56 -2.68 -2.12 -2.12 
C -2.68 -1.56 -3 -0.8 -3 0 
C -3 0.8 -2.68 1.56 -2.12 2.12 
C -1.56 2.68 -0.8 3 0 3 
z
" transform="translate(375.84 542.05)" style="fill: #ff7f0e; stroke: #ff7f0e"/>
<path d="M 0 3 
C 0.8 3 1.56 2.68 2.12 2.12 
C 2.68 1.56 3 0.8 3 0 
C 3 -0.8 2.68 -1.56 2.12 -2.12 
C 1.56 -2.68 0.8 -3 0 -3 
C -0.8 -3 -1.56 -2.68 -2.12 -2.12 
C -2.68 -1.56 -3 -0.8 -3 0 
C -3 0.8 -2.68 1.56 -2.12 2.12 
C -1.56 2.68 -0.8 3 0 3 
z
" transform="translate(389.56 514.71)" style="fill: #ff7f0e; stroke: #ff7f0e"/>
<path d="M 0 3 
C 0.8 3 1.56 2.68 2.12 2.12 
C 2.68 1.56 3 0.8 3 0 
C 3 -0.8 2.68 -1.56 2.12 -2.12 
C 1.56 -2.68 0.8 -3 0 -3 
C -0.8 -3 -1.56 -2.68 -2.12 -2.12 
C -2.68 -1.56 -3 -0.8 -3 0 
C -3 0.8 -2.68 1.56 -2.12 2.12 
C -1.56 2.68 -0.8 3 0 3 
z
" transform="translate(403.27 487.61)" style="fill: #ff7f0e; stroke: #ff7f0e"/>
<path d="M 0 3 
C 0.8 3 1.56 2.68 2.12 2.12 
C 2.68 1.56 3 0.8 3 0 
C 3 -0.8 2.68 -1.56 2.12 -2.12 
C 1.56 -2.68 0.8 -3 0 -3 
C -0.8 -3 -1.56 -2.68 -2.12 -2.12 
C -2.68 -1.56 -3 -0.8 -3 0 
C -3 0.8 -2.68 1.56 -2.12 2.12 
C -1.56 2.68 -0.8 3 0 3 
z
" transform="translate(419.49 462.17)" style="fill: #ff7f0e; stroke: #ff7f0e"/>
<path d="M 0 3 
C 0.8 3 1.56 2.68 2.12 2.12 
C 2.68 1.56 3 0.8 3 0 
C 3 -0.8 2.68 -1.56 2.12 -2.12 
C 1.56 -2.68 0.8 -3 0 -3 
C -0.8 -3 -1.56 -2.68 -2.12 -2.12 
C -2.68 -1.56 -3 -0.8 -3 0 
C -3 0.8 -2.68 1.56 -2.12 2.12 
C -1.56 2.68 -0.8 3 0 3 
z
" transform="translate(441.94 440.06)" style="fill: #ff7f0e; stroke: #ff7f0e"/>
<path d="M 0 3 
C 0.8 3 1.56 2.68 2.12 2.12 
C 2.68 1.56 3 0.8 3 0 
C 3 -0.8 2.68 -1.56 2.12 -2.12 
C 1.56 -2.68 0.8 -3 0 -3 
C -0.8 -3 -1.56 -2.68 -2.12 -2.12 
C -2.68 -1.56 -3 -0.8 -3 0 
C -3 0.8 -2.68 1.56 -2.12 2.12 
C -1.56 2.68 -0.8 3 0 3 
z
" transform="translate(469.37 427.69)" style="fill: #ff7f0e; stroke: #ff7f0e"/>
<path d="M 0 3 
C 0.8 3 1.56 2.68 2.12 2.12 
C 2.68 1.56 3 0.8 3 0 
C 3 -0.8 2.68 -1.56 2.12 -2.12 
C 1.56 -2.68 0.8 -3 0 -3 
C -0.8 -3 -1.56 -2.68 -2.12 -2.12 
C -2.68 -1.56 -3 -0.8 -3 0 
C -3 0.8 -2.68 1.56 -2.12 2.12 
C -1.56 2.68 -0.8 3 0 3 
z
" transform="translate(499.3 423.15)" style="fill: #ff7f0e; stroke: #ff7f0e"/>
<path d="M 0 3 
C 0.8 3 1.56 2.68 2.12 2.12 
C 2.68 1.56 3 0.8 3 0 
C 3 -0.8 2.68 -1.56 2.12 -2.12 
C 1.56 -2.68 0.8 -3 0 -3 
C -0.8 -3 -1.56 -2.68 -2.12 -2.12 
C -2.68 -1.56 -3 -0.8 -3 0 
C -3 0.8 -2.68 1.56 -2.12 2.12 
C -1.56 2.68 -0.8 3 0 3 
z
" transform="translate(530.48 421.91)" style="fill: #ff7f0e; stroke: #ff7f0e"/>
<path d="M 0 3 
C 0.8 3 1.56 2.68 2.12 2.12 
C 2.68 1.56 3 0.8 3 0 
C 3 -0.8 2.68 -1.56 2.12 -2.12 
C 1.56 -2.68 0.8 -3 0 -3 
C -0.8 -3 -1.56 -2.68 -2.12 -2.12 
C -2.68 -1.56 -3 -0.8 -3 0 
C -3 0.8 -2.68 1.56 -2.12 2.12 
C -1.56 2.68 -0.8 3 0 3 
z
" transform="translate(560.42 421.65)" style="fill: #ff7f0e; stroke: #ff7f0e"/>
<path d="M 0 3 
C 0.8 3 1.56 2.68 2.12 2.12 
C 2.68 1.56 3 0.8 3 0 
C 3 -0.8 2.68 -1.56 2.12 -2.12 
C 1.56 -2.68 0.8 -3 0 -3 
C -0.8 -3 -1.56 -2.68 -2.12 -2.12 
C -2.68 -1.56 -3 -0.8 -3 0 
C -3 0.8 -2.68 1.56 -2.12 2.12 
C -1.56 2.68 -0.8 3 0 3 
z
" transform="translate(591.59 421.6)" style="fill: #ff7f0e; stroke: #ff7f0e"/>
<path d="M 0 3 
C 0.8 3 1.56 2.68 2.12 2.12 
C 2.68 1.56 3 0.8 3 0 
C 3 -0.8 2.68 -1.56 2.12 -2.12 
C 1.56 -2.68 0.8 -3 0 -3 
C -0.8 -3 -1.56 -2.68 -2.12 -2.12 
C -2.68 -1.56 -3 -0.8 -3 0 
C -3 0.8 -2.68 1.56 -2.12 2.12 
C -1.56 2.68 -0.8 3 0 3 
z
" transform="translate(621.53 421.59)" style="fill: #ff7f0e; stroke: #ff7f0e"/>
</g>
</g>
<g id="line2d_309">
<path d="M 375.84 547.56 
L 377.08 545.5 
L 378.33 543.07 
L 380.83 537.36 
L 383.32 530.94 
L 392.05 507.65 
L 395.79 498.54 
L 398.29 492.92 
L 400.78 487.69 
L 403.27 482.83 
L 405.77 478.34 
L 408.26 474.2 
L 410.76 470.38 
L 413.25 466.86 
L 415.75 463.62 
L 418.24 460.64 
L 420.73 457.9 
L 424.48 454.19 
L 428.22 450.92 
L 431.96 448.01 
L 435.7 445.44 
L 439.44 443.16 
L 443.18 441.13 
L 446.92 439.32 
L 451.91 437.2 
L 456.9 435.38 
L 461.89 433.8 
L 466.88 432.43 
L 473.11 430.97 
L 479.35 429.74 
L 486.83 428.5 
L 494.32 427.48 
L 503.05 426.5 
L 513.02 425.61 
L 524.25 424.83 
L 537.97 424.1 
L 554.18 423.47 
L 574.13 422.94 
L 599.08 422.5 
L 624.02 422.22 
L 624.02 422.22 
" clip-path="url(#p877b58479d)" style="fill: none; stroke-dasharray: 9.6,2.4,1.5,2.4; stroke-dashoffset: 0; stroke: #2ca02c; stroke-width: 1.73"/>
<g clip-path="url(#p877b58479d)">
<path d="M -3 3 
L 3 3 
L 3 -3 
L -3 -3 
z
" transform="translate(375.84 547.56)" style="fill: #2ca02c; stroke: #2ca02c; stroke-linejoin: miter"/>
<path d="M -3 3 
L 3 3 
L 3 -3 
L -3 -3 
z
" transform="translate(387.06 520.82)" style="fill: #2ca02c; stroke: #2ca02c; stroke-linejoin: miter"/>
<path d="M -3 3 
L 3 3 
L 3 -3 
L -3 -3 
z
" transform="translate(399.53 490.26)" style="fill: #2ca02c; stroke: #2ca02c; stroke-linejoin: miter"/>
<path d="M -3 3 
L 3 3 
L 3 -3 
L -3 -3 
z
" transform="translate(414.5 465.21)" style="fill: #2ca02c; stroke: #2ca02c; stroke-linejoin: miter"/>
<path d="M -3 3 
L 3 3 
L 3 -3 
L -3 -3 
z
" transform="translate(436.95 444.65)" style="fill: #2ca02c; stroke: #2ca02c; stroke-linejoin: miter"/>
<path d="M -3 3 
L 3 3 
L 3 -3 
L -3 -3 
z
" transform="translate(465.63 432.76)" style="fill: #2ca02c; stroke: #2ca02c; stroke-linejoin: miter"/>
<path d="M -3 3 
L 3 3 
L 3 -3 
L -3 -3 
z
" transform="translate(495.56 427.32)" style="fill: #2ca02c; stroke: #2ca02c; stroke-linejoin: miter"/>
<path d="M -3 3 
L 3 3 
L 3 -3 
L -3 -3 
z
" transform="translate(526.74 424.68)" style="fill: #2ca02c; stroke: #2ca02c; stroke-linejoin: miter"/>
<path d="M -3 3 
L 3 3 
L 3 -3 
L -3 -3 
z
" transform="translate(556.67 423.4)" style="fill: #2ca02c; stroke: #2ca02c; stroke-linejoin: miter"/>
<path d="M -3 3 
L 3 3 
L 3 -3 
L -3 -3 
z
" transform="translate(587.85 422.67)" style="fill: #2ca02c; stroke: #2ca02c; stroke-linejoin: miter"/>
<path d="M -3 3 
L 3 3 
L 3 -3 
L -3 -3 
z
" transform="translate(617.78 422.28)" style="fill: #2ca02c; stroke: #2ca02c; stroke-linejoin: miter"/>
</g>
</g>
<g id="patch_33">
<path d="M 363.43 553.86 
L 363.43 415.29 
" style="fill: none; stroke: #000000; stroke-width: 0.92; stroke-linejoin: miter; stroke-linecap: square"/>
</g>
<g id="patch_34">
<path d="M 636.43 553.86 
L 636.43 415.29 
" style="fill: none; stroke: #000000; stroke-width: 0.92; stroke-linejoin: miter; stroke-linecap: square"/>
</g>
<g id="patch_35">
<path d="M 363.43 553.86 
L 636.43 553.86 
" style="fill: none; stroke: #000000; stroke-width: 0.92; stroke-linejoin: miter; stroke-linecap: square"/>
</g>
<g id="patch_36">
<path d="M 363.43 415.29 
L 636.43 415.29 
" style="fill: none; stroke: #000000; stroke-width: 0.92; stroke-linejoin: miter; stroke-linecap: square"/>
</g>
<g id="line2d_310">
<g clip-path="url(#p877b58479d)">
<path d="M -4 4 
L 4 -4 
M -4 -4 
L 4 4 
" transform="translate(375.84 546.13)" style="stroke: #000000; stroke-width: 1.26"/>
<path d="M -4 4 
L 4 -4 
M -4 -4 
L 4 4 
" transform="translate(378.68 537.05)" style="stroke: #000000; stroke-width: 1.26"/>
<path d="M -4 4 
L 4 -4 
M -4 -4 
L 4 4 
" transform="translate(388.81 515.9)" style="stroke: #000000; stroke-width: 1.26"/>
<path d="M -4 4 
L 4 -4 
M -4 -4 
L 4 4 
" transform="translate(400.98 490.48)" style="stroke: #000000; stroke-width: 1.26"/>
<path d="M -4 4 
L 4 -4 
M -4 -4 
L 4 4 
" transform="translate(419.63 461.15)" style="stroke: #000000; stroke-width: 1.26"/>
<path d="M -4 4 
L 4 -4 
M -4 -4 
L 4 4 
" transform="translate(433.42 446.49)" style="stroke: #000000; stroke-width: 1.26"/>
<path d="M -4 4 
L 4 -4 
M -4 -4 
L 4 4 
" transform="translate(449.64 437.54)" style="stroke: #000000; stroke-width: 1.26"/>
<path d="M -4 4 
L 4 -4 
M -4 -4 
L 4 4 
" transform="translate(469.92 428.72)" style="stroke: #000000; stroke-width: 1.26"/>
<path d="M -4 4 
L 4 -4 
M -4 -4 
L 4 4 
" transform="translate(498.31 422.49)" style="stroke: #000000; stroke-width: 1.26"/>
<path d="M -4 4 
L 4 -4 
M -4 -4 
L 4 4 
" transform="translate(595.63 421.58)" style="stroke: #000000; stroke-width: 1.26"/>
<path d="M -4 4 
L 4 -4 
M -4 -4 
L 4 4 
" transform="translate(624.02 421.58)" style="stroke: #000000; stroke-width: 1.26"/>
</g>
</g>
<g id="text_108">
<text style="font-size: 12px; font-family: 'DejaVu Sans', 'Liberation Sans', sans-serif; text-anchor: middle" x="499.93" y="409.29">Dry sand</text>
</g>
<g id="legend_6">
<g id="patch_37">
<path d="M 540.92 548.86 
L 629.43 548.86 
Q 631.43 548.86 631.43 546.86 
L 631.43 489.14 
Q 631.43 487.14 629.43 487.14 
L 540.92 487.14 
Q 538.92 487.14 538.92 489.14 
L 538.92 546.86 
Q 538.92 548.86 540.92 548.86 
z
" style="fill: #ffffff; opacity: 0.8; stroke: #cccccc; stroke-linejoin: miter"/>
</g>
<g id="line2d_311">
<g>
<path d="M -4 4 
L 4 -4 
M -4 -4 
L 4 4 
" transform="translate(552.92 495.24)" style="stroke: #000000; stroke-width: 1.26"/>
</g>
</g>
<g id="text_109">
<text style="font-size: 10px; font-family: 'DejaVu Sans', 'Liberation Sans', sans-serif; text-anchor: start" x="570.92" y="498.74">Real</text>
</g>
<g id="line2d_312">
<path d="M 542.92 509.92 
L 552.92 509.92 
L 562.92 509.92 
" style="fill: none; stroke-dasharray: 9.6,2.4,1.5,2.4; stroke-dashoffset: 0; stroke: #1f77b4; stroke-width: 1.73"/>
<g>
<path d="M 0 -3 
L -3 3 
L 3 3 
z
" transform="translate(552.92 509.92)" style="fill: #1f77b4; stroke: #1f77b4; stroke-linejoin: miter"/>
</g>
</g>
<g id="text_110">
<text style="font-size: 10px; font-family: 'DejaVu Sans', 'Liberation Sans', sans-serif; text-anchor: start" x="570.92" y="513.42">GGS</text>
</g>
<g id="line2d_313">
<path d="M 542.92 524.6 
L 552.92 524.6 
L 562.92 524.6 
" style="fill: none; stroke-dasharray: 9.6,2.4,1.5,2.4; stroke-dashoffset: 0; stroke: #ff7f0e; stroke-width: 1.73"/>
<g>
<path d="M 0 3 
C 0.8 3 1.56 2.68 2.12 2.12 
C 2.68 1.56 3 0.8 3 0 
C 3 -0.8 2.68 -1.56 2.12 -2.12 
C 1.56 -2.68 0.8 -3 0 -3 
C -0.8 -3 -1.56 -2.68 -2.12 -2.12 
C -2.68 -1.56 -3 -0.8 -3 0 
C -3 0.8 -2.68 1.56 -2.12 2.12 
C -1.56 2.68 -0.8 3 0 3 
z
" transform="translate(552.92 524.6)" style="fill: #ff7f0e; stroke: #ff7f0e"/>
</g>
</g>
<g id="text_111">
<text style="font-size: 10px; font-family: 'DejaVu Sans', 'Liberation Sans', sans-serif; text-anchor: start" x="570.92" y="528.1">RRSB</text>
</g>
<g id="line2d_314">
<path d="M 542.92 539.28 
L 552.92 539.28 
L 562.92 539.28 
" style="fill: none; stroke-dasharray: 9.6,2.4,1.5,2.4; stroke-dashoffset: 0; stroke: #2ca02c; stroke-width: 1.73"/>
<g>
<path d="M -3 3 
L 3 3 
L 3 -3 
L -3 -3 
z
" transform="translate(552.92 539.28)" style="fill: #2ca02c; stroke: #2ca02c; stroke-linejoin: miter"/>
</g>
</g>
<g id="text_112">
<text style="font-size: 10px; font-family: 'DejaVu Sans', 'Liberation Sans', sans-serif; text-anchor: start" x="570.92" y="542.78">Log-normal</text>
</g>
</g>
</g>
<g id="axes_7">
<g id="patch_38">
<path d="M 43.43 749.86 
L 316.14 749.86 
L 316.14 611.57 
L 43.43 611.57 
z
" style="fill: #ffffff"/>
</g>
<g id="matplotlib.axis_13">
<g id="xtick_68">
<g id="line2d_315">
<path d="M 99.58 749.86 
L 99.58 611.57 
" clip-path="url(#p487bf5fa23)" style="fill: none; stroke: #b0b0b0; stroke-width: 0.92; stroke-linecap: square"/>
</g>
<g id="line2d_316">
<g>
<path d="M 0 0 
L 0 3.5 
" transform="translate(99.58 749.86)" style="stroke: #000000; stroke-width: 0.92"/>
</g>
</g>
<g id="text_113">
<text style="font-size: 10px; font-family: 'DejaVu Sans', 'Liberation Sans', sans-serif; text-anchor: middle" x="99.58" y="764.46">2</text>
</g>
</g>
<g id="xtick_69">
<g id="line2d_317">
<path d="M 157.91 749.86 
L 157.91 611.57 
" clip-path="url(#p487bf5fa23)" style="fill: none; stroke: #b0b0b0; stroke-width: 0.92; stroke-linecap: square"/>
</g>
<g id="line2d_318">
<g>
<path d="M 0 0 
L 0 3.5 
" transform="translate(157.91 749.86)" style="stroke: #000000; stroke-width: 0.92"/>
</g>
</g>
<g id="text_114">
<text style="font-size: 10px; font-family: 'DejaVu Sans', 'Liberation Sans', sans-serif; text-anchor: middle" x="157.91" y="764.46">4</text>
</g>
</g>
<g id="xtick_70">
<g id="line2d_319">
<path d="M 216.24 749.86 
L 216.24 611.57 
" clip-path="url(#p487bf5fa23)" style="fill: none; stroke: #b0b0b0; stroke-width: 0.92; stroke-linecap: square"/>
</g>
<g id="line2d_320">
<g>
<path d="M 0 0 
L 0 3.5 
" transform="translate(216.24 749.86)" style="stroke: #000000; stroke-width: 0.92"/>
</g>
</g>
<g id="text_115">
<text style="font-size: 10px; font-family: 'DejaVu Sans', 'Liberation Sans', sans-serif; text-anchor: middle" x="216.24" y="764.46">6</text>
</g>
</g>
<g id="xtick_71">
<g id="line2d_321">
<path d="M 274.58 749.86 
L 274.58 611.57 
" clip-path="url(#p487bf5fa23)" style="fill: none; stroke: #b0b0b0; stroke-width: 0.92; stroke-linecap: square"/>
</g>
<g id="line2d_322">
<g>
<path d="M 0 0 
L 0 3.5 
" transform="translate(274.58 749.86)" style="stroke: #000000; stroke-width: 0.92"/>
</g>
</g>
<g id="text_116">
<text style="font-size: 10px; font-family: 'DejaVu Sans', 'Liberation Sans', sans-serif; text-anchor: middle" x="274.58" y="764.46">8</text>
</g>
</g>
<g id="xtick_72">
<g id="line2d_323">
<path d="M 70.41 749.86 
L 70.41 611.57 
" clip-path="url(#p487bf5fa23)" style="fill: none; stroke: #b0b0b0; stroke-opacity: 0.3; stroke-width: 0.92; stroke-linecap: square"/>
</g>
<g id="line2d_324">
<g>
<path d="M 0 0 
L 0 2 
" transform="translate(70.41 749.86)" style="stroke: #000000; stroke-width: 0.69"/>
</g>
</g>
</g>
<g id="xtick_73">
<g id="line2d_325">
<path d="M 128.74 749.86 
L 128.74 611.57 
" clip-path="url(#p487bf5fa23)" style="fill: none; stroke: #b0b0b0; stroke-opacity: 0.3; stroke-width: 0.92; stroke-linecap: square"/>
</g>
<g id="line2d_326">
<g>
<path d="M 0 0 
L 0 2 
" transform="translate(128.74 749.86)" style="stroke: #000000; stroke-width: 0.69"/>
</g>
</g>
</g>
<g id="xtick_74">
<g id="line2d_327">
<path d="M 187.08 749.86 
L 187.08 611.57 
" clip-path="url(#p487bf5fa23)" style="fill: none; stroke: #b0b0b0; stroke-opacity: 0.3; stroke-width: 0.92; stroke-linecap: square"/>
</g>
<g id="line2d_328">
<g>
<path d="M 0 0 
L 0 2 
" transform="translate(187.08 749.86)" style="stroke: #000000; stroke-width: 0.69"/>
</g>
</g>
</g>
<g id="xtick_75">
<g id="line2d_329">
<path d="M 245.41 749.86 
L 245.41 611.57 
" clip-path="url(#p487bf5fa23)" style="fill: none; stroke: #b0b0b0; stroke-opacity: 0.3; stroke-width: 0.92; stroke-linecap: square"/>
</g>
<g id="line2d_330">
<g>
<path d="M 0 0 
L 0 2 
" transform="translate(245.41 749.86)" style="stroke: #000000; stroke-width: 0.69"/>
</g>
</g>
</g>
<g id="xtick_76">
<g id="line2d_331">
<path d="M 303.75 749.86 
L 303.75 611.57 
" clip-path="url(#p487bf5fa23)" style="fill: none; stroke: #b0b0b0; stroke-opacity: 0.3; stroke-width: 0.92; stroke-linecap: square"/>
</g>
<g id="line2d_332">
<g>
<path d="M 0 0 
L 0 2 
" transform="translate(303.75 749.86)" style="stroke: #000000; stroke-width: 0.69"/>
</g>
</g>
</g>
<g id="text_117">
<text style="font-size: 10px; font-family: 'DejaVu Sans', 'Liberation Sans', sans-serif; text-anchor: middle" x="179.79" y="778.13">Particle size [mm]</text>
</g>
</g>
<g id="matplotlib.axis_14">
<g id="ytick_67">
<g id="line2d_333">
<path d="M 43.43 743.57 
L 316.14 743.57 
" clip-path="url(#p487bf5fa23)" style="fill: none; stroke: #b0b0b0; stroke-width: 0.92; stroke-linecap: square"/>
</g>
<g id="line2d_334">
<g>
<path d="M 0 0 
L -3.5 0 
" transform="translate(43.43 743.57)" style="stroke: #000000; stroke-width: 0.92"/>
</g>
</g>
<g id="text_118">
<text style="font-size: 10px; font-family: 'DejaVu Sans', 'Liberation Sans', sans-serif; text-anchor: end" x="36.43" y="747.37">0.0</text>
</g>
</g>
<g id="ytick_68">
<g id="line2d_335">
<path d="M 43.43 718.43 
L 316.14 718.43 
" clip-path="url(#p487bf5fa23)" style="fill: none; stroke: #b0b0b0; stroke-width: 0.92; stroke-linecap: square"/>
</g>
<g id="line2d_336">
<g>
<path d="M 0 0 
L -3.5 0 
" transform="translate(43.43 718.43)" style="stroke: #000000; stroke-width: 0.92"/>
</g>
</g>
<g id="text_119">
<text style="font-size: 10px; font-family: 'DejaVu Sans', 'Liberation Sans', sans-serif; text-anchor: end" x="36.43" y="722.23">0.2</text>
</g>
</g>
<g id="ytick_69">
<g id="line2d_337">
<path d="M 43.43 693.29 
L 316.14 693.29 
" clip-path="url(#p487bf5fa23)" style="fill: none; stroke: #b0b0b0; stroke-width: 0.92; stroke-linecap: square"/>
</g>
<g id="line2d_338">
<g>
<path d="M 0 0 
L -3.5 0 
" transform="translate(43.43 693.29)" style="stroke: #000000; stroke-width: 0.92"/>
</g>
</g>
<g id="text_120">
<text style="font-size: 10px; font-family: 'DejaVu Sans', 'Liberation Sans', sans-serif; text-anchor: end" x="36.43" y="697.08">0.4</text>
</g>
</g>
<g id="ytick_70">
<g id="line2d_339">
<path d="M 43.43 668.14 
L 316.14 668.14 
" clip-path="url(#p487bf5fa23)" style="fill: none; stroke: #b0b0b0; stroke-width: 0.92; stroke-linecap: square"/>
</g>
<g id="line2d_340">
<g>
<path d="M 0 0 
L -3.5 0 
" transform="translate(43.43 668.14)" style="stroke: #000000; stroke-width: 0.92"/>
</g>
</g>
<g id="text_121">
<text style="font-size: 10px; font-family: 'DejaVu Sans', 'Liberation Sans', sans-serif; text-anchor: end" x="36.43" y="671.94">0.6</text>
</g>
</g>
<g id="ytick_71">
<g id="line2d_341">
<path d="M 43.43 643 
L 316.14 643 
" clip-path="url(#p487bf5fa23)" style="fill: none; stroke: #b0b0b0; stroke-width: 0.92; stroke-linecap: square"/>
</g>
<g id="line2d_342">
<g>
<path d="M 0 0 
L -3.5 0 
" transform="translate(43.43 643)" style="stroke: #000000; stroke-width: 0.92"/>
</g>
</g>
<g id="text_122">
<text style="font-size: 10px; font-family: 'DejaVu Sans', 'Liberation Sans', sans-serif; text-anchor: end" x="36.43" y="646.8">0.8</text>
</g>
</g>
<g id="ytick_72">
<g id="line2d_343">
<path d="M 43.43 617.86 
L 316.14 617.86 
" clip-path="url(#p487bf5fa23)" style="fill: none; stroke: #b0b0b0; stroke-width: 0.92; stroke-linecap: square"/>
</g>
<g id="line2d_344">
<g>
<path d="M 0 0 
L -3.5 0 
" transform="translate(43.43 617.86)" style="stroke: #000000; stroke-width: 0.92"/>
</g>
</g>
<g id="text_123">
<text style="font-size: 10px; font-family: 'DejaVu Sans', 'Liberation Sans', sans-serif; text-anchor: end" x="36.43" y="621.66">1.0</text>
</g>
</g>
<g id="ytick_73">
<g id="line2d_345">
<path d="M 43.43 731 
L 316.14 731 
" clip-path="url(#p487bf5fa23)" style="fill: none; stroke: #b0b0b0; stroke-opacity: 0.3; stroke-width: 0.92; stroke-linecap: square"/>
</g>
<g id="line2d_346">
<g>
<path d="M 0 0 
L -2 0 
" transform="translate(43.43 731)" style="stroke: #000000; stroke-width: 0.69"/>
</g>
</g>
</g>
<g id="ytick_74">
<g id="line2d_347">
<path d="M 43.43 705.86 
L 316.14 705.86 
" clip-path="url(#p487bf5fa23)" style="fill: none; stroke: #b0b0b0; stroke-opacity: 0.3; stroke-width: 0.92; stroke-linecap: square"/>
</g>
<g id="line2d_348">
<g>
<path d="M 0 0 
L -2 0 
" transform="translate(43.43 705.86)" style="stroke: #000000; stroke-width: 0.69"/>
</g>
</g>
</g>
<g id="ytick_75">
<g id="line2d_349">
<path d="M 43.43 680.71 
L 316.14 680.71 
" clip-path="url(#p487bf5fa23)" style="fill: none; stroke: #b0b0b0; stroke-opacity: 0.3; stroke-width: 0.92; stroke-linecap: square"/>
</g>
<g id="line2d_350">
<g>
<path d="M 0 0 
L -2 0 
" transform="translate(43.43 680.71)" style="stroke: #000000; stroke-width: 0.69"/>
</g>
</g>
</g>
<g id="ytick_76">
<g id="line2d_351">
<path d="M 43.43 655.57 
L 316.14 655.57 
" clip-path="url(#p487bf5fa23)" style="fill: none; stroke: #b0b0b0; stroke-opacity: 0.3; stroke-width: 0.92; stroke-linecap: square"/>
</g>
<g id="line2d_352">
<g>
<path d="M 0 0 
L -2 0 
" transform="translate(43.43 655.57)" style="stroke: #000000; stroke-width: 0.69"/>
</g>
</g>
</g>
<g id="ytick_77">
<g id="line2d_353">
<path d="M 43.43 630.43 
L 316.14 630.43 
" clip-path="url(#p487bf5fa23)" style="fill: none; stroke: #b0b0b0; stroke-opacity: 0.3; stroke-width: 0.92; stroke-linecap: square"/>
</g>
<g id="line2d_354">
<g>
<path d="M 0 0 
L -2 0 
" transform="translate(43.43 630.43)" style="stroke: #000000; stroke-width: 0.69"/>
</g>
</g>
</g>
<g id="text_124">
<text style="font-size: 10px; font-family: 'DejaVu Sans', 'Liberation Sans', sans-serif; text-anchor: middle" x="14.45" y="680.71" transform="rotate(-90 14.45 680.71)">Cumulated mass [%]</text>
</g>
</g>
<g id="line2d_355">
<path d="M 55.82 743.31 
L 64.55 742.86 
L 73.27 742.17 
L 81.99 741.22 
L 89.46 740.2 
L 96.94 738.99 
L 104.41 737.57 
L 111.89 735.96 
L 119.36 734.13 
L 126.84 732.1 
L 134.31 729.85 
L 141.79 727.39 
L 149.26 724.71 
L 156.74 721.81 
L 164.21 718.69 
L 171.69 715.35 
L 179.16 711.78 
L 186.64 707.99 
L 194.11 703.96 
L 201.59 699.71 
L 209.06 695.23 
L 216.54 690.51 
L 224.01 685.56 
L 231.49 680.37 
L 238.96 674.95 
L 246.44 669.29 
L 255.16 662.38 
L 263.88 655.15 
L 272.6 647.58 
L 281.32 639.69 
L 290.04 631.46 
L 298.76 622.9 
L 303.75 617.86 
L 303.75 617.86 
" clip-path="url(#p487bf5fa23)" style="fill: none; stroke-dasharray: 9.6,2.4,1.5,2.4; stroke-dashoffset: 0; stroke: #1f77b4; stroke-width: 1.73"/>
<g clip-path="url(#p487bf5fa23)">
<path d="M 0 -3 
L -3 3 
L 3 3 
z
" transform="translate(55.82 743.31)" style="fill: #1f77b4; stroke: #1f77b4; stroke-linejoin: miter"/>
<path d="M 0 -3 
L -3 3 
L 3 3 
z
" transform="translate(85.72 740.74)" style="fill: #1f77b4; stroke: #1f77b4; stroke-linejoin: miter"/>
<path d="M 0 -3 
L -3 3 
L 3 3 
z
" transform="translate(116.87 734.76)" style="fill: #1f77b4; stroke: #1f77b4; stroke-linejoin: miter"/>
<path d="M 0 -3 
L -3 3 
L 3 3 
z
" transform="translate(145.53 726.07)" style="fill: #1f77b4; stroke: #1f77b4; stroke-linejoin: miter"/>
<path d="M 0 -3 
L -3 3 
L 3 3 
z
" transform="translate(174.18 714.18)" style="fill: #1f77b4; stroke: #1f77b4; stroke-linejoin: miter"/>
<path d="M 0 -3 
L -3 3 
L 3 3 
z
" transform="translate(200.34 700.43)" style="fill: #1f77b4; stroke: #1f77b4; stroke-linejoin: miter"/>
<path d="M 0 -3 
L -3 3 
L 3 3 
z
" transform="translate(226.5 683.86)" style="fill: #1f77b4; stroke: #1f77b4; stroke-linejoin: miter"/>
<path d="M 0 -3 
L -3 3 
L 3 3 
z
" transform="translate(251.42 665.38)" style="fill: #1f77b4; stroke: #1f77b4; stroke-linejoin: miter"/>
<path d="M 0 -3 
L -3 3 
L 3 3 
z
" transform="translate(275.09 645.36)" style="fill: #1f77b4; stroke: #1f77b4; stroke-linejoin: miter"/>
<path d="M 0 -3 
L -3 3 
L 3 3 
z
" transform="translate(296.27 625.38)" style="fill: #1f77b4; stroke: #1f77b4; stroke-linejoin: miter"/>
</g>
</g>
<g id="line2d_356">
<path d="M 55.82 743.57 
L 130.58 743.47 
L 141.79 743.23 
L 149.26 742.85 
L 154.25 742.41 
L 159.23 741.74 
L 162.97 741.04 
L 166.7 740.1 
L 170.44 738.87 
L 172.93 737.85 
L 175.43 736.64 
L 177.92 735.21 
L 180.41 733.53 
L 182.9 731.57 
L 185.39 729.3 
L 187.88 726.67 
L 190.38 723.67 
L 192.87 720.25 
L 195.36 716.4 
L 197.85 712.08 
L 200.34 707.3 
L 202.83 702.05 
L 205.33 696.36 
L 209.06 687.07 
L 212.8 677.1 
L 222.77 650.03 
L 225.26 643.93 
L 227.75 638.38 
L 230.24 633.5 
L 232.73 629.36 
L 235.23 625.97 
L 236.47 624.56 
L 237.72 623.33 
L 238.96 622.27 
L 240.21 621.37 
L 241.45 620.61 
L 243.95 619.48 
L 246.44 618.75 
L 248.93 618.31 
L 252.67 618 
L 257.65 617.88 
L 275.09 617.86 
L 303.75 617.86 
L 303.75 617.86 
" clip-path="url(#p487bf5fa23)" style="fill: none; stroke-dasharray: 9.6,2.4,1.5,2.4; stroke-dashoffset: 0; stroke: #ff7f0e; stroke-width: 1.73"/>
<g clip-path="url(#p487bf5fa23)">
<path d="M 0 3 
C 0.8 3 1.56 2.68 2.12 2.12 
C 2.68 1.56 3 0.8 3 0 
C 3 -0.8 2.68 -1.56 2.12 -2.12 
C 1.56 -2.68 0.8 -3 0 -3 
C -0.8 -3 -1.56 -2.68 -2.12 -2.12 
C -2.68 -1.56 -3 -0.8 -3 0 
C -3 0.8 -2.68 1.56 -2.12 2.12 
C -1.56 2.68 -0.8 3 0 3 
z
" transform="translate(55.82 743.57)" style="fill: #ff7f0e; stroke: #ff7f0e"/>
<path d="M 0 3 
C 0.8 3 1.56 2.68 2.12 2.12 
C 2.68 1.56 3 0.8 3 0 
C 3 -0.8 2.68 -1.56 2.12 -2.12 
C 1.56 -2.68 0.8 -3 0 -3 
C -0.8 -3 -1.56 -2.68 -2.12 -2.12 
C -2.68 -1.56 -3 -0.8 -3 0 
C -3 0.8 -2.68 1.56 -2.12 2.12 
C -1.56 2.68 -0.8 3 0 3 
z
" transform="translate(86.97 743.57)" style="fill: #ff7f0e; stroke: #ff7f0e"/>
<path d="M 0 3 
C 0.8 3 1.56 2.68 2.12 2.12 
C 2.68 1.56 3 0.8 3 0 
C 3 -0.8 2.68 -1.56 2.12 -2.12 
C 1.56 -2.68 0.8 -3 0 -3 
C -0.8 -3 -1.56 -2.68 -2.12 -2.12 
C -2.68 -1.56 -3 -0.8 -3 0 
C -3 0.8 -2.68 1.56 -2.12 2.12 
C -1.56 2.68 -0.8 3 0 3 
z
" transform="translate(116.87 743.55)" style="fill: #ff7f0e; stroke: #ff7f0e"/>
<path d="M 0 3 
C 0.8 3 1.56 2.68 2.12 2.12 
C 2.68 1.56 3 0.8 3 0 
C 3 -0.8 2.68 -1.56 2.12 -2.12 
C 1.56 -2.68 0.8 -3 0 -3 
C -0.8 -3 -1.56 -2.68 -2.12 -2.12 
C -2.68 -1.56 -3 -0.8 -3 0 
C -3 0.8 -2.68 1.56 -2.12 2.12 
C -1.56 2.68 -0.8 3 0 3 
z
" transform="translate(148.02 742.93)" style="fill: #ff7f0e; stroke: #ff7f0e"/>
<path d="M 0 3 
C 0.8 3 1.56 2.68 2.12 2.12 
C 2.68 1.56 3 0.8 3 0 
C 3 -0.8 2.68 -1.56 2.12 -2.12 
C 1.56 -2.68 0.8 -3 0 -3 
C -0.8 -3 -1.56 -2.68 -2.12 -2.12 
C -2.68 -1.56 -3 -0.8 -3 0 
C -3 0.8 -2.68 1.56 -2.12 2.12 
C -1.56 2.68 -0.8 3 0 3 
z
" transform="translate(176.67 735.95)" style="fill: #ff7f0e; stroke: #ff7f0e"/>
<path d="M 0 3 
C 0.8 3 1.56 2.68 2.12 2.12 
C 2.68 1.56 3 0.8 3 0 
C 3 -0.8 2.68 -1.56 2.12 -2.12 
C 1.56 -2.68 0.8 -3 0 -3 
C -0.8 -3 -1.56 -2.68 -2.12 -2.12 
C -2.68 -1.56 -3 -0.8 -3 0 
C -3 0.8 -2.68 1.56 -2.12 2.12 
C -1.56 2.68 -0.8 3 0 3 
z
" transform="translate(196.6 714.3)" style="fill: #ff7f0e; stroke: #ff7f0e"/>
<path d="M 0 3 
C 0.8 3 1.56 2.68 2.12 2.12 
C 2.68 1.56 3 0.8 3 0 
C 3 -0.8 2.68 -1.56 2.12 -2.12 
C 1.56 -2.68 0.8 -3 0 -3 
C -0.8 -3 -1.56 -2.68 -2.12 -2.12 
C -2.68 -1.56 -3 -0.8 -3 0 
C -3 0.8 -2.68 1.56 -2.12 2.12 
C -1.56 2.68 -0.8 3 0 3 
z
" transform="translate(210.31 683.81)" style="fill: #ff7f0e; stroke: #ff7f0e"/>
<path d="M 0 3 
C 0.8 3 1.56 2.68 2.12 2.12 
C 2.68 1.56 3 0.8 3 0 
C 3 -0.8 2.68 -1.56 2.12 -2.12 
C 1.56 -2.68 0.8 -3 0 -3 
C -0.8 -3 -1.56 -2.68 -2.12 -2.12 
C -2.68 -1.56 -3 -0.8 -3 0 
C -3 0.8 -2.68 1.56 -2.12 2.12 
C -1.56 2.68 -0.8 3 0 3 
z
" transform="translate(220.28 656.54)" style="fill: #ff7f0e; stroke: #ff7f0e"/>
<path d="M 0 3 
C 0.8 3 1.56 2.68 2.12 2.12 
C 2.68 1.56 3 0.8 3 0 
C 3 -0.8 2.68 -1.56 2.12 -2.12 
C 1.56 -2.68 0.8 -3 0 -3 
C -0.8 -3 -1.56 -2.68 -2.12 -2.12 
C -2.68 -1.56 -3 -0.8 -3 0 
C -3 0.8 -2.68 1.56 -2.12 2.12 
C -1.56 2.68 -0.8 3 0 3 
z
" transform="translate(232.73 629.36)" style="fill: #ff7f0e; stroke: #ff7f0e"/>
<path d="M 0 3 
C 0.8 3 1.56 2.68 2.12 2.12 
C 2.68 1.56 3 0.8 3 0 
C 3 -0.8 2.68 -1.56 2.12 -2.12 
C 1.56 -2.68 0.8 -3 0 -3 
C -0.8 -3 -1.56 -2.68 -2.12 -2.12 
C -2.68 -1.56 -3 -0.8 -3 0 
C -3 0.8 -2.68 1.56 -2.12 2.12 
C -1.56 2.68 -0.8 3 0 3 
z
" transform="translate(260.14 617.86)" style="fill: #ff7f0e; stroke: #ff7f0e"/>
<path d="M 0 3 
C 0.8 3 1.56 2.68 2.12 2.12 
C 2.68 1.56 3 0.8 3 0 
C 3 -0.8 2.68 -1.56 2.12 -2.12 
C 1.56 -2.68 0.8 -3 0 -3 
C -0.8 -3 -1.56 -2.68 -2.12 -2.12 
C -2.68 -1.56 -3 -0.8 -3 0 
C -3 0.8 -2.68 1.56 -2.12 2.12 
C -1.56 2.68 -0.8 3 0 3 
z
" transform="translate(290.04 617.86)" style="fill: #ff7f0e; stroke: #ff7f0e"/>
</g>
</g>
<g id="line2d_357">
<path d="M 55.82 743.57 
L 155.49 743.48 
L 160.48 743.27 
L 164.21 742.92 
L 166.7 742.53 
L 169.2 741.96 
L 171.69 741.15 
L 174.18 740.06 
L 176.67 738.61 
L 179.16 736.74 
L 181.65 734.41 
L 184.15 731.57 
L 186.64 728.19 
L 189.13 724.27 
L 191.62 719.82 
L 194.11 714.87 
L 196.6 709.49 
L 200.34 700.75 
L 205.33 688.37 
L 211.55 672.82 
L 215.29 664.01 
L 219.03 655.9 
L 221.52 650.96 
L 224.01 646.43 
L 226.5 642.33 
L 229 638.65 
L 231.49 635.39 
L 233.98 632.54 
L 236.47 630.06 
L 238.96 627.92 
L 241.45 626.11 
L 243.95 624.57 
L 246.44 623.29 
L 248.93 622.22 
L 251.42 621.34 
L 255.16 620.32 
L 258.9 619.57 
L 262.63 619.04 
L 267.62 618.56 
L 273.85 618.22 
L 282.57 617.99 
L 297.52 617.88 
L 303.75 617.87 
L 303.75 617.87 
" clip-path="url(#p487bf5fa23)" style="fill: none; stroke-dasharray: 9.6,2.4,1.5,2.4; stroke-dashoffset: 0; stroke: #2ca02c; stroke-width: 1.73"/>
<g clip-path="url(#p487bf5fa23)">
<path d="M -3 3 
L 3 3 
L 3 -3 
L -3 -3 
z
" transform="translate(55.82 743.57)" style="fill: #2ca02c; stroke: #2ca02c; stroke-linejoin: miter"/>
<path d="M -3 3 
L 3 3 
L 3 -3 
L -3 -3 
z
" transform="translate(86.97 743.57)" style="fill: #2ca02c; stroke: #2ca02c; stroke-linejoin: miter"/>
<path d="M -3 3 
L 3 3 
L 3 -3 
L -3 -3 
z
" transform="translate(116.87 743.57)" style="fill: #2ca02c; stroke: #2ca02c; stroke-linejoin: miter"/>
<path d="M -3 3 
L 3 3 
L 3 -3 
L -3 -3 
z
" transform="translate(148.02 743.56)" style="fill: #2ca02c; stroke: #2ca02c; stroke-linejoin: miter"/>
<path d="M -3 3 
L 3 3 
L 3 -3 
L -3 -3 
z
" transform="translate(176.67 738.61)" style="fill: #2ca02c; stroke: #2ca02c; stroke-linejoin: miter"/>
<path d="M -3 3 
L 3 3 
L 3 -3 
L -3 -3 
z
" transform="translate(194.11 714.87)" style="fill: #2ca02c; stroke: #2ca02c; stroke-linejoin: miter"/>
<path d="M -3 3 
L 3 3 
L 3 -3 
L -3 -3 
z
" transform="translate(206.57 685.22)" style="fill: #2ca02c; stroke: #2ca02c; stroke-linejoin: miter"/>
<path d="M -3 3 
L 3 3 
L 3 -3 
L -3 -3 
z
" transform="translate(217.78 658.52)" style="fill: #2ca02c; stroke: #2ca02c; stroke-linejoin: miter"/>
<path d="M -3 3 
L 3 3 
L 3 -3 
L -3 -3 
z
" transform="translate(235.23 631.25)" style="fill: #2ca02c; stroke: #2ca02c; stroke-linejoin: miter"/>
<path d="M -3 3 
L 3 3 
L 3 -3 
L -3 -3 
z
" transform="translate(262.63 619.04)" style="fill: #2ca02c; stroke: #2ca02c; stroke-linejoin: miter"/>
<path d="M -3 3 
L 3 3 
L 3 -3 
L -3 -3 
z
" transform="translate(292.53 617.9)" style="fill: #2ca02c; stroke: #2ca02c; stroke-linejoin: miter"/>
</g>
</g>
<g id="patch_39">
<path d="M 43.43 749.86 
L 43.43 611.57 
" style="fill: none; stroke: #000000; stroke-width: 0.92; stroke-linejoin: miter; stroke-linecap: square"/>
</g>
<g id="patch_40">
<path d="M 316.14 749.86 
L 316.14 611.57 
" style="fill: none; stroke: #000000; stroke-width: 0.92; stroke-linejoin: miter; stroke-linecap: square"/>
</g>
<g id="patch_41">
<path d="M 43.43 749.86 
L 316.14 749.86 
" style="fill: none; stroke: #000000; stroke-width: 0.92; stroke-linejoin: miter; stroke-linecap: square"/>
</g>
<g id="patch_42">
<path d="M 43.43 611.57 
L 316.14 611.57 
" style="fill: none; stroke: #000000; stroke-width: 0.92; stroke-linejoin: miter; stroke-linecap: square"/>
</g>
<g id="line2d_358">
<g clip-path="url(#p487bf5fa23)">
<path d="M -4 4 
L 4 -4 
M -4 -4 
L 4 4 
" transform="translate(55.82 743.57)" style="stroke: #000000; stroke-width: 1.26"/>
<path d="M -4 4 
L 4 -4 
M -4 -4 
L 4 4 
" transform="translate(87.91 739.8)" style="stroke: #000000; stroke-width: 1.26"/>
<path d="M -4 4 
L 4 -4 
M -4 -4 
L 4 4 
" transform="translate(157.91 738.54)" style="stroke: #000000; stroke-width: 1.26"/>
<path d="M -4 4 
L 4 -4 
M -4 -4 
L 4 4 
" transform="translate(172.49 735.27)" style="stroke: #000000; stroke-width: 1.26"/>
<path d="M -4 4 
L 4 -4 
M -4 -4 
L 4 4 
" transform="translate(187.08 729.74)" style="stroke: #000000; stroke-width: 1.26"/>
<path d="M -4 4 
L 4 -4 
M -4 -4 
L 4 4 
" transform="translate(225 644.26)" style="stroke: #000000; stroke-width: 1.26"/>
<path d="M -4 4 
L 4 -4 
M -4 -4 
L 4 4 
" transform="translate(274.58 617.86)" style="stroke: #000000; stroke-width: 1.26"/>
<path d="M -4 4 
L 4 -4 
M -4 -4 
L 4 4 
" transform="translate(303.75 617.86)" style="stroke: #000000; stroke-width: 1.26"/>
</g>
</g>
<g id="text_125">
<text style="font-size: 12px; font-family: 'DejaVu Sans', 'Liberation Sans', sans-serif; text-anchor: middle" x="179.79" y="605.57">Dry corn</text>
</g>
<g id="legend_7">
<g id="patch_43">
<path d="M 220.63 744.86 
L 309.14 744.86 
Q 311.14 744.86 311.14 742.86 
L 311.14 685.14 
Q 311.14 683.14 309.14 683.14 
L 220.63 683.14 
Q 218.63 683.14 218.63 685.14 
L 218.63 742.86 
Q 218.63 744.86 220.63 744.86 
z
" style="fill: #ffffff; opacity: 0.8; stroke: #cccccc; stroke-linejoin: miter"/>
</g>
<g id="line2d_359">
<g>
<path d="M -4 4 
L 4 -4 
M -4 -4 
L 4 4 
" transform="translate(232.63 691.24)" style="stroke: #000000; stroke-width: 1.26"/>
</g>
</g>
<g id="text_126">
<text style="font-size: 10px; font-family: 'DejaVu Sans', 'Liberation Sans', sans-serif; text-anchor: start" x="250.63" y="694.74">Real</text>
</g>
<g id="line2d_360">
<path d="M 222.63 705.92 
L 232.63 705.92 
L 242.63 705.92 
" style="fill: none; stroke-dasharray: 9.6,2.4,1.5,2.4; stroke-dashoffset: 0; stroke: #1f77b4; stroke-width: 1.73"/>
<g>
<path d="M 0 -3 
L -3 3 
L 3 3 
z
" transform="translate(232.63 705.92)" style="fill: #1f77b4; stroke: #1f77b4; stroke-linejoin: miter"/>
</g>
</g>
<g id="text_127">
<text style="font-size: 10px; font-family: 'DejaVu Sans', 'Liberation Sans', sans-serif; text-anchor: start" x="250.63" y="709.42">GGS</text>
</g>
<g id="line2d_361">
<path d="M 222.63 720.6 
L 232.63 720.6 
L 242.63 720.6 
" style="fill: none; stroke-dasharray: 9.6,2.4,1.5,2.4; stroke-dashoffset: 0; stroke: #ff7f0e; stroke-width: 1.73"/>
<g>
<path d="M 0 3 
C 0.8 3 1.56 2.68 2.12 2.12 
C 2.68 1.56 3 0.8 3 0 
C 3 -0.8 2.68 -1.56 2.12 -2.12 
C 1.56 -2.68 0.8 -3 0 -3 
C -0.8 -3 -1.56 -2.68 -2.12 -2.12 
C -2.68 -1.56 -3 -0.8 -3 0 
C -3 0.8 -2.68 1.56 -2.12 2.12 
C -1.56 2.68 -0.8 3 0 3 
z
" transform="translate(232.63 720.6)" style="fill: #ff7f0e; stroke: #ff7f0e"/>
</g>
</g>
<g id="text_128">
<text style="font-size: 10px; font-family: 'DejaVu Sans', 'Liberation Sans', sans-serif; text-anchor: start" x="250.63" y="724.1">RRSB</text>
</g>
<g id="line2d_362">
<path d="M 222.63 735.28 
L 232.63 735.28 
L 242.63 735.28 
" style="fill: none; stroke-dasharray: 9.6,2.4,1.5,2.4; stroke-dashoffset: 0; stroke: #2ca02c; stroke-width: 1.73"/>
<g>
<path d="M -3 3 
L 3 3 
L 3 -3 
L -3 -3 
z
" transform="translate(232.63 735.28)" style="fill: #2ca02c; stroke: #2ca02c; stroke-linejoin: miter"/>
</g>
</g>
<g id="text_129">
<text style="font-size: 10px; font-family: 'DejaVu Sans', 'Liberation Sans', sans-serif; text-anchor: start" x="250.63" y="738.78">Log-normal</text>
</g>
</g>
</g>
<g id="axes_8">
<g id="patch_44">
<path d="M 363.43 749.86 
L 636.43 749.86 
L 636.43 611.57 
L 363.43 611.57 
z
" style="fill: #ffffff"/>
</g>
<g id="matplotlib.axis_15">
<g id="xtick_77">
<g id="line2d_363">
<path d="M 375.84 749.86 
L 375.84 611.57 
" clip-path="url(#p288912e879)" style="fill: none; stroke: #b0b0b0; stroke-width: 0.92; stroke-linecap: square"/>
</g>
<g id="line2d_364">
<g>
<path d="M 0 0 
L 0 3.5 
" transform="translate(375.84 749.86)" style="stroke: #000000; stroke-width: 0.92"/>
</g>
</g>
<g id="text_130">
<text style="font-size: 10px; font-family: 'DejaVu Sans', 'Liberation Sans', sans-serif; text-anchor: middle" x="375.84" y="764.46">1</text>
</g>
</g>
<g id="xtick_78">
<g id="line2d_365">
<path d="M 411.29 749.86 
L 411.29 611.57 
" clip-path="url(#p288912e879)" style="fill: none; stroke: #b0b0b0; stroke-width: 0.92; stroke-linecap: square"/>
</g>
<g id="line2d_366">
<g>
<path d="M 0 0 
L 0 3.5 
" transform="translate(411.29 749.86)" style="stroke: #000000; stroke-width: 0.92"/>
</g>
</g>
<g id="text_131">
<text style="font-size: 10px; font-family: 'DejaVu Sans', 'Liberation Sans', sans-serif; text-anchor: middle" x="411.29" y="764.46">2</text>
</g>
</g>
<g id="xtick_79">
<g id="line2d_367">
<path d="M 446.75 749.86 
L 446.75 611.57 
" clip-path="url(#p288912e879)" style="fill: none; stroke: #b0b0b0; stroke-width: 0.92; stroke-linecap: square"/>
</g>
<g id="line2d_368">
<g>
<path d="M 0 0 
L 0 3.5 
" transform="translate(446.75 749.86)" style="stroke: #000000; stroke-width: 0.92"/>
</g>
</g>
<g id="text_132">
<text style="font-size: 10px; font-family: 'DejaVu Sans', 'Liberation Sans', sans-serif; text-anchor: middle" x="446.75" y="764.46">3</text>
</g>
</g>
<g id="xtick_80">
<g id="line2d_369">
<path d="M 482.2 749.86 
L 482.2 611.57 
" clip-path="url(#p288912e879)" style="fill: none; stroke: #b0b0b0; stroke-width: 0.92; stroke-linecap: square"/>
</g>
<g id="line2d_370">
<g>
<path d="M 0 0 
L 0 3.5 
" transform="translate(482.2 749.86)" style="stroke: #000000; stroke-width: 0.92"/>
</g>
</g>
<g id="text_133">
<text style="font-size: 10px; font-family: 'DejaVu Sans', 'Liberation Sans', sans-serif; text-anchor: middle" x="482.2" y="764.46">4</text>
</g>
</g>
<g id="xtick_81">
<g id="line2d_371">
<path d="M 517.66 749.86 
L 517.66 611.57 
" clip-path="url(#p288912e879)" style="fill: none; stroke: #b0b0b0; stroke-width: 0.92; stroke-linecap: square"/>
</g>
<g id="line2d_372">
<g>
<path d="M 0 0 
L 0 3.5 
" transform="translate(517.66 749.86)" style="stroke: #000000; stroke-width: 0.92"/>
</g>
</g>
<g id="text_134">
<text style="font-size: 10px; font-family: 'DejaVu Sans', 'Liberation Sans', sans-serif; text-anchor: middle" x="517.66" y="764.46">5</text>
</g>
</g>
<g id="xtick_82">
<g id="line2d_373">
<path d="M 553.11 749.86 
L 553.11 611.57 
" clip-path="url(#p288912e879)" style="fill: none; stroke: #b0b0b0; stroke-width: 0.92; stroke-linecap: square"/>
</g>
<g id="line2d_374">
<g>
<path d="M 0 0 
L 0 3.5 
" transform="translate(553.11 749.86)" style="stroke: #000000; stroke-width: 0.92"/>
</g>
</g>
<g id="text_135">
<text style="font-size: 10px; font-family: 'DejaVu Sans', 'Liberation Sans', sans-serif; text-anchor: middle" x="553.11" y="764.46">6</text>
</g>
</g>
<g id="xtick_83">
<g id="line2d_375">
<path d="M 588.56 749.86 
L 588.56 611.57 
" clip-path="url(#p288912e879)" style="fill: none; stroke: #b0b0b0; stroke-width: 0.92; stroke-linecap: square"/>
</g>
<g id="line2d_376">
<g>
<path d="M 0 0 
L 0 3.5 
" transform="translate(588.56 749.86)" style="stroke: #000000; stroke-width: 0.92"/>
</g>
</g>
<g id="text_136">
<text style="font-size: 10px; font-family: 'DejaVu Sans', 'Liberation Sans', sans-serif; text-anchor: middle" x="588.56" y="764.46">7</text>
</g>
</g>
<g id="xtick_84">
<g id="line2d_377">
<path d="M 624.02 749.86 
L 624.02 611.57 
" clip-path="url(#p288912e879)" style="fill: none; stroke: #b0b0b0; stroke-width: 0.92; stroke-linecap: square"/>
</g>
<g id="line2d_378">
<g>
<path d="M 0 0 
L 0 3.5 
" transform="translate(624.02 749.86)" style="stroke: #000000; stroke-width: 0.92"/>
</g>
</g>
<g id="text_137">
<text style="font-size: 10px; font-family: 'DejaVu Sans', 'Liberation Sans', sans-serif; text-anchor: middle" x="624.02" y="764.46">8</text>
</g>
</g>
<g id="xtick_85">
<g id="line2d_379">
<path d="M 393.56 749.86 
L 393.56 611.57 
" clip-path="url(#p288912e879)" style="fill: none; stroke: #b0b0b0; stroke-opacity: 0.3; stroke-width: 0.92; stroke-linecap: square"/>
</g>
<g id="line2d_380">
<g>
<path d="M 0 0 
L 0 2 
" transform="translate(393.56 749.86)" style="stroke: #000000; stroke-width: 0.69"/>
</g>
</g>
</g>
<g id="xtick_86">
<g id="line2d_381">
<path d="M 429.02 749.86 
L 429.02 611.57 
" clip-path="url(#p288912e879)" style="fill: none; stroke: #b0b0b0; stroke-opacity: 0.3; stroke-width: 0.92; stroke-linecap: square"/>
</g>
<g id="line2d_382">
<g>
<path d="M 0 0 
L 0 2 
" transform="translate(429.02 749.86)" style="stroke: #000000; stroke-width: 0.69"/>
</g>
</g>
</g>
<g id="xtick_87">
<g id="line2d_383">
<path d="M 464.47 749.86 
L 464.47 611.57 
" clip-path="url(#p288912e879)" style="fill: none; stroke: #b0b0b0; stroke-opacity: 0.3; stroke-width: 0.92; stroke-linecap: square"/>
</g>
<g id="line2d_384">
<g>
<path d="M 0 0 
L 0 2 
" transform="translate(464.47 749.86)" style="stroke: #000000; stroke-width: 0.69"/>
</g>
</g>
</g>
<g id="xtick_88">
<g id="line2d_385">
<path d="M 499.93 749.86 
L 499.93 611.57 
" clip-path="url(#p288912e879)" style="fill: none; stroke: #b0b0b0; stroke-opacity: 0.3; stroke-width: 0.92; stroke-linecap: square"/>
</g>
<g id="line2d_386">
<g>
<path d="M 0 0 
L 0 2 
" transform="translate(499.93 749.86)" style="stroke: #000000; stroke-width: 0.69"/>
</g>
</g>
</g>
<g id="xtick_89">
<g id="line2d_387">
<path d="M 535.38 749.86 
L 535.38 611.57 
" clip-path="url(#p288912e879)" style="fill: none; stroke: #b0b0b0; stroke-opacity: 0.3; stroke-width: 0.92; stroke-linecap: square"/>
</g>
<g id="line2d_388">
<g>
<path d="M 0 0 
L 0 2 
" transform="translate(535.38 749.86)" style="stroke: #000000; stroke-width: 0.69"/>
</g>
</g>
</g>
<g id="xtick_90">
<g id="line2d_389">
<path d="M 570.84 749.86 
L 570.84 611.57 
" clip-path="url(#p288912e879)" style="fill: none; stroke: #b0b0b0; stroke-opacity: 0.3; stroke-width: 0.92; stroke-linecap: square"/>
</g>
<g id="line2d_390">
<g>
<path d="M 0 0 
L 0 2 
" transform="translate(570.84 749.86)" style="stroke: #000000; stroke-width: 0.69"/>
</g>
</g>
</g>
<g id="xtick_91">
<g id="line2d_391">
<path d="M 606.29 749.86 
L 606.29 611.57 
" clip-path="url(#p288912e879)" style="fill: none; stroke: #b0b0b0; stroke-opacity: 0.3; stroke-width: 0.92; stroke-linecap: square"/>
</g>
<g id="line2d_392">
<g>
<path d="M 0 0 
L 0 2 
" transform="translate(606.29 749.86)" style="stroke: #000000; stroke-width: 0.69"/>
</g>
</g>
</g>
<g id="text_138">
<text style="font-size: 10px; font-family: 'DejaVu Sans', 'Liberation Sans', sans-serif; text-anchor: middle" x="499.93" y="778.13">Particle size [mm]</text>
</g>
</g>
<g id="matplotlib.axis_16">
<g id="ytick_78">
<g id="line2d_393">
<path d="M 363.43 743.57 
L 636.43 743.57 
" clip-path="url(#p288912e879)" style="fill: none; stroke: #b0b0b0; stroke-width: 0.92; stroke-linecap: square"/>
</g>
<g id="line2d_394">
<g>
<path d="M 0 0 
L -3.5 0 
" transform="translate(363.43 743.57)" style="stroke: #000000; stroke-width: 0.92"/>
</g>
</g>
<g id="text_139">
<text style="font-size: 10px; font-family: 'DejaVu Sans', 'Liberation Sans', sans-serif; text-anchor: end" x="356.43" y="747.37">0.0</text>
</g>
</g>
<g id="ytick_79">
<g id="line2d_395">
<path d="M 363.43 718.43 
L 636.43 718.43 
" clip-path="url(#p288912e879)" style="fill: none; stroke: #b0b0b0; stroke-width: 0.92; stroke-linecap: square"/>
</g>
<g id="line2d_396">
<g>
<path d="M 0 0 
L -3.5 0 
" transform="translate(363.43 718.43)" style="stroke: #000000; stroke-width: 0.92"/>
</g>
</g>
<g id="text_140">
<text style="font-size: 10px; font-family: 'DejaVu Sans', 'Liberation Sans', sans-serif; text-anchor: end" x="356.43" y="722.23">0.2</text>
</g>
</g>
<g id="ytick_80">
<g id="line2d_397">
<path d="M 363.43 693.29 
L 636.43 693.29 
" clip-path="url(#p288912e879)" style="fill: none; stroke: #b0b0b0; stroke-width: 0.92; stroke-linecap: square"/>
</g>
<g id="line2d_398">
<g>
<path d="M 0 0 
L -3.5 0 
" transform="translate(363.43 693.29)" style="stroke: #000000; stroke-width: 0.92"/>
</g>
</g>
<g id="text_141">
<text style="font-size: 10px; font-family: 'DejaVu Sans', 'Liberation Sans', sans-serif; text-anchor: end" x="356.43" y="697.08">0.4</text>
</g>
</g>
<g id="ytick_81">
<g id="line2d_399">
<path d="M 363.43 668.14 
L 636.43 668.14 
" clip-path="url(#p288912e879)" style="fill: none; stroke: #b0b0b0; stroke-width: 0.92; stroke-linecap: square"/>
</g>
<g id="line2d_400">
<g>
<path d="M 0 0 
L -3.5 0 
" transform="translate(363.43 668.14)" style="stroke: #000000; stroke-width: 0.92"/>
</g>
</g>
<g id="text_142">
<text style="font-size: 10px; font-family: 'DejaVu Sans', 'Liberation Sans', sans-serif; text-anchor: end" x="356.43" y="671.94">0.6</text>
</g>
</g>
<g id="ytick_82">
<g id="line2d_401">
<path d="M 363.43 643 
L 636.43 643 
" clip-path="url(#p288912e879)" style="fill: none; stroke: #b0b0b0; stroke-width: 0.92; stroke-linecap: square"/>
</g>
<g id="line2d_402">
<g>
<path d="M 0 0 
L -3.5 0 
" transform="translate(363.43 643)" style="stroke: #000000; stroke-width: 0.92"/>
</g>
</g>
<g id="text_143">
<text style="font-size: 10px; font-family: 'DejaVu Sans', 'Liberation Sans', sans-serif; text-anchor: end" x="356.43" y="646.8">0.8</text>
</g>
</g>
<g id="ytick_83">
<g id="line2d_403">
<path d="M 363.43 617.86 
L 636.43 617.86 
" clip-path="url(#p288912e879)" style="fill: none; stroke: #b0b0b0; stroke-width: 0.92; stroke-linecap: square"/>
</g>
<g id="line2d_404">
<g>
<path d="M 0 0 
L -3.5 0 
" transform="translate(363.43 617.86)" style="stroke: #000000; stroke-width: 0.92"/>
</g>
</g>
<g id="text_144">
<text style="font-size: 10px; font-family: 'DejaVu Sans', 'Liberation Sans', sans-serif; text-anchor: end" x="356.43" y="621.66">1.0</text>
</g>
</g>
<g id="ytick_84">
<g id="line2d_405">
<path d="M 363.43 731 
L 636.43 731 
" clip-path="url(#p288912e879)" style="fill: none; stroke: #b0b0b0; stroke-opacity: 0.3; stroke-width: 0.92; stroke-linecap: square"/>
</g>
<g id="line2d_406">
<g>
<path d="M 0 0 
L -2 0 
" transform="translate(363.43 731)" style="stroke: #000000; stroke-width: 0.69"/>
</g>
</g>
</g>
<g id="ytick_85">
<g id="line2d_407">
<path d="M 363.43 705.86 
L 636.43 705.86 
" clip-path="url(#p288912e879)" style="fill: none; stroke: #b0b0b0; stroke-opacity: 0.3; stroke-width: 0.92; stroke-linecap: square"/>
</g>
<g id="line2d_408">
<g>
<path d="M 0 0 
L -2 0 
" transform="translate(363.43 705.86)" style="stroke: #000000; stroke-width: 0.69"/>
</g>
</g>
</g>
<g id="ytick_86">
<g id="line2d_409">
<path d="M 363.43 680.71 
L 636.43 680.71 
" clip-path="url(#p288912e879)" style="fill: none; stroke: #b0b0b0; stroke-opacity: 0.3; stroke-width: 0.92; stroke-linecap: square"/>
</g>
<g id="line2d_410">
<g>
<path d="M 0 0 
L -2 0 
" transform="translate(363.43 680.71)" style="stroke: #000000; stroke-width: 0.69"/>
</g>
</g>
</g>
<g id="ytick_87">
<g id="line2d_411">
<path d="M 363.43 655.57 
L 636.43 655.57 
" clip-path="url(#p288912e879)" style="fill: none; stroke: #b0b0b0; stroke-opacity: 0.3; stroke-width: 0.92; stroke-linecap: square"/>
</g>
<g id="line2d_412">
<g>
<path d="M 0 0 
L -2 0 
" transform="translate(363.43 655.57)" style="stroke: #000000; stroke-width: 0.69"/>
</g>
</g>
</g>
<g id="ytick_88">
<g id="line2d_413">
<path d="M 363.43 630.43 
L 636.43 630.43 
" clip-path="url(#p288912e879)" style="fill: none; stroke: #b0b0b0; stroke-opacity: 0.3; stroke-width: 0.92; stroke-linecap: square"/>
</g>
<g id="line2d_414">
<g>
<path d="M 0 0 
L -2 0 
" transform="translate(363.43 630.43)" style="stroke: #000000; stroke-width: 0.69"/>
</g>
</g>
</g>
<g id="text_145">
<text style="font-size: 10px; font-family: 'DejaVu Sans', 'Liberation Sans', sans-serif; text-anchor: middle" x="334.45" y="680.71" transform="rotate(-90 334.45 680.71)">Cumulated mass [%]</text>
</g>
</g>
<g id="line2d_415">
<path d="M 375.84 732 
L 388.31 727.23 
L 403.27 721.25 
L 419.49 714.52 
L 438.19 706.51 
L 458.15 697.72 
L 479.35 688.12 
L 501.8 677.73 
L 526.74 665.93 
L 552.93 653.29 
L 580.37 639.79 
L 609.05 625.44 
L 624.02 617.86 
L 624.02 617.86 
" clip-path="url(#p288912e879)" style="fill: none; stroke-dasharray: 9.6,2.4,1.5,2.4; stroke-dashoffset: 0; stroke: #1f77b4; stroke-width: 1.73"/>
<g clip-path="url(#p288912e879)">
<path d="M 0 -3 
L -3 3 
L 3 3 
z
" transform="translate(375.84 732)" style="fill: #1f77b4; stroke: #1f77b4; stroke-linejoin: miter"/>
<path d="M 0 -3 
L -3 3 
L 3 3 
z
" transform="translate(404.52 720.74)" style="fill: #1f77b4; stroke: #1f77b4; stroke-linejoin: miter"/>
<path d="M 0 -3 
L -3 3 
L 3 3 
z
" transform="translate(431.96 709.21)" style="fill: #1f77b4; stroke: #1f77b4; stroke-linejoin: miter"/>
<path d="M 0 -3 
L -3 3 
L 3 3 
z
" transform="translate(460.64 696.6)" style="fill: #1f77b4; stroke: #1f77b4; stroke-linejoin: miter"/>
<path d="M 0 -3 
L -3 3 
L 3 3 
z
" transform="translate(488.08 684.11)" style="fill: #1f77b4; stroke: #1f77b4; stroke-linejoin: miter"/>
<path d="M 0 -3 
L -3 3 
L 3 3 
z
" transform="translate(515.52 671.27)" style="fill: #1f77b4; stroke: #1f77b4; stroke-linejoin: miter"/>
<path d="M 0 -3 
L -3 3 
L 3 3 
z
" transform="translate(544.2 657.53)" style="fill: #1f77b4; stroke: #1f77b4; stroke-linejoin: miter"/>
<path d="M 0 -3 
L -3 3 
L 3 3 
z
" transform="translate(571.64 644.11)" style="fill: #1f77b4; stroke: #1f77b4; stroke-linejoin: miter"/>
<path d="M 0 -3 
L -3 3 
L 3 3 
z
" transform="translate(599.08 630.46)" style="fill: #1f77b4; stroke: #1f77b4; stroke-linejoin: miter"/>
</g>
</g>
<g id="line2d_416">
<path d="M 375.84 743.32 
L 383.32 743.01 
L 389.56 742.56 
L 395.79 741.88 
L 400.78 741.12 
L 405.77 740.13 
L 410.76 738.87 
L 414.5 737.72 
L 418.24 736.37 
L 421.98 734.81 
L 425.72 733.02 
L 429.46 730.98 
L 433.21 728.68 
L 436.95 726.11 
L 440.69 723.26 
L 444.43 720.13 
L 448.17 716.7 
L 451.91 713 
L 455.65 709.03 
L 460.64 703.33 
L 465.63 697.23 
L 470.62 690.8 
L 478.1 680.73 
L 491.82 662.1 
L 496.81 655.68 
L 501.8 649.62 
L 505.54 645.39 
L 509.28 641.45 
L 513.02 637.84 
L 516.77 634.57 
L 520.51 631.66 
L 524.25 629.1 
L 527.99 626.88 
L 531.73 625 
L 535.47 623.42 
L 539.21 622.12 
L 542.96 621.06 
L 546.7 620.23 
L 551.69 619.4 
L 556.67 618.82 
L 562.91 618.37 
L 570.39 618.08 
L 581.62 617.91 
L 605.31 617.86 
L 624.02 617.86 
L 624.02 617.86 
" clip-path="url(#p288912e879)" style="fill: none; stroke-dasharray: 9.6,2.4,1.5,2.4; stroke-dashoffset: 0; stroke: #ff7f0e; stroke-width: 1.73"/>
<g clip-path="url(#p288912e879)">
<path d="M 0 3 
C 0.8 3 1.56 2.68 2.12 2.12 
C 2.68 1.56 3 0.8 3 0 
C 3 -0.8 2.68 -1.56 2.12 -2.12 
C 1.56 -2.68 0.8 -3 0 -3 
C -0.8 -3 -1.56 -2.68 -2.12 -2.12 
C -2.68 -1.56 -3 -0.8 -3 0 
C -3 0.8 -2.68 1.56 -2.12 2.12 
C -1.56 2.68 -0.8 3 0 3 
z
" transform="translate(375.84 743.32)" style="fill: #ff7f0e; stroke: #ff7f0e"/>
<path d="M 0 3 
C 0.8 3 1.56 2.68 2.12 2.12 
C 2.68 1.56 3 0.8 3 0 
C 3 -0.8 2.68 -1.56 2.12 -2.12 
C 1.56 -2.68 0.8 -3 0 -3 
C -0.8 -3 -1.56 -2.68 -2.12 -2.12 
C -2.68 -1.56 -3 -0.8 -3 0 
C -3 0.8 -2.68 1.56 -2.12 2.12 
C -1.56 2.68 -0.8 3 0 3 
z
" transform="translate(405.77 740.13)" style="fill: #ff7f0e; stroke: #ff7f0e"/>
<path d="M 0 3 
C 0.8 3 1.56 2.68 2.12 2.12 
C 2.68 1.56 3 0.8 3 0 
C 3 -0.8 2.68 -1.56 2.12 -2.12 
C 1.56 -2.68 0.8 -3 0 -3 
C -0.8 -3 -1.56 -2.68 -2.12 -2.12 
C -2.68 -1.56 -3 -0.8 -3 0 
C -3 0.8 -2.68 1.56 -2.12 2.12 
C -1.56 2.68 -0.8 3 0 3 
z
" transform="translate(434.45 727.86)" style="fill: #ff7f0e; stroke: #ff7f0e"/>
<path d="M 0 3 
C 0.8 3 1.56 2.68 2.12 2.12 
C 2.68 1.56 3 0.8 3 0 
C 3 -0.8 2.68 -1.56 2.12 -2.12 
C 1.56 -2.68 0.8 -3 0 -3 
C -0.8 -3 -1.56 -2.68 -2.12 -2.12 
C -2.68 -1.56 -3 -0.8 -3 0 
C -3 0.8 -2.68 1.56 -2.12 2.12 
C -1.56 2.68 -0.8 3 0 3 
z
" transform="translate(456.9 707.64)" style="fill: #ff7f0e; stroke: #ff7f0e"/>
<path d="M 0 3 
C 0.8 3 1.56 2.68 2.12 2.12 
C 2.68 1.56 3 0.8 3 0 
C 3 -0.8 2.68 -1.56 2.12 -2.12 
C 1.56 -2.68 0.8 -3 0 -3 
C -0.8 -3 -1.56 -2.68 -2.12 -2.12 
C -2.68 -1.56 -3 -0.8 -3 0 
C -3 0.8 -2.68 1.56 -2.12 2.12 
C -1.56 2.68 -0.8 3 0 3 
z
" transform="translate(475.61 684.12)" style="fill: #ff7f0e; stroke: #ff7f0e"/>
<path d="M 0 3 
C 0.8 3 1.56 2.68 2.12 2.12 
C 2.68 1.56 3 0.8 3 0 
C 3 -0.8 2.68 -1.56 2.12 -2.12 
C 1.56 -2.68 0.8 -3 0 -3 
C -0.8 -3 -1.56 -2.68 -2.12 -2.12 
C -2.68 -1.56 -3 -0.8 -3 0 
C -3 0.8 -2.68 1.56 -2.12 2.12 
C -1.56 2.68 -0.8 3 0 3 
z
" transform="translate(494.32 658.85)" style="fill: #ff7f0e; stroke: #ff7f0e"/>
<path d="M 0 3 
C 0.8 3 1.56 2.68 2.12 2.12 
C 2.68 1.56 3 0.8 3 0 
C 3 -0.8 2.68 -1.56 2.12 -2.12 
C 1.56 -2.68 0.8 -3 0 -3 
C -0.8 -3 -1.56 -2.68 -2.12 -2.12 
C -2.68 -1.56 -3 -0.8 -3 0 
C -3 0.8 -2.68 1.56 -2.12 2.12 
C -1.56 2.68 -0.8 3 0 3 
z
" transform="translate(514.27 636.71)" style="fill: #ff7f0e; stroke: #ff7f0e"/>
<path d="M 0 3 
C 0.8 3 1.56 2.68 2.12 2.12 
C 2.68 1.56 3 0.8 3 0 
C 3 -0.8 2.68 -1.56 2.12 -2.12 
C 1.56 -2.68 0.8 -3 0 -3 
C -0.8 -3 -1.56 -2.68 -2.12 -2.12 
C -2.68 -1.56 -3 -0.8 -3 0 
C -3 0.8 -2.68 1.56 -2.12 2.12 
C -1.56 2.68 -0.8 3 0 3 
z
" transform="translate(540.46 621.74)" style="fill: #ff7f0e; stroke: #ff7f0e"/>
<path d="M 0 3 
C 0.8 3 1.56 2.68 2.12 2.12 
C 2.68 1.56 3 0.8 3 0 
C 3 -0.8 2.68 -1.56 2.12 -2.12 
C 1.56 -2.68 0.8 -3 0 -3 
C -0.8 -3 -1.56 -2.68 -2.12 -2.12 
C -2.68 -1.56 -3 -0.8 -3 0 
C -3 0.8 -2.68 1.56 -2.12 2.12 
C -1.56 2.68 -0.8 3 0 3 
z
" transform="translate(571.64 618.05)" style="fill: #ff7f0e; stroke: #ff7f0e"/>
<path d="M 0 3 
C 0.8 3 1.56 2.68 2.12 2.12 
C 2.68 1.56 3 0.8 3 0 
C 3 -0.8 2.68 -1.56 2.12 -2.12 
C 1.56 -2.68 0.8 -3 0 -3 
C -0.8 -3 -1.56 -2.68 -2.12 -2.12 
C -2.68 -1.56 -3 -0.8 -3 0 
C -3 0.8 -2.68 1.56 -2.12 2.12 
C -1.56 2.68 -0.8 3 0 3 
z
" transform="translate(601.57 617.86)" style="fill: #ff7f0e; stroke: #ff7f0e"/>
</g>
</g>
<g id="line2d_417">
<path d="M 375.84 743.57 
L 399.53 743.47 
L 405.77 743.22 
L 410.76 742.78 
L 414.5 742.21 
L 418.24 741.37 
L 420.73 740.63 
L 423.23 739.72 
L 425.72 738.62 
L 428.22 737.33 
L 430.71 735.83 
L 433.21 734.11 
L 435.7 732.17 
L 438.19 730.01 
L 440.69 727.64 
L 444.43 723.69 
L 448.17 719.33 
L 451.91 714.6 
L 456.9 707.85 
L 463.14 698.94 
L 476.86 679.11 
L 481.84 672.28 
L 486.83 665.84 
L 490.57 661.3 
L 494.32 657.04 
L 498.06 653.07 
L 501.8 649.38 
L 505.54 645.99 
L 509.28 642.89 
L 513.02 640.06 
L 516.77 637.5 
L 520.51 635.18 
L 524.25 633.11 
L 527.99 631.25 
L 531.73 629.59 
L 536.72 627.66 
L 541.71 626.02 
L 546.7 624.64 
L 551.69 623.47 
L 557.92 622.28 
L 564.16 621.33 
L 571.64 620.44 
L 579.12 619.77 
L 587.85 619.2 
L 599.08 618.71 
L 612.8 618.34 
L 624.02 618.16 
L 624.02 618.16 
" clip-path="url(#p288912e879)" style="fill: none; stroke-dasharray: 9.6,2.4,1.5,2.4; stroke-dashoffset: 0; stroke: #2ca02c; stroke-width: 1.73"/>
<g clip-path="url(#p288912e879)">
<path d="M -3 3 
L 3 3 
L 3 -3 
L -3 -3 
z
" transform="translate(375.84 743.57)" style="fill: #2ca02c; stroke: #2ca02c; stroke-linejoin: miter"/>
<path d="M -3 3 
L 3 3 
L 3 -3 
L -3 -3 
z
" transform="translate(407.02 743.14)" style="fill: #2ca02c; stroke: #2ca02c; stroke-linejoin: miter"/>
<path d="M -3 3 
L 3 3 
L 3 -3 
L -3 -3 
z
" transform="translate(434.45 733.16)" style="fill: #2ca02c; stroke: #2ca02c; stroke-linejoin: miter"/>
<path d="M -3 3 
L 3 3 
L 3 -3 
L -3 -3 
z
" transform="translate(455.65 709.58)" style="fill: #2ca02c; stroke: #2ca02c; stroke-linejoin: miter"/>
<path d="M -3 3 
L 3 3 
L 3 -3 
L -3 -3 
z
" transform="translate(473.11 684.42)" style="fill: #2ca02c; stroke: #2ca02c; stroke-linejoin: miter"/>
<path d="M -3 3 
L 3 3 
L 3 -3 
L -3 -3 
z
" transform="translate(490.57 661.3)" style="fill: #2ca02c; stroke: #2ca02c; stroke-linejoin: miter"/>
<path d="M -3 3 
L 3 3 
L 3 -3 
L -3 -3 
z
" transform="translate(513.02 640.06)" style="fill: #2ca02c; stroke: #2ca02c; stroke-linejoin: miter"/>
<path d="M -3 3 
L 3 3 
L 3 -3 
L -3 -3 
z
" transform="translate(540.46 626.41)" style="fill: #2ca02c; stroke: #2ca02c; stroke-linejoin: miter"/>
<path d="M -3 3 
L 3 3 
L 3 -3 
L -3 -3 
z
" transform="translate(570.39 620.57)" style="fill: #2ca02c; stroke: #2ca02c; stroke-linejoin: miter"/>
<path d="M -3 3 
L 3 3 
L 3 -3 
L -3 -3 
z
" transform="translate(601.57 618.62)" style="fill: #2ca02c; stroke: #2ca02c; stroke-linejoin: miter"/>
</g>
</g>
<g id="patch_45">
<path d="M 363.43 749.86 
L 363.43 611.57 
" style="fill: none; stroke: #000000; stroke-width: 0.92; stroke-linejoin: miter; stroke-linecap: square"/>
</g>
<g id="patch_46">
<path d="M 636.43 749.86 
L 636.43 611.57 
" style="fill: none; stroke: #000000; stroke-width: 0.92; stroke-linejoin: miter; stroke-linecap: square"/>
</g>
<g id="patch_47">
<path d="M 363.43 749.86 
L 636.43 749.86 
" style="fill: none; stroke: #000000; stroke-width: 0.92; stroke-linejoin: miter; stroke-linecap: square"/>
</g>
<g id="patch_48">
<path d="M 363.43 611.57 
L 636.43 611.57 
" style="fill: none; stroke: #000000; stroke-width: 0.92; stroke-linejoin: miter; stroke-linecap: square"/>
</g>
<g id="line2d_418">
<g clip-path="url(#p288912e879)">
<path d="M -4 4 
L 4 -4 
M -4 -4 
L 4 4 
" transform="translate(375.84 743.57)" style="stroke: #000000; stroke-width: 1.26"/>
<path d="M -4 4 
L 4 -4 
M -4 -4 
L 4 4 
" transform="translate(411.29 741.06)" style="stroke: #000000; stroke-width: 1.26"/>
<path d="M -4 4 
L 4 -4 
M -4 -4 
L 4 4 
" transform="translate(452.06 712.14)" style="stroke: #000000; stroke-width: 1.26"/>
<path d="M -4 4 
L 4 -4 
M -4 -4 
L 4 4 
" transform="translate(482.2 675.06)" style="stroke: #000000; stroke-width: 1.26"/>
<path d="M -4 4 
L 4 -4 
M -4 -4 
L 4 4 
" transform="translate(538.93 622.89)" style="stroke: #000000; stroke-width: 1.26"/>
<path d="M -4 4 
L 4 -4 
M -4 -4 
L 4 4 
" transform="translate(624.02 617.86)" style="stroke: #000000; stroke-width: 1.26"/>
</g>
</g>
<g id="text_146">
<text style="font-size: 12px; font-family: 'DejaVu Sans', 'Liberation Sans', sans-serif; text-anchor: middle" x="499.93" y="605.57">Stone chippings 2-5 mm</text>
</g>
<g id="legend_8">
<g id="patch_49">
<path d="M 540.92 744.86 
L 629.43 744.86 
Q 631.43 744.86 631.43 742.86 
L 631.43 685.14 
Q 631.43 683.14 629.43 683.14 
L 540.92 683.14 
Q 538.92 683.14 538.92 685.14 
L 538.92 742.86 
Q 538.92 744.86 540.92 744.86 
z
" style="fill: #ffffff; opacity: 0.8; stroke: #cccccc; stroke-linejoin: miter"/>
</g>
<g id="line2d_419">
<g>
<path d="M -4 4 
L 4 -4 
M -4 -4 
L 4 4 
" transform="translate(552.92 691.24)" style="stroke: #000000; stroke-width: 1.26"/>
</g>
</g>
<g id="text_147">
<text style="font-size: 10px; font-family: 'DejaVu Sans', 'Liberation Sans', sans-serif; text-anchor: start" x="570.92" y="694.74">Real</text>
</g>
<g id="line2d_420">
<path d="M 542.92 705.92 
L 552.92 705.92 
L 562.92 705.92 
" style="fill: none; stroke-dasharray: 9.6,2.4,1.5,2.4; stroke-dashoffset: 0; stroke: #1f77b4; stroke-width: 1.73"/>
<g>
<path d="M 0 -3 
L -3 3 
L 3 3 
z
" transform="translate(552.92 705.92)" style="fill: #1f77b4; stroke: #1f77b4; stroke-linejoin: miter"/>
</g>
</g>
<g id="text_148">
<text style="font-size: 10px; font-family: 'DejaVu Sans', 'Liberation Sans', sans-serif; text-anchor: start" x="570.92" y="709.42">GGS</text>
</g>
<g id="line2d_421">
<path d="M 542.92 720.6 
L 552.92 720.6 
L 562.92 720.6 
" style="fill: none; stroke-dasharray: 9.6,2.4,1.5,2.4; stroke-dashoffset: 0; stroke: #ff7f0e; stroke-width: 1.73"/>
<g>
<path d="M 0 3 
C 0.8 3 1.56 2.68 2.12 2.12 
C 2.68 1.56 3 0.8 3 0 
C 3 -0.8 2.68 -1.56 2.12 -2.12 
C 1.56 -2.68 0.8 -3 0 -3 
C -0.8 -3 -1.56 -2.68 -2.12 -2.12 
C -2.68 -1.56 -3 -0.8 -3 0 
C -3 0.8 -2.68 1.56 -2.12 2.12 
C -1.56 2.68 -0.8 3 0 3 
z
" transform="translate(552.92 720.6)" style="fill: #ff7f0e; stroke: #ff7f0e"/>
</g>
</g>
<g id="text_149">
<text style="font-size: 10px; font-family: 'DejaVu Sans', 'Liberation Sans', sans-serif; text-anchor: start" x="570.92" y="724.1">RRSB</text>
</g>
<g id="line2d_422">
<path d="M 542.92 735.28 
L 552.92 735.28 
L 562.92 735.28 
" style="fill: none; stroke-dasharray: 9.6,2.4,1.5,2.4; stroke-dashoffset: 0; stroke: #2ca02c; stroke-width: 1.73"/>
<g>
<path d="M -3 3 
L 3 3 
L 3 -3 
L -3 -3 
z
" transform="translate(552.92 735.28)" style="fill: #2ca02c; stroke: #2ca02c; stroke-linejoin: miter"/>
</g>
</g>
<g id="text_150">
<text style="font-size: 10px; font-family: 'DejaVu Sans', 'Liberation Sans', sans-serif; text-anchor: start" x="570.92" y="738.78">Log-normal</text>
</g>
</g>
</g>
</g>
<defs>
<clipPath id="pbe98b4c675">
<rect x="43.43" y="22" width="272.71" height="138.57"/>
</clipPath>
<clipPath id="pab5b54e677">
<rect x="363.43" y="22" width="273" height="138.57"/>
</clipPath>
<clipPath id="pd8965951e7">
<rect x="43.43" y="218.86" width="272.71" height="138.29"/>
</clipPath>
<clipPath id="p1db4be6642">
<rect x="363.43" y="218.86" width="273" height="138.29"/>
</clipPath>
<clipPath id="p84d23c96f6">
<rect x="43.43" y="415.29" width="272.71" height="138.57"/>
</clipPath>
<clipPath id="p877b58479d">
<rect x="363.43" y="415.29" width="273" height="138.57"/>
</clipPath>
<clipPath id="p487bf5fa23">
<rect x="43.43" y="611.57" width="272.71" height="138.29"/>
</clipPath>
<clipPath id="p288912e879">
<rect x="363.43" y="611.57" width="273" height="138.29"/>
</clipPath>
</defs>
</g></svg>

</body></html>
